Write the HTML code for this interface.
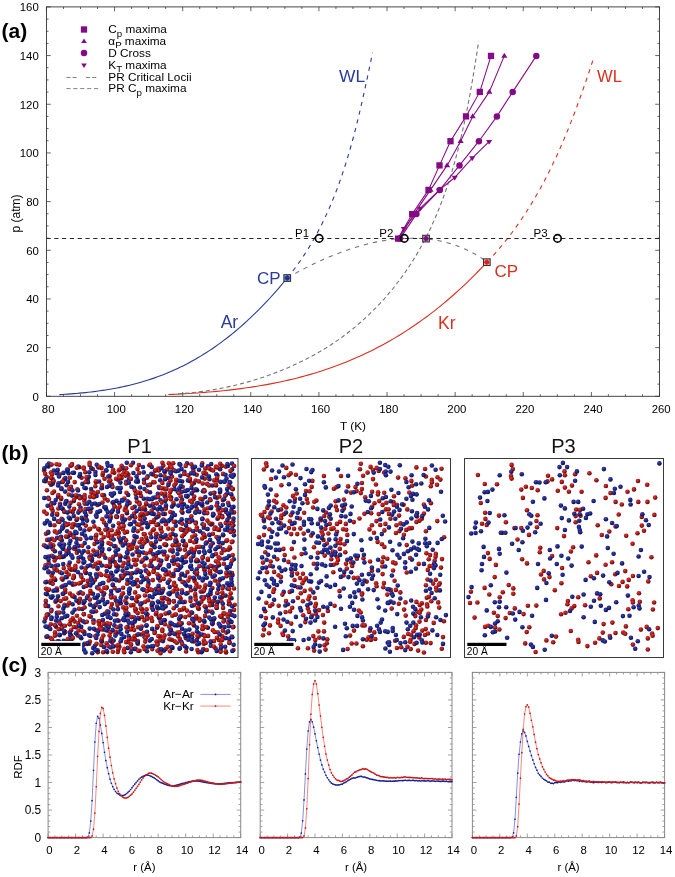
<!DOCTYPE html>
<html lang="en"><head><meta charset="utf-8"><title>Figure</title>
<style>html,body{margin:0;padding:0;background:#fff}svg{display:block}</style></head><body>
<svg width="675" height="877" viewBox="0 0 675 877">
<rect width="675" height="877" fill="#fff"/>
<defs>
<radialGradient id="gr" cx="0.4" cy="0.35" r="0.65"><stop offset="0" stop-color="#dc3832"/><stop offset="0.45" stop-color="#b81a18"/><stop offset="1" stop-color="#520808"/></radialGradient>
<radialGradient id="gb" cx="0.4" cy="0.35" r="0.65"><stop offset="0" stop-color="#3846b4"/><stop offset="0.45" stop-color="#202890"/><stop offset="1" stop-color="#0a0c40"/></radialGradient>
<circle id="r" r="2.3" fill="url(#gr)"/><circle id="b" r="2.3" fill="url(#gb)"/>
</defs>
<g id="top">
<path d="M59.39 394.65 L62.28 394.48 L65.16 394.30 L68.04 394.10 L70.93 393.89 L73.81 393.67 L76.70 393.43 L79.58 393.17 L82.47 392.90 L85.35 392.60 L88.23 392.29 L91.12 391.96 L94.00 391.61 L96.89 391.23 L99.77 390.83 L102.65 390.41 L105.54 389.97 L108.42 389.50 L111.31 389.00 L114.19 388.48 L117.08 387.93 L119.96 387.35 L122.84 386.74 L125.73 386.11 L128.61 385.44 L131.50 384.74 L134.38 384.00 L137.27 383.23 L140.15 382.43 L143.03 381.59 L145.92 380.72 L148.80 379.81 L151.69 378.86 L154.57 377.87 L157.45 376.84 L160.34 375.77 L163.22 374.66 L166.11 373.51 L168.99 372.31 L171.88 371.07 L174.76 369.79 L177.64 368.46 L180.53 367.08 L183.41 365.66 L186.30 364.19 L189.18 362.67 L192.06 361.10 L194.95 359.49 L197.83 357.82 L200.72 356.10 L203.60 354.33 L206.49 352.50 L209.37 350.63 L212.25 348.70 L215.14 346.71 L218.02 344.67 L220.91 342.58 L223.79 340.43 L226.67 338.22 L229.56 335.95 L232.44 333.63 L235.33 331.25 L238.21 328.81 L241.10 326.31 L243.98 323.76 L246.86 321.14 L249.75 318.46 L252.63 315.72 L255.52 312.92 L258.40 310.06 L261.28 307.14 L264.17 304.16 L267.05 301.11 L269.94 298.00 L272.82 294.83 L275.71 291.59 L278.59 288.30 L281.47 284.93 L284.36 281.51 L287.24 278.02" fill="none" stroke="#2a3b9b" stroke-width="1.1"/>
<path d="M168.38 394.55 L172.41 394.37 L176.44 394.18 L180.47 393.97 L184.50 393.75 L188.53 393.52 L192.56 393.27 L196.60 392.99 L200.63 392.71 L204.66 392.40 L208.69 392.07 L212.72 391.72 L216.75 391.35 L220.78 390.96 L224.81 390.54 L228.84 390.10 L232.87 389.63 L236.91 389.14 L240.94 388.62 L244.97 388.07 L249.00 387.49 L253.03 386.88 L257.06 386.24 L261.09 385.57 L265.12 384.86 L269.15 384.12 L273.18 383.35 L277.21 382.54 L281.25 381.69 L285.28 380.81 L289.31 379.88 L293.34 378.91 L297.37 377.91 L301.40 376.86 L305.43 375.76 L309.46 374.62 L313.49 373.44 L317.52 372.21 L321.56 370.93 L325.59 369.60 L329.62 368.22 L333.65 366.79 L337.68 365.31 L341.71 363.77 L345.74 362.18 L349.77 360.53 L353.80 358.82 L357.83 357.06 L361.86 355.24 L365.90 353.35 L369.93 351.41 L373.96 349.40 L377.99 347.32 L382.02 345.19 L386.05 342.98 L390.08 340.70 L394.11 338.36 L398.14 335.95 L402.17 333.46 L406.21 330.90 L410.24 328.26 L414.27 325.55 L418.30 322.77 L422.33 319.90 L426.36 316.95 L430.39 313.93 L434.42 310.82 L438.45 307.62 L442.48 304.34 L446.51 300.98 L450.55 297.52 L454.58 293.98 L458.61 290.34 L462.64 286.61 L466.67 282.79 L470.70 278.87 L474.73 274.85 L478.76 270.74 L482.79 266.52 L486.82 262.20" fill="none" stroke="#d8301f" stroke-width="1.1"/>
<path d="M287.24 278.02 L289.21 275.61 L291.14 273.18 L293.05 270.72 L294.91 268.25 L296.75 265.76 L298.55 263.26 L300.32 260.73 L302.06 258.19 L303.77 255.63 L305.45 253.05 L307.10 250.46 L308.72 247.85 L310.32 245.22 L311.88 242.58 L313.41 239.93 L314.92 237.26 L316.40 234.57 L317.85 231.87 L319.28 229.15 L320.68 226.42 L322.05 223.68 L323.40 220.93 L324.73 218.16 L326.03 215.38 L327.30 212.59 L328.56 209.78 L329.79 206.97 L330.99 204.14 L332.18 201.30 L333.34 198.45 L334.48 195.60 L335.60 192.73 L336.70 189.85 L337.78 186.96 L338.85 184.07 L339.89 181.16 L340.91 178.25 L341.91 175.33 L342.90 172.40 L343.87 169.46 L344.82 166.52 L345.76 163.57 L346.68 160.61 L347.58 157.65 L348.47 154.68 L349.34 151.71 L350.20 148.73 L351.04 145.75 L351.87 142.76 L352.69 139.77 L353.49 136.77 L354.29 133.77 L355.07 130.77 L355.84 127.77 L356.59 124.76 L357.34 121.75 L358.08 118.74 L358.80 115.73 L359.52 112.71 L360.23 109.70 L360.93 106.68 L361.62 103.66 L362.31 100.65 L362.98 97.63 L363.65 94.62 L364.32 91.60 L364.98 88.59 L365.63 85.58 L366.28 82.57 L366.92 79.56 L367.56 76.56 L368.19 73.56 L368.82 70.56 L369.45 67.56 L370.07 64.57 L370.70 61.59 L371.32 58.60 L371.94 55.63 L372.56 52.65" fill="none" stroke="#2a3b9b" stroke-width="1.1" stroke-dasharray="4.3 4.7"/>
<path d="M487.16 261.96 L489.19 259.82 L491.20 257.68 L493.18 255.51 L495.13 253.33 L497.06 251.13 L498.97 248.91 L500.86 246.68 L502.73 244.44 L504.57 242.17 L506.39 239.90 L508.19 237.61 L509.97 235.30 L511.72 232.98 L513.46 230.64 L515.17 228.29 L516.87 225.93 L518.54 223.56 L520.19 221.17 L521.83 218.76 L523.44 216.35 L525.04 213.92 L526.61 211.48 L528.17 209.03 L529.71 206.56 L531.23 204.09 L532.73 201.60 L534.22 199.10 L535.69 196.59 L537.14 194.07 L538.57 191.54 L539.99 189.00 L541.39 186.45 L542.77 183.89 L544.14 181.32 L545.49 178.74 L546.83 176.15 L548.15 173.56 L549.45 170.95 L550.74 168.34 L552.02 165.72 L553.28 163.09 L554.53 160.45 L555.76 157.81 L556.98 155.16 L558.19 152.50 L559.39 149.83 L560.57 147.16 L561.74 144.48 L562.89 141.80 L564.04 139.11 L565.17 136.42 L566.29 133.72 L567.40 131.01 L568.50 128.30 L569.59 125.59 L570.67 122.87 L571.73 120.15 L572.79 117.42 L573.84 114.69 L574.87 111.96 L575.90 109.22 L576.92 106.48 L577.93 103.74 L578.93 101.00 L579.92 98.25 L580.91 95.50 L581.89 92.75 L582.86 90.00 L583.82 87.25 L584.77 84.50 L585.72 81.74 L586.66 78.99 L587.60 76.23 L588.53 73.48 L589.45 70.72 L590.37 67.97 L591.28 65.22 L592.18 62.46 L593.09 59.71" fill="none" stroke="#d8301f" stroke-width="1.1" stroke-dasharray="4.3 4.7"/>
<path d="M287.24 278.02 L289.49 276.72 L291.75 275.42 L294.04 274.13 L296.34 272.86 L298.67 271.59 L301.00 270.34 L303.36 269.10 L305.74 267.87 L308.13 266.65 L310.53 265.45 L312.95 264.26 L315.39 263.09 L317.84 261.94 L320.31 260.81 L322.78 259.69 L325.27 258.59 L327.78 257.51 L330.29 256.46 L332.82 255.42 L335.36 254.41 L337.91 253.42 L340.47 252.45 L343.03 251.51 L345.61 250.59 L348.20 249.70 L350.79 248.84 L353.39 248.00 L356.00 247.20 L358.62 246.42 L361.24 245.67 L363.87 244.95 L366.50 244.27 L369.14 243.61 L371.78 242.99 L374.42 242.41 L377.07 241.86 L379.72 241.34 L382.38 240.86 L385.03 240.42 L387.69 240.01 L390.35 239.65 L393.00 239.32 L395.66 239.03 L398.32 238.79 L400.97 238.58 L403.63 238.42 L406.28 238.30 L408.93 238.23 L411.58 238.20 L414.22 238.21 L416.86 238.27 L419.50 238.38 L422.12 238.54 L424.75 238.74 L427.37 239.00 L429.98 239.30 L432.58 239.66 L435.18 240.07 L437.77 240.53 L440.35 241.04 L442.93 241.61 L445.49 242.23 L448.04 242.91 L450.59 243.64 L453.12 244.44 L455.64 245.29 L458.15 246.19 L460.65 247.16 L463.13 248.19 L465.60 249.28 L468.06 250.43 L470.50 251.64 L472.93 252.92 L475.34 254.26 L477.74 255.67 L480.12 257.14 L482.49 258.68 L484.84 260.28 L487.17 261.96" fill="none" stroke="#757575" stroke-width="1.1" stroke-dasharray="4.3 5"/>
<path d="M177.91 393.87 L184.29 393.40 L190.69 392.82 L197.09 392.11 L203.49 391.27 L209.90 390.30 L216.30 389.22 L222.69 388.00 L229.07 386.66 L235.43 385.20 L241.76 383.61 L248.07 381.89 L254.34 380.05 L260.58 378.09 L266.78 376.00 L272.94 373.78 L279.04 371.44 L285.09 368.98 L291.08 366.38 L297.01 363.67 L302.86 360.83 L308.65 357.86 L314.36 354.77 L319.99 351.55 L325.53 348.21 L330.98 344.74 L336.34 341.15 L341.60 337.44 L346.76 333.60 L351.81 329.64 L356.77 325.56 L361.62 321.37 L366.36 317.07 L371.00 312.65 L375.53 308.14 L379.95 303.51 L384.27 298.79 L388.47 293.96 L392.57 289.04 L396.55 284.03 L400.41 278.93 L404.17 273.74 L407.81 268.46 L411.33 263.10 L414.74 257.66 L418.02 252.14 L421.19 246.55 L424.24 240.89 L427.18 235.16 L430.01 229.36 L432.72 223.50 L435.33 217.59 L437.84 211.61 L440.26 205.59 L442.57 199.52 L444.79 193.40 L446.93 187.24 L448.98 181.04 L450.94 174.81 L452.83 168.54 L454.64 162.24 L456.37 155.92 L458.04 149.58 L459.63 143.21 L461.17 136.83 L462.64 130.44 L464.06 124.04 L465.42 117.63 L466.73 111.22 L467.99 104.81 L469.20 98.41 L470.38 92.01 L471.52 85.62 L472.62 79.24 L473.68 72.89 L474.72 66.55 L475.74 60.23 L476.73 53.94 L477.70 47.69 L478.65 41.46" fill="none" stroke="#757575" stroke-width="1.1" stroke-dasharray="4.1 2.9"/>
<path d="M46.45 238.50 H659.50" fill="none" stroke="#000" stroke-width="0.85" stroke-dasharray="4.2 3.6"/>
<path d="M398.10 238.60 L412.20 214.10 L428.50 189.90 L439.50 165.40 L450.50 141.20 L466.00 116.40 L479.80 91.90 L491.00 55.90" fill="none" stroke="#850a85" stroke-width="1.05"/>
<rect x="394.95" y="235.45" width="6.30" height="6.30" fill="#850a85"/>
<rect x="409.05" y="210.95" width="6.30" height="6.30" fill="#850a85"/>
<rect x="425.35" y="186.75" width="6.30" height="6.30" fill="#850a85"/>
<rect x="436.35" y="162.25" width="6.30" height="6.30" fill="#850a85"/>
<rect x="447.35" y="138.05" width="6.30" height="6.30" fill="#850a85"/>
<rect x="462.85" y="113.25" width="6.30" height="6.30" fill="#850a85"/>
<rect x="476.65" y="88.75" width="6.30" height="6.30" fill="#850a85"/>
<rect x="487.85" y="52.75" width="6.30" height="6.30" fill="#850a85"/>
<path d="M399.00 238.60 L414.00 214.10 L430.50 189.90 L447.10 165.40 L460.60 141.20 L472.70 116.40 L489.30 91.90 L504.30 55.90" fill="none" stroke="#850a85" stroke-width="1.05"/>
<path d="M399.00 235.46 L402.05 240.36 L395.95 240.36 Z" fill="#850a85"/>
<path d="M414.00 210.96 L417.05 215.86 L410.95 215.86 Z" fill="#850a85"/>
<path d="M430.50 186.76 L433.55 191.66 L427.45 191.66 Z" fill="#850a85"/>
<path d="M447.10 162.26 L450.15 167.16 L444.05 167.16 Z" fill="#850a85"/>
<path d="M460.60 138.06 L463.65 142.96 L457.55 142.96 Z" fill="#850a85"/>
<path d="M472.70 113.26 L475.75 118.16 L469.65 118.16 Z" fill="#850a85"/>
<path d="M489.30 88.76 L492.35 93.66 L486.25 93.66 Z" fill="#850a85"/>
<path d="M504.30 52.76 L507.35 57.66 L501.25 57.66 Z" fill="#850a85"/>
<path d="M400.00 238.60 L416.40 214.10 L439.80 189.90 L459.50 165.40 L478.90 141.20 L496.90 116.40 L512.70 91.90 L536.30 55.90" fill="none" stroke="#850a85" stroke-width="1.05"/>
<circle cx="400.00" cy="238.60" r="3.25" fill="#850a85"/>
<circle cx="416.40" cy="214.10" r="3.25" fill="#850a85"/>
<circle cx="439.80" cy="189.90" r="3.25" fill="#850a85"/>
<circle cx="459.50" cy="165.40" r="3.25" fill="#850a85"/>
<circle cx="478.90" cy="141.20" r="3.25" fill="#850a85"/>
<circle cx="496.90" cy="116.40" r="3.25" fill="#850a85"/>
<circle cx="512.70" cy="91.90" r="3.25" fill="#850a85"/>
<circle cx="536.30" cy="55.90" r="3.25" fill="#850a85"/>
<path d="M398.00 238.60 L403.80 228.70 L420.10 208.40 L439.00 190.40 L454.70 177.50 L472.20 158.10 L489.10 141.70" fill="none" stroke="#850a85" stroke-width="1.05"/>
<path d="M398.00 241.74 L401.05 236.84 L394.95 236.84 Z" fill="#850a85"/>
<path d="M403.80 231.84 L406.85 226.94 L400.75 226.94 Z" fill="#850a85"/>
<path d="M420.10 211.54 L423.15 206.64 L417.05 206.64 Z" fill="#850a85"/>
<path d="M439.00 193.54 L442.05 188.64 L435.95 188.64 Z" fill="#850a85"/>
<path d="M454.70 180.64 L457.75 175.74 L451.65 175.74 Z" fill="#850a85"/>
<path d="M472.20 161.24 L475.25 156.34 L469.15 156.34 Z" fill="#850a85"/>
<path d="M489.10 144.84 L492.15 139.94 L486.05 139.94 Z" fill="#850a85"/>
<rect x="283.89" y="274.67" width="6.7" height="6.7" fill="#8f9bd0" stroke="#2a2a30" stroke-width="1"/>
<path d="M287.24 275.12 l2.9 2.9 l-2.9 2.9 l-2.9 -2.9z" fill="#24358f"/><circle cx="287.24" cy="278.02" r="2.3" fill="#24358f"/>
<rect x="483.47" y="258.85" width="6.7" height="6.7" fill="#f4b0a8" stroke="#2a2a30" stroke-width="1"/>
<path d="M486.82 259.30 l2.9 2.9 l-2.9 2.9 l-2.9 -2.9z" fill="#e0201c"/><circle cx="486.82" cy="262.20" r="2.3" fill="#e0201c"/>
<rect x="422.68" y="235.24" width="6.7" height="6.7" fill="#c090c0" stroke="#2a2a30" stroke-width="1"/>
<path d="M426.03 235.69 l2.9 2.9 l-2.9 2.9 l-2.9 -2.9z" fill="#7a0f7a"/><circle cx="426.03" cy="238.59" r="2.3" fill="#7a0f7a"/>
<circle cx="319.12" cy="238.40" r="3.7" fill="none" stroke="#000" stroke-width="1.7"/>
<circle cx="404.26" cy="238.40" r="3.7" fill="none" stroke="#000" stroke-width="1.7"/>
<circle cx="557.53" cy="238.40" r="3.7" fill="none" stroke="#000" stroke-width="1.7"/>
<rect x="46.45" y="6.90" width="613.05" height="389.40" fill="none" stroke="#333" stroke-width="0.9"/>
<path d="M46.45 396.30 v-4.30 M46.45 6.90 v4.30 M63.48 396.30 v-2.10 M63.48 6.90 v2.10 M80.51 396.30 v-2.10 M80.51 6.90 v2.10 M97.54 396.30 v-2.10 M97.54 6.90 v2.10 M114.57 396.30 v-4.30 M114.57 6.90 v4.30 M131.60 396.30 v-2.10 M131.60 6.90 v2.10 M148.62 396.30 v-2.10 M148.62 6.90 v2.10 M165.65 396.30 v-2.10 M165.65 6.90 v2.10 M182.68 396.30 v-4.30 M182.68 6.90 v4.30 M199.71 396.30 v-2.10 M199.71 6.90 v2.10 M216.74 396.30 v-2.10 M216.74 6.90 v2.10 M233.77 396.30 v-2.10 M233.77 6.90 v2.10 M250.80 396.30 v-4.30 M250.80 6.90 v4.30 M267.83 396.30 v-2.10 M267.83 6.90 v2.10 M284.86 396.30 v-2.10 M284.86 6.90 v2.10 M301.89 396.30 v-2.10 M301.89 6.90 v2.10 M318.92 396.30 v-4.30 M318.92 6.90 v4.30 M335.95 396.30 v-2.10 M335.95 6.90 v2.10 M352.97 396.30 v-2.10 M352.97 6.90 v2.10 M370.00 396.30 v-2.10 M370.00 6.90 v2.10 M387.03 396.30 v-4.30 M387.03 6.90 v4.30 M404.06 396.30 v-2.10 M404.06 6.90 v2.10 M421.09 396.30 v-2.10 M421.09 6.90 v2.10 M438.12 396.30 v-2.10 M438.12 6.90 v2.10 M455.15 396.30 v-4.30 M455.15 6.90 v4.30 M472.18 396.30 v-2.10 M472.18 6.90 v2.10 M489.21 396.30 v-2.10 M489.21 6.90 v2.10 M506.24 396.30 v-2.10 M506.24 6.90 v2.10 M523.27 396.30 v-4.30 M523.27 6.90 v4.30 M540.30 396.30 v-2.10 M540.30 6.90 v2.10 M557.33 396.30 v-2.10 M557.33 6.90 v2.10 M574.35 396.30 v-2.10 M574.35 6.90 v2.10 M591.38 396.30 v-4.30 M591.38 6.90 v4.30 M608.41 396.30 v-2.10 M608.41 6.90 v2.10 M625.44 396.30 v-2.10 M625.44 6.90 v2.10 M642.47 396.30 v-2.10 M642.47 6.90 v2.10 M659.50 396.30 v-4.30 M659.50 6.90 v4.30 M46.45 396.30 h4.30 M659.50 396.30 h-4.30 M46.45 384.13 h2.10 M659.50 384.13 h-2.10 M46.45 371.96 h2.10 M659.50 371.96 h-2.10 M46.45 359.79 h2.10 M659.50 359.79 h-2.10 M46.45 347.62 h4.30 M659.50 347.62 h-4.30 M46.45 335.46 h2.10 M659.50 335.46 h-2.10 M46.45 323.29 h2.10 M659.50 323.29 h-2.10 M46.45 311.12 h2.10 M659.50 311.12 h-2.10 M46.45 298.95 h4.30 M659.50 298.95 h-4.30 M46.45 286.78 h2.10 M659.50 286.78 h-2.10 M46.45 274.61 h2.10 M659.50 274.61 h-2.10 M46.45 262.44 h2.10 M659.50 262.44 h-2.10 M46.45 250.27 h4.30 M659.50 250.27 h-4.30 M46.45 238.11 h2.10 M659.50 238.11 h-2.10 M46.45 225.94 h2.10 M659.50 225.94 h-2.10 M46.45 213.77 h2.10 M659.50 213.77 h-2.10 M46.45 201.60 h4.30 M659.50 201.60 h-4.30 M46.45 189.43 h2.10 M659.50 189.43 h-2.10 M46.45 177.26 h2.10 M659.50 177.26 h-2.10 M46.45 165.09 h2.10 M659.50 165.09 h-2.10 M46.45 152.93 h4.30 M659.50 152.93 h-4.30 M46.45 140.76 h2.10 M659.50 140.76 h-2.10 M46.45 128.59 h2.10 M659.50 128.59 h-2.10 M46.45 116.42 h2.10 M659.50 116.42 h-2.10 M46.45 104.25 h4.30 M659.50 104.25 h-4.30 M46.45 92.08 h2.10 M659.50 92.08 h-2.10 M46.45 79.91 h2.10 M659.50 79.91 h-2.10 M46.45 67.74 h2.10 M659.50 67.74 h-2.10 M46.45 55.57 h4.30 M659.50 55.57 h-4.30 M46.45 43.41 h2.10 M659.50 43.41 h-2.10 M46.45 31.24 h2.10 M659.50 31.24 h-2.10 M46.45 19.07 h2.10 M659.50 19.07 h-2.10 M46.45 6.90 h4.30 M659.50 6.90 h-4.30" stroke="#333" stroke-width="0.75" fill="none"/>
<g font-family='"Liberation Sans", Arial, Helvetica, sans-serif' font-size="11.4" fill="#000">
<text x="48.15" y="412.60" text-anchor="middle">80</text>
<text x="116.27" y="412.60" text-anchor="middle">100</text>
<text x="184.38" y="412.60" text-anchor="middle">120</text>
<text x="252.50" y="412.60" text-anchor="middle">140</text>
<text x="320.62" y="412.60" text-anchor="middle">160</text>
<text x="388.73" y="412.60" text-anchor="middle">180</text>
<text x="456.85" y="412.60" text-anchor="middle">200</text>
<text x="524.97" y="412.60" text-anchor="middle">220</text>
<text x="593.08" y="412.60" text-anchor="middle">240</text>
<text x="661.20" y="412.60" text-anchor="middle">260</text>
<text x="38.80" y="400.70" text-anchor="end">0</text>
<text x="38.80" y="352.02" text-anchor="end">20</text>
<text x="38.80" y="303.35" text-anchor="end">40</text>
<text x="38.80" y="254.67" text-anchor="end">60</text>
<text x="38.80" y="206.00" text-anchor="end">80</text>
<text x="38.80" y="157.33" text-anchor="end">100</text>
<text x="38.80" y="108.65" text-anchor="end">120</text>
<text x="38.80" y="59.97" text-anchor="end">140</text>
<text x="38.80" y="11.30" text-anchor="end">160</text>
<text x="353" y="430.4" text-anchor="middle" font-size="11.8">T (K)</text>
<text transform="translate(20.1,213.4) rotate(-90)" text-anchor="middle" font-size="12">p (atm)</text>
</g>
<g font-family='"Liberation Sans", Arial, Helvetica, sans-serif' font-size="11.8" fill="#000">
<rect x="80.85" y="26.35" width="6.30" height="6.30" fill="#850a85"/>
<path d="M84.00 38.41 L86.81 42.92 L81.19 42.92 Z" fill="#850a85"/>
<circle cx="84.00" cy="53.10" r="3.25" fill="#850a85"/>
<path d="M84.00 67.89 L86.81 63.38 L81.19 63.38 Z" fill="#850a85"/>
<text x="108.3" y="33.1">C<tspan dy="3.5" font-size="9.7">p</tspan><tspan dy="-3.5"> maxima</tspan></text>
<text x="108.3" y="44.9">α<tspan dy="3.5" font-size="9.7">P</tspan><tspan dy="-3.5"> maxima</tspan></text>
<text x="108.3" y="56.7">D Cross</text>
<text x="108.3" y="68.6">K<tspan dy="3.5" font-size="9.7">T</tspan><tspan dy="-3.5"> maxima</tspan></text>
<text x="108.3" y="81.1">PR Critical Locii</text>
<text x="108.3" y="92.2">PR C<tspan dy="3.5" font-size="9.7">p</tspan><tspan dy="-3.5"> maxima</tspan></text>
<path d="M66.4 77.5 H96.5" stroke="#757575" stroke-width="0.9" stroke-dasharray="4.1 2.1 4.1 9.3" fill="none"/>
<path d="M66.4 88.6 H99.8" stroke="#757575" stroke-width="0.9" stroke-dasharray="4.1 2.8" fill="none"/>
</g>
<g font-family='"Liberation Sans", Arial, Helvetica, sans-serif'>
<text x="1.6" y="38.2" font-size="21" font-weight="bold" fill="#000">(a)</text>
<text x="339" y="82" font-size="17.4" fill="#2a3b9b">WL</text>
<text x="597" y="82.4" font-size="16.6" fill="#d8301f">WL</text>
<text x="256.9" y="284" font-size="17" fill="#2a3b9b">CP</text>
<text x="494.5" y="277.4" font-size="17" fill="#d8301f">CP</text>
<text x="220.7" y="328" font-size="17.5" fill="#2a3b9b">Ar</text>
<text x="438" y="329" font-size="17.5" fill="#d8301f">Kr</text>
<text x="295" y="236.5" font-size="11.5" fill="#000">P1</text>
<text x="379.3" y="236.5" font-size="11.5" fill="#000">P2</text>
<text x="533.5" y="236.5" font-size="11.5" fill="#000">P3</text>
</g>
</g>
<text x="1.6" y="459.5" font-family='"Liberation Sans", Arial, Helvetica, sans-serif' font-size="21" font-weight="bold" fill="#000">(b)</text>
<text x="1.6" y="672.3" font-family='"Liberation Sans", Arial, Helvetica, sans-serif' font-size="21" font-weight="bold" fill="#000">(c)</text>
<g>
<use href="#r" x="198.5" y="608.4"/>
<use href="#r" x="172.0" y="476.6"/>
<use href="#b" x="60.5" y="545.6"/>
<use href="#r" x="85.5" y="509.1"/>
<use href="#r" x="226.2" y="541.0"/>
<use href="#b" x="230.9" y="487.4"/>
<use href="#r" x="216.0" y="466.5"/>
<use href="#b" x="58.5" y="483.3"/>
<use href="#b" x="220.5" y="650.0"/>
<use href="#r" x="209.5" y="534.9"/>
<use href="#b" x="230.7" y="475.6"/>
<use href="#r" x="131.2" y="544.7"/>
<use href="#b" x="117.4" y="488.1"/>
<use href="#r" x="124.5" y="471.3"/>
<use href="#b" x="56.9" y="514.0"/>
<use href="#b" x="180.3" y="475.7"/>
<use href="#b" x="187.2" y="521.5"/>
<use href="#b" x="212.7" y="543.2"/>
<use href="#b" x="213.1" y="620.2"/>
<use href="#b" x="50.3" y="525.0"/>
<use href="#b" x="135.6" y="609.2"/>
<use href="#r" x="216.0" y="561.2"/>
<use href="#r" x="52.1" y="640.7"/>
<use href="#b" x="120.5" y="625.7"/>
<use href="#b" x="93.1" y="582.2"/>
<use href="#r" x="97.9" y="492.1"/>
<use href="#r" x="97.7" y="652.3"/>
<use href="#b" x="44.2" y="498.0"/>
<use href="#r" x="163.7" y="578.9"/>
<use href="#r" x="199.5" y="618.8"/>
<use href="#r" x="119.4" y="646.8"/>
<use href="#r" x="211.2" y="469.7"/>
<use href="#r" x="182.7" y="486.7"/>
<use href="#r" x="115.5" y="579.3"/>
<use href="#b" x="147.5" y="498.7"/>
<use href="#b" x="164.8" y="496.4"/>
<use href="#r" x="203.8" y="643.8"/>
<use href="#r" x="193.9" y="605.1"/>
<use href="#r" x="111.6" y="484.2"/>
<use href="#r" x="159.7" y="640.4"/>
<use href="#r" x="52.0" y="538.8"/>
<use href="#r" x="87.9" y="596.1"/>
<use href="#b" x="141.4" y="546.6"/>
<use href="#b" x="218.2" y="589.0"/>
<use href="#b" x="63.7" y="640.7"/>
<use href="#b" x="215.4" y="527.8"/>
<use href="#r" x="226.1" y="512.0"/>
<use href="#b" x="163.3" y="537.3"/>
<use href="#b" x="64.9" y="523.2"/>
<use href="#r" x="125.4" y="610.7"/>
<use href="#r" x="152.0" y="602.7"/>
<use href="#r" x="170.2" y="550.5"/>
<use href="#r" x="218.9" y="640.0"/>
<use href="#b" x="184.4" y="545.2"/>
<use href="#b" x="52.9" y="483.6"/>
<use href="#b" x="233.3" y="525.3"/>
<use href="#b" x="115.9" y="600.5"/>
<use href="#b" x="83.5" y="602.9"/>
<use href="#r" x="196.9" y="527.5"/>
<use href="#b" x="155.9" y="537.6"/>
<use href="#r" x="144.0" y="521.9"/>
<use href="#r" x="210.5" y="594.2"/>
<use href="#b" x="231.5" y="598.2"/>
<use href="#b" x="217.4" y="475.4"/>
<use href="#b" x="216.7" y="608.0"/>
<use href="#r" x="176.7" y="480.2"/>
<use href="#b" x="195.3" y="512.3"/>
<use href="#b" x="183.5" y="530.1"/>
<use href="#b" x="161.9" y="592.6"/>
<use href="#b" x="127.8" y="647.9"/>
<use href="#r" x="110.8" y="595.0"/>
<use href="#r" x="152.2" y="649.1"/>
<use href="#r" x="107.4" y="611.3"/>
<use href="#b" x="178.3" y="505.6"/>
<use href="#r" x="106.6" y="643.2"/>
<use href="#b" x="157.7" y="509.4"/>
<use href="#b" x="159.6" y="618.5"/>
<use href="#b" x="58.1" y="521.4"/>
<use href="#b" x="179.5" y="648.7"/>
<use href="#r" x="57.5" y="600.0"/>
<use href="#r" x="191.0" y="590.3"/>
<use href="#r" x="95.7" y="630.0"/>
<use href="#b" x="125.0" y="519.6"/>
<use href="#r" x="79.1" y="511.0"/>
<use href="#r" x="112.8" y="646.0"/>
<use href="#b" x="93.0" y="593.8"/>
<use href="#r" x="65.3" y="592.1"/>
<use href="#b" x="219.0" y="537.6"/>
<use href="#b" x="149.8" y="640.6"/>
<use href="#r" x="89.8" y="641.5"/>
<use href="#r" x="225.8" y="466.6"/>
<use href="#r" x="51.8" y="555.8"/>
<use href="#b" x="47.1" y="594.2"/>
<use href="#r" x="131.7" y="598.0"/>
<use href="#b" x="83.1" y="621.3"/>
<use href="#r" x="111.0" y="638.8"/>
<use href="#b" x="232.1" y="585.0"/>
<use href="#b" x="110.7" y="517.5"/>
<use href="#r" x="190.0" y="480.9"/>
<use href="#r" x="205.0" y="473.3"/>
<use href="#r" x="46.8" y="477.0"/>
<use href="#r" x="178.8" y="623.6"/>
<use href="#b" x="106.7" y="571.1"/>
<use href="#b" x="95.4" y="472.1"/>
<use href="#r" x="168.0" y="574.2"/>
<use href="#b" x="184.0" y="582.2"/>
<use href="#r" x="173.6" y="575.9"/>
<use href="#r" x="124.7" y="510.0"/>
<use href="#r" x="45.8" y="649.9"/>
<use href="#r" x="219.5" y="580.4"/>
<use href="#b" x="191.6" y="649.0"/>
<use href="#r" x="137.3" y="596.9"/>
<use href="#b" x="181.5" y="468.9"/>
<use href="#b" x="123.1" y="619.5"/>
<use href="#b" x="175.6" y="535.2"/>
<use href="#b" x="110.8" y="493.9"/>
<use href="#b" x="56.8" y="612.9"/>
<use href="#b" x="64.4" y="511.8"/>
<use href="#r" x="46.0" y="533.8"/>
<use href="#b" x="196.9" y="639.9"/>
<use href="#r" x="114.6" y="588.1"/>
<use href="#r" x="123.7" y="563.1"/>
<use href="#r" x="186.9" y="610.6"/>
<use href="#b" x="147.9" y="485.3"/>
<use href="#b" x="217.3" y="502.9"/>
<use href="#r" x="111.1" y="607.4"/>
<use href="#r" x="104.5" y="478.7"/>
<use href="#r" x="59.5" y="648.2"/>
<use href="#r" x="204.3" y="512.5"/>
<use href="#r" x="149.0" y="574.1"/>
<use href="#b" x="77.4" y="650.5"/>
<use href="#b" x="79.1" y="525.0"/>
<use href="#r" x="160.5" y="528.9"/>
<use href="#r" x="179.8" y="639.1"/>
<use href="#b" x="202.9" y="491.2"/>
<use href="#b" x="55.5" y="565.7"/>
<use href="#r" x="112.0" y="535.7"/>
<use href="#r" x="103.4" y="635.5"/>
<use href="#b" x="67.7" y="651.5"/>
<use href="#r" x="140.6" y="516.6"/>
<use href="#r" x="136.5" y="551.7"/>
<use href="#b" x="106.4" y="625.8"/>
<use href="#r" x="189.6" y="529.5"/>
<use href="#r" x="95.3" y="636.1"/>
<use href="#b" x="127.0" y="552.4"/>
<use href="#b" x="60.6" y="628.8"/>
<use href="#b" x="228.9" y="604.2"/>
<use href="#b" x="83.2" y="558.7"/>
<use href="#r" x="51.5" y="508.3"/>
<use href="#b" x="75.2" y="531.8"/>
<use href="#b" x="188.1" y="553.6"/>
<use href="#r" x="221.6" y="616.9"/>
<use href="#r" x="177.3" y="632.5"/>
<use href="#b" x="66.6" y="485.2"/>
<use href="#r" x="83.7" y="467.5"/>
<use href="#r" x="163.3" y="519.5"/>
<use href="#b" x="121.9" y="578.2"/>
<use href="#r" x="228.2" y="622.7"/>
<use href="#r" x="45.4" y="618.2"/>
<use href="#r" x="102.3" y="519.3"/>
<use href="#b" x="129.7" y="638.0"/>
<use href="#r" x="98.5" y="621.4"/>
<use href="#r" x="104.3" y="587.8"/>
<use href="#b" x="71.2" y="635.5"/>
<use href="#r" x="108.4" y="543.0"/>
<use href="#r" x="234.0" y="609.9"/>
<use href="#r" x="70.7" y="534.9"/>
<use href="#r" x="202.2" y="463.4"/>
<use href="#r" x="147.4" y="614.2"/>
<use href="#b" x="207.9" y="627.7"/>
<use href="#b" x="64.2" y="633.3"/>
<use href="#b" x="188.0" y="511.2"/>
<use href="#r" x="174.1" y="582.9"/>
<use href="#r" x="96.0" y="611.2"/>
<use href="#r" x="148.3" y="590.0"/>
<use href="#b" x="222.1" y="516.1"/>
<use href="#r" x="122.8" y="529.3"/>
<use href="#r" x="164.6" y="476.3"/>
<use href="#b" x="198.8" y="633.4"/>
<use href="#b" x="84.5" y="643.8"/>
<use href="#b" x="208.3" y="567.2"/>
<use href="#b" x="102.0" y="553.4"/>
<use href="#b" x="212.4" y="604.9"/>
<use href="#r" x="100.0" y="562.9"/>
<use href="#r" x="193.5" y="499.3"/>
<use href="#r" x="228.4" y="549.7"/>
<use href="#r" x="198.0" y="503.0"/>
<use href="#r" x="143.7" y="534.0"/>
<use href="#r" x="134.3" y="540.6"/>
<use href="#b" x="51.7" y="597.6"/>
<use href="#r" x="99.9" y="573.9"/>
<use href="#r" x="164.3" y="544.5"/>
<use href="#r" x="70.5" y="502.9"/>
<use href="#r" x="114.2" y="506.0"/>
<use href="#b" x="202.4" y="562.3"/>
<use href="#b" x="106.1" y="525.1"/>
<use href="#r" x="189.5" y="635.8"/>
<use href="#r" x="51.6" y="575.6"/>
<use href="#b" x="72.4" y="645.8"/>
<use href="#b" x="135.2" y="583.8"/>
<use href="#r" x="219.9" y="546.6"/>
<use href="#r" x="95.3" y="486.2"/>
<use href="#b" x="129.1" y="478.5"/>
<use href="#b" x="164.4" y="597.7"/>
<use href="#r" x="196.9" y="547.0"/>
<use href="#b" x="81.9" y="497.2"/>
<use href="#b" x="177.2" y="593.9"/>
<use href="#r" x="81.6" y="477.7"/>
<use href="#b" x="193.9" y="552.7"/>
<use href="#r" x="68.6" y="565.3"/>
<use href="#b" x="179.8" y="568.1"/>
<use href="#b" x="169.6" y="519.8"/>
<use href="#r" x="213.1" y="513.9"/>
<use href="#r" x="64.1" y="479.4"/>
<use href="#b" x="232.0" y="463.5"/>
<use href="#r" x="204.8" y="537.0"/>
<use href="#b" x="210.8" y="645.8"/>
<use href="#r" x="93.2" y="566.4"/>
<use href="#r" x="69.0" y="641.3"/>
<use href="#r" x="200.7" y="591.6"/>
<use href="#r" x="174.0" y="470.4"/>
<use href="#b" x="203.8" y="527.8"/>
<use href="#r" x="153.6" y="571.0"/>
<use href="#b" x="118.1" y="549.5"/>
<use href="#r" x="180.9" y="616.2"/>
<use href="#b" x="204.1" y="551.2"/>
<use href="#b" x="74.8" y="569.9"/>
<use href="#r" x="67.5" y="605.4"/>
<use href="#r" x="194.6" y="581.1"/>
<use href="#r" x="193.3" y="470.5"/>
<use href="#b" x="118.7" y="632.2"/>
<use href="#b" x="171.2" y="497.6"/>
<use href="#b" x="133.8" y="487.8"/>
<use href="#b" x="153.2" y="497.7"/>
<use href="#r" x="46.8" y="644.1"/>
<use href="#r" x="75.8" y="627.2"/>
<use href="#r" x="102.8" y="598.7"/>
<use href="#b" x="97.8" y="512.2"/>
<use href="#r" x="222.0" y="597.2"/>
<use href="#r" x="60.1" y="572.3"/>
<use href="#r" x="137.9" y="641.0"/>
<use href="#r" x="169.1" y="626.6"/>
<use href="#r" x="48.7" y="562.7"/>
<use href="#r" x="79.0" y="504.2"/>
<use href="#r" x="186.1" y="651.4"/>
<use href="#r" x="112.8" y="651.8"/>
<use href="#b" x="143.7" y="472.4"/>
<use href="#b" x="158.9" y="602.3"/>
<use href="#r" x="137.5" y="569.7"/>
<use href="#b" x="107.5" y="602.1"/>
<use href="#r" x="168.3" y="613.1"/>
<use href="#r" x="100.9" y="627.0"/>
<use href="#r" x="151.9" y="607.7"/>
<use href="#b" x="68.7" y="552.7"/>
<use href="#r" x="216.0" y="554.1"/>
<use href="#r" x="59.6" y="474.3"/>
<use href="#r" x="154.2" y="544.9"/>
<use href="#r" x="139.4" y="502.9"/>
<use href="#b" x="170.3" y="592.7"/>
<use href="#r" x="114.7" y="562.0"/>
<use href="#b" x="68.5" y="473.3"/>
<use href="#r" x="77.7" y="635.4"/>
<use href="#b" x="154.7" y="631.7"/>
<use href="#b" x="120.7" y="603.2"/>
<use href="#r" x="174.7" y="641.3"/>
<use href="#r" x="195.2" y="535.2"/>
<use href="#b" x="58.1" y="496.7"/>
<use href="#r" x="44.2" y="511.6"/>
<use href="#r" x="184.8" y="601.9"/>
<use href="#r" x="154.9" y="470.7"/>
<use href="#r" x="208.0" y="611.3"/>
<use href="#b" x="162.5" y="551.7"/>
<use href="#b" x="90.1" y="604.6"/>
<use href="#r" x="155.9" y="556.1"/>
<use href="#r" x="94.3" y="526.4"/>
<use href="#r" x="170.3" y="538.3"/>
<use href="#b" x="48.4" y="466.5"/>
<use href="#b" x="106.1" y="509.2"/>
<use href="#r" x="168.8" y="463.2"/>
<use href="#r" x="120.8" y="542.4"/>
<use href="#b" x="148.1" y="513.3"/>
<use href="#b" x="127.1" y="631.8"/>
<use href="#b" x="84.9" y="535.5"/>
<use href="#b" x="117.1" y="516.8"/>
<use href="#r" x="108.7" y="580.5"/>
<use href="#r" x="124.3" y="498.5"/>
<use href="#b" x="107.3" y="463.1"/>
<use href="#r" x="202.2" y="629.0"/>
<use href="#b" x="120.5" y="556.5"/>
<use href="#r" x="226.3" y="632.6"/>
<use href="#b" x="176.5" y="499.3"/>
<use href="#r" x="54.8" y="531.4"/>
<use href="#r" x="44.1" y="470.6"/>
<use href="#b" x="210.5" y="493.6"/>
<use href="#b" x="130.1" y="582.5"/>
<use href="#b" x="194.9" y="572.4"/>
<use href="#b" x="159.7" y="565.3"/>
<use href="#b" x="223.3" y="586.3"/>
<use href="#b" x="51.4" y="609.7"/>
<use href="#r" x="152.8" y="530.2"/>
<use href="#b" x="70.1" y="518.7"/>
<use href="#b" x="52.2" y="514.8"/>
<use href="#r" x="93.1" y="492.4"/>
<use href="#b" x="126.8" y="462.8"/>
<use href="#r" x="173.7" y="608.2"/>
<use href="#r" x="181.9" y="590.4"/>
<use href="#r" x="103.1" y="652.2"/>
<use href="#b" x="233.4" y="626.7"/>
<use href="#r" x="233.4" y="650.0"/>
<use href="#b" x="150.6" y="565.0"/>
<use href="#b" x="80.8" y="574.8"/>
<use href="#r" x="68.8" y="574.5"/>
<use href="#b" x="153.7" y="513.9"/>
<use href="#b" x="63.9" y="556.5"/>
<use href="#b" x="152.5" y="597.2"/>
<use href="#r" x="134.0" y="617.3"/>
<use href="#r" x="204.7" y="588.2"/>
<use href="#r" x="212.4" y="588.1"/>
<use href="#r" x="63.4" y="585.7"/>
<use href="#r" x="136.9" y="559.7"/>
<use href="#r" x="222.3" y="636.3"/>
<use href="#r" x="170.1" y="651.2"/>
<use href="#r" x="212.9" y="630.2"/>
<use href="#b" x="120.0" y="492.0"/>
<use href="#b" x="87.6" y="479.9"/>
<use href="#b" x="232.5" y="575.1"/>
<use href="#b" x="212.6" y="576.7"/>
<use href="#b" x="192.1" y="506.6"/>
<use href="#r" x="216.2" y="570.6"/>
<use href="#r" x="144.4" y="620.4"/>
<use href="#b" x="85.9" y="572.9"/>
<use href="#b" x="51.7" y="503.1"/>
<use href="#b" x="177.7" y="491.5"/>
<use href="#b" x="220.6" y="626.6"/>
<use href="#b" x="50.5" y="582.8"/>
<use href="#r" x="206.7" y="650.0"/>
<use href="#r" x="212.3" y="523.8"/>
<use href="#r" x="97.5" y="505.0"/>
<use href="#r" x="50.8" y="624.2"/>
<use href="#b" x="185.6" y="630.5"/>
<use href="#b" x="63.3" y="608.5"/>
<use href="#b" x="113.1" y="525.7"/>
<use href="#r" x="119.2" y="475.6"/>
<use href="#b" x="157.8" y="493.8"/>
<use href="#b" x="144.5" y="489.0"/>
<use href="#b" x="47.2" y="520.9"/>
<use href="#r" x="206.8" y="542.3"/>
<use href="#r" x="231.4" y="510.2"/>
<use href="#b" x="102.5" y="583.0"/>
<use href="#b" x="114.9" y="620.8"/>
<use href="#b" x="106.1" y="470.3"/>
<use href="#b" x="107.0" y="487.0"/>
<use href="#b" x="147.2" y="540.8"/>
<use href="#r" x="217.9" y="509.8"/>
<use href="#b" x="175.8" y="525.7"/>
<use href="#r" x="52.6" y="649.0"/>
<use href="#r" x="167.1" y="469.5"/>
<use href="#b" x="212.4" y="485.5"/>
<use href="#r" x="132.8" y="625.9"/>
<use href="#b" x="145.7" y="570.4"/>
<use href="#r" x="214.2" y="480.4"/>
<use href="#r" x="149.4" y="465.3"/>
<use href="#b" x="54.9" y="551.3"/>
<use href="#b" x="183.9" y="504.2"/>
<use href="#b" x="93.2" y="648.1"/>
<use href="#r" x="97.1" y="541.9"/>
<use href="#b" x="127.8" y="615.5"/>
<use href="#r" x="46.0" y="588.7"/>
<use href="#b" x="83.8" y="614.1"/>
<use href="#b" x="145.7" y="578.8"/>
<use href="#r" x="97.3" y="551.8"/>
<use href="#r" x="164.0" y="488.6"/>
<use href="#b" x="63.2" y="564.0"/>
<use href="#b" x="199.9" y="531.3"/>
<use href="#r" x="63.1" y="527.6"/>
<use href="#r" x="108.1" y="630.8"/>
<use href="#r" x="190.9" y="558.6"/>
<use href="#b" x="156.2" y="588.9"/>
<use href="#b" x="204.5" y="621.7"/>
<use href="#r" x="80.0" y="598.9"/>
<use href="#b" x="61.8" y="540.4"/>
<use href="#b" x="108.5" y="616.2"/>
<use href="#b" x="203.5" y="578.5"/>
<use href="#r" x="138.1" y="627.2"/>
<use href="#b" x="224.2" y="481.5"/>
<use href="#r" x="90.5" y="511.7"/>
<use href="#b" x="190.1" y="566.7"/>
<use href="#b" x="144.7" y="637.2"/>
<use href="#r" x="163.3" y="465.6"/>
<use href="#b" x="109.6" y="566.9"/>
<use href="#r" x="155.9" y="476.3"/>
<use href="#r" x="179.1" y="544.7"/>
<use href="#r" x="134.1" y="513.5"/>
<use href="#r" x="109.7" y="475.9"/>
<use href="#b" x="53.8" y="470.5"/>
<use href="#b" x="161.6" y="608.0"/>
<use href="#r" x="72.0" y="464.1"/>
<use href="#r" x="57.0" y="590.4"/>
<use href="#r" x="54.4" y="525.3"/>
<use href="#b" x="58.8" y="641.3"/>
<use href="#b" x="45.8" y="604.6"/>
<use href="#r" x="220.7" y="644.4"/>
<use href="#r" x="169.5" y="580.3"/>
<use href="#b" x="104.0" y="647.0"/>
<use href="#r" x="102.5" y="502.6"/>
<use href="#b" x="183.5" y="562.8"/>
<use href="#b" x="201.5" y="652.2"/>
<use href="#r" x="107.7" y="500.4"/>
<use href="#b" x="82.4" y="483.9"/>
<use href="#r" x="217.8" y="632.2"/>
<use href="#r" x="139.7" y="542.3"/>
<use href="#b" x="230.9" y="564.1"/>
<use href="#b" x="90.9" y="578.1"/>
<use href="#b" x="47.6" y="547.2"/>
<use href="#b" x="202.9" y="557.0"/>
<use href="#b" x="141.6" y="603.2"/>
<use href="#r" x="168.3" y="528.6"/>
<use href="#r" x="151.4" y="617.9"/>
<use href="#b" x="124.0" y="538.0"/>
<use href="#b" x="78.6" y="545.7"/>
<use href="#b" x="157.5" y="644.0"/>
<use href="#r" x="172.4" y="632.7"/>
<use href="#r" x="215.5" y="648.2"/>
<use href="#r" x="77.4" y="489.3"/>
<use href="#r" x="53.3" y="545.4"/>
<use href="#r" x="123.1" y="587.7"/>
<use href="#b" x="196.1" y="541.7"/>
<use href="#r" x="233.9" y="531.0"/>
<use href="#r" x="139.1" y="618.8"/>
<use href="#r" x="142.3" y="609.3"/>
<use href="#b" x="96.7" y="597.8"/>
<use href="#b" x="92.2" y="653.3"/>
<use href="#r" x="74.6" y="621.4"/>
<use href="#r" x="150.1" y="552.3"/>
<use href="#r" x="233.2" y="521.2"/>
<use href="#r" x="133.5" y="605.0"/>
<use href="#b" x="82.8" y="519.5"/>
<use href="#r" x="66.7" y="616.0"/>
<use href="#b" x="89.3" y="501.8"/>
<use href="#b" x="207.9" y="466.2"/>
<use href="#r" x="202.6" y="499.1"/>
<use href="#b" x="219.1" y="565.3"/>
<use href="#r" x="204.0" y="635.0"/>
<use href="#b" x="172.8" y="512.7"/>
<use href="#r" x="121.6" y="465.7"/>
<use href="#b" x="121.6" y="638.7"/>
<use href="#b" x="137.9" y="481.7"/>
<use href="#r" x="158.9" y="486.8"/>
<use href="#b" x="69.3" y="543.7"/>
<use href="#b" x="88.4" y="584.8"/>
<use href="#r" x="76.3" y="497.0"/>
<use href="#r" x="219.1" y="529.9"/>
<use href="#b" x="187.0" y="463.4"/>
<use href="#r" x="226.6" y="576.2"/>
<use href="#b" x="190.5" y="597.9"/>
<use href="#b" x="122.6" y="570.6"/>
<use href="#r" x="76.9" y="552.7"/>
<use href="#r" x="150.8" y="522.1"/>
<use href="#r" x="113.2" y="556.7"/>
<use href="#r" x="48.4" y="571.3"/>
<use href="#b" x="101.9" y="641.6"/>
<use href="#r" x="230.7" y="593.2"/>
<use href="#b" x="220.1" y="469.2"/>
<use href="#b" x="76.8" y="538.7"/>
<use href="#b" x="146.4" y="625.8"/>
<use href="#r" x="137.1" y="634.8"/>
<use href="#b" x="82.3" y="609.0"/>
<use href="#b" x="161.9" y="509.4"/>
<use href="#b" x="57.1" y="537.7"/>
<use href="#b" x="187.1" y="496.6"/>
<use href="#r" x="172.6" y="545.2"/>
<use href="#r" x="129.6" y="502.9"/>
<use href="#b" x="210.0" y="499.4"/>
<use href="#b" x="232.1" y="469.4"/>
<use href="#r" x="208.0" y="508.3"/>
<use href="#b" x="226.0" y="494.8"/>
<use href="#r" x="109.0" y="481.3"/>
<use href="#b" x="165.2" y="501.0"/>
<use href="#r" x="91.1" y="555.4"/>
<use href="#r" x="210.0" y="571.4"/>
<use href="#r" x="56.3" y="557.7"/>
<use href="#r" x="191.1" y="612.2"/>
<use href="#b" x="215.4" y="549.2"/>
<use href="#r" x="164.6" y="635.4"/>
<use href="#b" x="83.4" y="562.8"/>
<use href="#b" x="120.7" y="597.6"/>
<use href="#r" x="129.6" y="589.9"/>
<use href="#r" x="229.7" y="642.4"/>
<use href="#b" x="45.6" y="626.5"/>
<use href="#b" x="59.9" y="635.1"/>
<use href="#b" x="182.5" y="512.7"/>
<use href="#b" x="118.5" y="566.6"/>
<use href="#b" x="172.0" y="506.6"/>
<use href="#b" x="132.3" y="573.3"/>
<use href="#r" x="185.7" y="638.1"/>
<use href="#b" x="148.5" y="583.9"/>
<use href="#r" x="162.3" y="629.5"/>
<use href="#b" x="88.9" y="635.1"/>
<use href="#r" x="113.1" y="469.7"/>
<use href="#r" x="74.7" y="524.6"/>
<use href="#b" x="158.1" y="524.4"/>
<use href="#b" x="78.5" y="557.7"/>
<use href="#b" x="52.8" y="479.4"/>
<use href="#r" x="228.9" y="517.5"/>
<use href="#r" x="141.0" y="496.0"/>
<use href="#r" x="104.2" y="593.3"/>
<use href="#r" x="71.1" y="630.3"/>
<use href="#b" x="134.3" y="648.9"/>
<use href="#b" x="168.9" y="600.2"/>
<use href="#r" x="112.8" y="584.6"/>
<use href="#r" x="189.8" y="577.5"/>
<use href="#r" x="223.2" y="535.3"/>
<use href="#r" x="127.1" y="531.9"/>
<use href="#b" x="210.4" y="582.7"/>
<use href="#r" x="163.3" y="589.0"/>
<use href="#b" x="99.1" y="481.5"/>
<use href="#r" x="116.4" y="614.6"/>
<use href="#r" x="212.7" y="623.0"/>
<use href="#b" x="199.0" y="469.7"/>
<use href="#b" x="73.9" y="577.1"/>
<use href="#r" x="60.0" y="503.8"/>
<use href="#b" x="220.0" y="489.5"/>
<use href="#r" x="128.2" y="563.0"/>
<use href="#b" x="196.2" y="561.2"/>
<use href="#b" x="159.4" y="649.2"/>
<use href="#b" x="116.1" y="571.5"/>
<use href="#r" x="139.6" y="650.7"/>
<use href="#r" x="60.6" y="601.0"/>
<use href="#b" x="118.0" y="609.1"/>
<use href="#r" x="143.5" y="646.2"/>
<use href="#b" x="209.2" y="617.6"/>
<use href="#b" x="160.2" y="480.2"/>
<use href="#b" x="217.4" y="593.0"/>
<use href="#b" x="182.2" y="481.5"/>
<use href="#r" x="189.0" y="623.3"/>
<use href="#r" x="118.1" y="508.9"/>
<use href="#b" x="193.8" y="483.2"/>
<use href="#r" x="80.8" y="582.7"/>
<use href="#r" x="204.6" y="570.6"/>
<use href="#r" x="137.1" y="524.2"/>
<use href="#b" x="164.8" y="620.3"/>
<use href="#r" x="211.0" y="545.1"/>
<use href="#b" x="56.1" y="620.5"/>
<use href="#r" x="127.5" y="557.2"/>
<use href="#b" x="48.3" y="614.5"/>
<use href="#r" x="85.3" y="472.2"/>
<use href="#b" x="227.0" y="568.6"/>
<use href="#r" x="135.7" y="494.0"/>
<use href="#r" x="207.9" y="559.9"/>
<use href="#b" x="142.4" y="589.3"/>
<use href="#r" x="61.4" y="488.4"/>
<use href="#r" x="62.7" y="593.8"/>
<use href="#b" x="145.1" y="509.7"/>
<use href="#r" x="103.7" y="537.1"/>
<use href="#r" x="84.2" y="631.8"/>
<use href="#b" x="80.2" y="528.8"/>
<use href="#b" x="113.6" y="640.6"/>
<use href="#b" x="201.5" y="597.4"/>
<use href="#r" x="90.8" y="616.8"/>
<use href="#r" x="196.7" y="474.7"/>
<use href="#b" x="61.9" y="625.5"/>
<use href="#r" x="146.3" y="504.2"/>
<use href="#r" x="193.8" y="490.8"/>
<use href="#b" x="147.4" y="527.2"/>
<use href="#r" x="98.9" y="529.3"/>
<use href="#b" x="62.8" y="509.1"/>
<use href="#r" x="160.1" y="539.2"/>
<use href="#b" x="229.0" y="585.0"/>
<use href="#r" x="101.6" y="468.1"/>
<use href="#b" x="233.6" y="474.9"/>
<use href="#b" x="174.8" y="560.6"/>
<use href="#r" x="228.1" y="502.7"/>
<use href="#b" x="168.7" y="565.0"/>
<use href="#b" x="72.5" y="612.6"/>
<use href="#r" x="102.2" y="542.6"/>
<use href="#r" x="72.7" y="511.9"/>
<use href="#b" x="179.8" y="522.1"/>
<use href="#r" x="72.5" y="596.2"/>
<use href="#b" x="96.1" y="574.4"/>
<use href="#r" x="61.6" y="518.7"/>
<use href="#b" x="84.7" y="543.1"/>
<use href="#b" x="147.0" y="631.8"/>
<use href="#b" x="217.5" y="518.7"/>
<use href="#r" x="117.2" y="645.8"/>
<use href="#r" x="196.1" y="618.4"/>
<use href="#r" x="214.1" y="600.7"/>
<use href="#b" x="98.2" y="631.1"/>
<use href="#b" x="55.3" y="580.0"/>
<use href="#b" x="205.8" y="607.4"/>
<use href="#r" x="119.5" y="527.2"/>
<use href="#r" x="231.7" y="636.6"/>
<use href="#b" x="199.5" y="511.9"/>
<use href="#r" x="191.5" y="548.8"/>
<use href="#b" x="130.9" y="524.1"/>
<use href="#r" x="188.2" y="475.2"/>
<use href="#b" x="210.0" y="551.1"/>
<use href="#b" x="66.5" y="501.1"/>
<use href="#r" x="45.7" y="481.3"/>
<use href="#r" x="90.5" y="593.1"/>
<use href="#r" x="72.8" y="584.7"/>
<use href="#b" x="91.5" y="611.5"/>
<use href="#r" x="55.0" y="632.4"/>
<use href="#r" x="220.2" y="524.1"/>
<use href="#r" x="175.7" y="570.0"/>
<use href="#b" x="189.4" y="519.8"/>
<use href="#b" x="114.0" y="493.4"/>
<use href="#r" x="139.2" y="473.0"/>
<use href="#r" x="161.1" y="615.2"/>
<use href="#r" x="181.0" y="575.1"/>
<use href="#b" x="62.3" y="547.7"/>
<use href="#r" x="135.1" y="564.5"/>
<use href="#r" x="104.1" y="522.5"/>
<use href="#r" x="232.5" y="541.5"/>
<use href="#b" x="212.8" y="566.6"/>
<use href="#r" x="102.6" y="474.9"/>
<use href="#r" x="128.3" y="474.6"/>
<use href="#r" x="164.9" y="513.9"/>
<use href="#r" x="90.1" y="496.8"/>
<use href="#r" x="217.0" y="637.7"/>
<use href="#b" x="126.2" y="481.7"/>
<use href="#b" x="127.7" y="626.9"/>
<use href="#r" x="165.7" y="649.1"/>
<use href="#b" x="139.9" y="508.9"/>
<use href="#b" x="134.8" y="621.6"/>
<use href="#b" x="60.1" y="552.8"/>
<use href="#r" x="207.1" y="529.0"/>
<use href="#b" x="159.8" y="592.9"/>
<use href="#b" x="55.7" y="500.1"/>
<use href="#b" x="112.5" y="575.5"/>
<use href="#b" x="72.6" y="604.2"/>
<use href="#b" x="220.3" y="579.1"/>
<use href="#b" x="48.6" y="556.5"/>
<use href="#r" x="125.8" y="507.2"/>
<use href="#r" x="143.6" y="514.9"/>
<use href="#b" x="112.8" y="510.2"/>
<use href="#r" x="222.9" y="630.6"/>
<use href="#r" x="69.7" y="624.2"/>
<use href="#b" x="183.5" y="541.1"/>
<use href="#b" x="210.4" y="592.3"/>
<use href="#b" x="181.7" y="623.4"/>
<use href="#b" x="223.2" y="549.2"/>
<use href="#b" x="141.5" y="561.8"/>
<use href="#r" x="165.2" y="493.6"/>
<use href="#b" x="194.1" y="625.5"/>
<use href="#r" x="79.2" y="467.2"/>
<use href="#r" x="223.5" y="613.2"/>
<use href="#b" x="83.8" y="551.0"/>
<use href="#b" x="78.3" y="652.7"/>
<use href="#b" x="110.4" y="562.3"/>
<use href="#r" x="50.6" y="638.1"/>
<use href="#r" x="138.9" y="596.2"/>
<use href="#r" x="165.9" y="524.2"/>
<use href="#r" x="71.0" y="486.9"/>
<use href="#b" x="51.5" y="653.2"/>
<use href="#b" x="62.1" y="482.0"/>
<use href="#r" x="84.3" y="500.8"/>
<use href="#b" x="146.5" y="558.3"/>
<use href="#r" x="175.1" y="614.6"/>
<use href="#r" x="78.6" y="593.2"/>
<use href="#r" x="202.4" y="518.5"/>
<use href="#b" x="199.1" y="604.3"/>
<use href="#r" x="74.0" y="548.6"/>
<use href="#r" x="179.7" y="610.1"/>
<use href="#b" x="127.8" y="620.6"/>
<use href="#r" x="208.9" y="598.5"/>
<use href="#r" x="87.0" y="643.9"/>
<use href="#r" x="218.7" y="557.2"/>
<use href="#b" x="168.4" y="478.0"/>
<use href="#b" x="202.3" y="505.6"/>
<use href="#b" x="181.3" y="641.8"/>
<use href="#b" x="202.6" y="524.2"/>
<use href="#r" x="106.7" y="587.3"/>
<use href="#b" x="92.0" y="560.7"/>
<use href="#r" x="175.2" y="589.0"/>
<use href="#r" x="233.4" y="499.2"/>
<use href="#b" x="128.4" y="548.4"/>
<use href="#b" x="162.9" y="569.5"/>
<use href="#r" x="123.8" y="651.0"/>
<use href="#r" x="204.8" y="478.6"/>
<use href="#r" x="180.7" y="598.8"/>
<use href="#b" x="171.2" y="518.2"/>
<use href="#r" x="232.4" y="525.8"/>
<use href="#b" x="96.7" y="464.8"/>
<use href="#b" x="82.0" y="533.7"/>
<use href="#b" x="80.5" y="507.6"/>
<use href="#b" x="117.3" y="602.4"/>
<use href="#b" x="172.6" y="534.0"/>
<use href="#r" x="199.5" y="586.8"/>
<use href="#b" x="192.2" y="637.4"/>
<use href="#b" x="73.7" y="534.5"/>
<use href="#b" x="136.7" y="537.1"/>
<use href="#b" x="147.0" y="651.3"/>
<use href="#b" x="224.2" y="558.8"/>
<use href="#r" x="107.2" y="623.3"/>
<use href="#b" x="229.5" y="482.1"/>
<use href="#b" x="78.3" y="512.6"/>
<use href="#r" x="195.4" y="596.6"/>
<use href="#r" x="135.0" y="639.6"/>
<use href="#r" x="99.0" y="624.1"/>
<use href="#r" x="153.0" y="504.0"/>
<use href="#b" x="52.8" y="572.8"/>
<use href="#b" x="151.7" y="604.9"/>
<use href="#b" x="229.0" y="556.0"/>
<use href="#r" x="158.3" y="468.5"/>
<use href="#r" x="190.1" y="540.9"/>
<use href="#b" x="122.3" y="519.0"/>
<use href="#b" x="147.6" y="476.4"/>
<use href="#r" x="65.2" y="631.8"/>
<use href="#r" x="179.8" y="549.4"/>
<use href="#r" x="207.1" y="483.9"/>
<use href="#b" x="225.6" y="595.6"/>
<use href="#r" x="65.5" y="647.8"/>
<use href="#b" x="182.1" y="628.8"/>
<use href="#r" x="118.8" y="532.9"/>
<use href="#b" x="79.4" y="476.2"/>
<use href="#b" x="104.7" y="613.8"/>
<use href="#r" x="176.7" y="541.5"/>
<use href="#r" x="176.1" y="479.8"/>
<use href="#b" x="143.3" y="552.6"/>
<use href="#r" x="108.5" y="646.3"/>
<use href="#b" x="94.1" y="607.1"/>
<use href="#b" x="142.9" y="467.0"/>
<use href="#b" x="181.8" y="491.8"/>
<use href="#b" x="154.6" y="547.2"/>
<use href="#r" x="85.8" y="525.6"/>
<use href="#r" x="102.0" y="488.0"/>
<use href="#b" x="119.3" y="503.1"/>
<use href="#b" x="170.5" y="622.9"/>
<use href="#b" x="124.7" y="574.5"/>
<use href="#r" x="162.7" y="602.1"/>
<use href="#b" x="69.3" y="506.6"/>
<use href="#r" x="187.0" y="554.5"/>
<use href="#r" x="225.7" y="522.9"/>
<use href="#r" x="220.6" y="651.7"/>
<use href="#b" x="96.1" y="515.2"/>
<use href="#b" x="112.6" y="502.6"/>
<use href="#r" x="137.2" y="601.5"/>
<use href="#r" x="78.9" y="602.8"/>
<use href="#r" x="153.2" y="482.1"/>
<use href="#b" x="126.9" y="513.2"/>
<use href="#b" x="71.1" y="569.7"/>
<use href="#b" x="203.1" y="547.1"/>
<use href="#r" x="217.9" y="583.9"/>
<use href="#b" x="126.5" y="597.6"/>
<use href="#r" x="203.8" y="640.5"/>
<use href="#b" x="102.4" y="548.7"/>
<use href="#b" x="61.7" y="618.3"/>
<use href="#b" x="86.9" y="597.9"/>
<use href="#b" x="157.6" y="608.0"/>
<use href="#b" x="86.6" y="538.5"/>
<use href="#b" x="53.4" y="590.7"/>
<use href="#r" x="94.5" y="543.9"/>
<use href="#b" x="71.2" y="640.0"/>
<use href="#b" x="214.4" y="492.8"/>
<use href="#r" x="151.0" y="560.9"/>
<use href="#r" x="47.1" y="539.9"/>
<use href="#b" x="163.0" y="641.1"/>
<use href="#b" x="228.0" y="530.1"/>
<use href="#r" x="152.9" y="474.5"/>
<use href="#r" x="118.2" y="479.8"/>
<use href="#r" x="128.5" y="642.3"/>
<use href="#b" x="48.9" y="463.5"/>
<use href="#b" x="116.3" y="516.4"/>
<use href="#r" x="57.1" y="514.8"/>
<use href="#b" x="151.8" y="646.3"/>
<use href="#r" x="194.2" y="496.5"/>
<use href="#r" x="158.4" y="516.5"/>
<use href="#r" x="80.1" y="646.4"/>
<use href="#b" x="165.6" y="507.7"/>
<use href="#b" x="128.2" y="494.9"/>
<use href="#b" x="195.8" y="522.6"/>
<use href="#r" x="212.9" y="533.7"/>
<use href="#b" x="127.4" y="580.1"/>
<use href="#r" x="222.8" y="499.9"/>
<use href="#b" x="140.2" y="572.1"/>
<use href="#b" x="67.8" y="536.8"/>
<use href="#b" x="102.9" y="620.0"/>
<use href="#r" x="198.7" y="636.6"/>
<use href="#r" x="119.1" y="580.6"/>
<use href="#b" x="227.8" y="465.9"/>
<use href="#r" x="50.9" y="472.6"/>
<use href="#b" x="160.6" y="500.3"/>
<use href="#b" x="58.0" y="596.2"/>
<use href="#b" x="107.5" y="528.8"/>
<use href="#b" x="71.4" y="555.2"/>
<use href="#b" x="117.4" y="590.8"/>
<use href="#b" x="95.0" y="503.5"/>
<use href="#r" x="67.1" y="469.5"/>
<use href="#b" x="97.1" y="587.4"/>
<use href="#b" x="104.0" y="495.4"/>
<use href="#r" x="155.9" y="614.3"/>
<use href="#b" x="156.9" y="627.8"/>
<use href="#b" x="192.7" y="467.4"/>
<use href="#b" x="199.1" y="552.1"/>
<use href="#b" x="199.2" y="643.4"/>
<use href="#r" x="99.1" y="556.2"/>
<use href="#r" x="171.3" y="489.8"/>
<use href="#r" x="187.4" y="572.1"/>
<use href="#r" x="141.6" y="528.7"/>
<use href="#r" x="152.8" y="580.1"/>
<use href="#b" x="111.4" y="594.5"/>
<use href="#r" x="216.8" y="604.8"/>
<use href="#r" x="232.0" y="573.0"/>
<use href="#b" x="65.6" y="641.6"/>
<use href="#r" x="54.0" y="491.5"/>
<use href="#r" x="134.1" y="630.0"/>
<use href="#b" x="81.3" y="638.2"/>
<use href="#r" x="204.2" y="491.2"/>
<use href="#r" x="137.9" y="586.2"/>
<use href="#b" x="120.3" y="557.1"/>
<use href="#r" x="160.5" y="621.6"/>
<use href="#b" x="155.9" y="541.8"/>
<use href="#b" x="166.2" y="545.1"/>
<use href="#r" x="213.8" y="618.8"/>
<use href="#b" x="151.8" y="513.6"/>
<use href="#b" x="48.2" y="606.1"/>
<use href="#b" x="72.0" y="495.6"/>
<use href="#r" x="50.8" y="647.8"/>
<use href="#b" x="128.6" y="636.0"/>
<use href="#b" x="179.1" y="618.9"/>
<use href="#b" x="182.0" y="560.3"/>
<use href="#b" x="232.0" y="615.0"/>
<use href="#r" x="219.6" y="513.0"/>
<use href="#b" x="65.1" y="491.6"/>
<use href="#r" x="144.6" y="565.7"/>
<use href="#b" x="233.6" y="644.8"/>
<use href="#b" x="218.9" y="542.2"/>
<use href="#b" x="61.0" y="536.7"/>
<use href="#r" x="68.5" y="524.1"/>
<use href="#r" x="169.1" y="572.6"/>
<use href="#b" x="179.4" y="464.1"/>
<use href="#r" x="159.6" y="576.3"/>
<use href="#r" x="107.2" y="652.1"/>
<use href="#b" x="51.1" y="484.8"/>
<use href="#r" x="54.3" y="540.3"/>
<use href="#r" x="122.9" y="474.3"/>
<use href="#r" x="101.3" y="575.0"/>
<use href="#r" x="210.7" y="641.3"/>
<use href="#r" x="230.1" y="548.5"/>
<use href="#b" x="56.8" y="473.2"/>
<use href="#b" x="196.9" y="631.5"/>
<use href="#r" x="126.1" y="540.3"/>
<use href="#r" x="154.2" y="568.3"/>
<use href="#b" x="233.8" y="559.2"/>
<use href="#r" x="232.9" y="489.1"/>
<use href="#r" x="229.9" y="603.9"/>
<use href="#r" x="226.1" y="652.4"/>
<use href="#r" x="92.8" y="469.0"/>
<use href="#b" x="137.9" y="551.4"/>
<use href="#b" x="233.5" y="506.9"/>
<use href="#b" x="120.7" y="629.1"/>
<use href="#b" x="123.3" y="468.1"/>
<use href="#r" x="169.5" y="496.0"/>
<use href="#b" x="165.7" y="606.4"/>
<use href="#b" x="231.3" y="578.6"/>
<use href="#r" x="58.3" y="508.5"/>
<use href="#r" x="168.7" y="483.4"/>
<use href="#r" x="202.2" y="538.5"/>
<use href="#r" x="187.6" y="593.0"/>
<use href="#b" x="98.0" y="595.4"/>
<use href="#b" x="177.2" y="625.5"/>
<use href="#r" x="126.7" y="612.2"/>
<use href="#b" x="225.1" y="646.7"/>
<use href="#r" x="169.9" y="467.0"/>
<use href="#r" x="85.9" y="518.3"/>
<use href="#b" x="101.9" y="565.5"/>
<use href="#b" x="224.3" y="620.0"/>
<use href="#r" x="142.1" y="617.0"/>
<use href="#r" x="206.1" y="473.7"/>
<use href="#b" x="95.8" y="536.2"/>
<use href="#r" x="133.1" y="544.5"/>
<use href="#b" x="51.3" y="565.9"/>
<use href="#b" x="167.8" y="582.7"/>
<use href="#r" x="66.7" y="577.2"/>
<use href="#b" x="134.1" y="528.3"/>
<use href="#b" x="52.5" y="596.2"/>
<use href="#r" x="202.6" y="625.8"/>
<use href="#r" x="222.6" y="588.1"/>
<use href="#b" x="76.4" y="542.7"/>
<use href="#b" x="193.4" y="556.1"/>
<use href="#r" x="217.0" y="497.8"/>
<use href="#r" x="83.7" y="468.5"/>
<use href="#r" x="178.1" y="636.2"/>
<use href="#r" x="50.7" y="504.9"/>
<use href="#b" x="182.0" y="592.7"/>
<use href="#b" x="153.3" y="554.4"/>
<use href="#r" x="137.1" y="580.1"/>
<use href="#b" x="207.2" y="502.5"/>
<use href="#r" x="211.7" y="611.5"/>
<use href="#r" x="63.7" y="568.1"/>
<use href="#b" x="103.2" y="629.4"/>
<use href="#b" x="126.7" y="568.2"/>
<use href="#b" x="159.8" y="547.3"/>
<use href="#b" x="106.4" y="470.5"/>
<use href="#r" x="167.0" y="538.8"/>
<use href="#b" x="112.0" y="485.6"/>
<use href="#r" x="187.0" y="528.6"/>
<use href="#b" x="132.6" y="554.5"/>
<use href="#r" x="170.6" y="629.2"/>
<use href="#r" x="207.3" y="520.6"/>
<use href="#r" x="134.9" y="490.4"/>
<use href="#r" x="137.8" y="643.8"/>
<use href="#r" x="54.0" y="642.3"/>
<use href="#r" x="49.2" y="628.1"/>
<use href="#b" x="212.9" y="515.6"/>
<use href="#r" x="75.3" y="565.8"/>
<use href="#r" x="123.2" y="607.4"/>
<use href="#b" x="192.2" y="618.9"/>
<use href="#b" x="90.3" y="565.3"/>
<use href="#b" x="191.4" y="507.6"/>
<use href="#r" x="45.5" y="565.4"/>
<use href="#r" x="221.3" y="601.2"/>
<use href="#r" x="158.6" y="559.9"/>
<use href="#b" x="127.7" y="501.3"/>
<use href="#b" x="105.3" y="557.7"/>
<use href="#r" x="160.5" y="653.3"/>
<use href="#b" x="195.2" y="589.5"/>
<use href="#r" x="164.9" y="471.9"/>
<use href="#r" x="135.6" y="611.3"/>
<use href="#r" x="191.3" y="516.2"/>
<use href="#b" x="225.9" y="509.6"/>
<use href="#r" x="84.6" y="495.1"/>
<use href="#b" x="91.1" y="489.0"/>
<use href="#b" x="144.0" y="479.8"/>
<use href="#r" x="73.7" y="627.0"/>
<use href="#b" x="62.4" y="556.9"/>
<use href="#r" x="226.3" y="572.9"/>
<use href="#b" x="68.0" y="481.9"/>
<use href="#b" x="187.8" y="490.1"/>
<use href="#b" x="58.1" y="485.5"/>
<use href="#r" x="141.7" y="539.1"/>
<use href="#b" x="172.5" y="647.9"/>
<use href="#b" x="204.4" y="513.3"/>
<use href="#r" x="96.0" y="482.3"/>
<use href="#r" x="182.5" y="581.9"/>
<use href="#b" x="182.0" y="499.6"/>
<use href="#r" x="186.0" y="545.8"/>
<use href="#b" x="101.3" y="640.8"/>
<use href="#r" x="46.4" y="636.7"/>
<use href="#b" x="44.3" y="468.4"/>
<use href="#r" x="173.4" y="556.7"/>
<use href="#r" x="171.7" y="639.7"/>
<use href="#r" x="196.5" y="529.6"/>
<use href="#r" x="172.3" y="549.5"/>
<use href="#r" x="213.1" y="470.5"/>
<use href="#r" x="190.1" y="500.9"/>
<use href="#r" x="165.0" y="624.2"/>
<use href="#r" x="144.9" y="595.5"/>
<use href="#b" x="109.2" y="549.2"/>
<use href="#b" x="137.5" y="480.0"/>
<use href="#b" x="97.6" y="650.2"/>
<use href="#b" x="81.2" y="626.9"/>
<use href="#r" x="61.1" y="499.0"/>
<use href="#b" x="126.4" y="603.2"/>
<use href="#b" x="154.5" y="593.9"/>
<use href="#r" x="150.3" y="589.4"/>
<use href="#r" x="59.2" y="612.6"/>
<use href="#b" x="182.3" y="505.0"/>
<use href="#b" x="99.3" y="601.8"/>
<use href="#b" x="146.5" y="571.3"/>
<use href="#b" x="176.0" y="471.2"/>
<use href="#b" x="204.6" y="563.7"/>
<use href="#b" x="185.4" y="635.9"/>
<use href="#b" x="229.2" y="638.9"/>
<use href="#b" x="76.0" y="633.2"/>
<use href="#r" x="199.3" y="566.1"/>
<use href="#r" x="54.6" y="560.4"/>
<use href="#b" x="206.0" y="611.6"/>
<use href="#b" x="122.8" y="545.5"/>
<use href="#r" x="48.0" y="590.3"/>
<use href="#b" x="90.0" y="574.1"/>
<use href="#b" x="151.7" y="639.1"/>
<use href="#b" x="90.4" y="585.4"/>
<use href="#r" x="184.2" y="534.2"/>
<use href="#b" x="150.0" y="492.2"/>
<use href="#r" x="74.7" y="647.4"/>
<use href="#b" x="134.7" y="506.7"/>
<use href="#b" x="202.6" y="580.4"/>
<use href="#r" x="156.3" y="534.3"/>
<use href="#b" x="196.9" y="503.2"/>
<use href="#b" x="85.8" y="488.2"/>
<use href="#r" x="223.8" y="563.7"/>
<use href="#b" x="169.3" y="612.3"/>
<use href="#r" x="202.4" y="557.9"/>
<use href="#r" x="70.4" y="465.7"/>
<use href="#r" x="232.9" y="627.3"/>
<use href="#r" x="160.2" y="636.2"/>
<use href="#r" x="89.1" y="529.6"/>
<use href="#b" x="227.5" y="493.0"/>
<use href="#r" x="145.2" y="641.6"/>
<use href="#r" x="116.3" y="565.9"/>
<use href="#r" x="85.6" y="568.3"/>
<use href="#r" x="223.1" y="607.9"/>
<use href="#b" x="63.4" y="472.9"/>
<use href="#r" x="78.4" y="561.4"/>
<use href="#r" x="65.2" y="589.5"/>
<use href="#b" x="158.8" y="552.4"/>
<use href="#r" x="95.0" y="579.7"/>
<use href="#b" x="210.9" y="508.1"/>
<use href="#r" x="111.1" y="538.2"/>
<use href="#b" x="68.8" y="517.6"/>
<use href="#b" x="74.0" y="472.7"/>
<use href="#r" x="95.7" y="563.8"/>
<use href="#r" x="210.3" y="573.4"/>
<use href="#r" x="129.5" y="518.4"/>
<use href="#r" x="220.2" y="616.2"/>
<use href="#b" x="73.8" y="500.9"/>
<use href="#b" x="183.0" y="602.3"/>
<use href="#r" x="146.8" y="578.2"/>
<use href="#r" x="218.0" y="562.5"/>
<use href="#r" x="64.1" y="598.7"/>
<use href="#b" x="84.3" y="561.7"/>
<use href="#b" x="89.5" y="557.1"/>
<use href="#b" x="95.4" y="474.9"/>
<use href="#r" x="140.2" y="492.7"/>
<use href="#b" x="107.8" y="616.9"/>
<use href="#r" x="131.5" y="648.6"/>
<use href="#r" x="110.5" y="515.9"/>
<use href="#b" x="192.1" y="612.7"/>
<use href="#b" x="197.1" y="490.2"/>
<use href="#r" x="216.1" y="485.4"/>
<use href="#b" x="76.5" y="519.9"/>
<use href="#b" x="120.3" y="540.4"/>
<use href="#b" x="191.0" y="560.7"/>
<use href="#r" x="215.3" y="527.5"/>
<use href="#r" x="101.4" y="540.0"/>
<use href="#b" x="187.7" y="495.8"/>
<use href="#b" x="229.8" y="566.7"/>
<use href="#b" x="84.9" y="622.3"/>
<use href="#r" x="204.1" y="597.0"/>
<use href="#b" x="108.8" y="627.0"/>
<use href="#b" x="133.4" y="473.0"/>
<use href="#r" x="76.9" y="615.8"/>
<use href="#r" x="46.7" y="513.8"/>
<use href="#b" x="219.9" y="492.1"/>
<use href="#r" x="48.2" y="531.9"/>
<use href="#r" x="221.9" y="465.9"/>
<use href="#b" x="153.8" y="507.9"/>
<use href="#b" x="219.3" y="572.3"/>
<use href="#b" x="79.1" y="496.0"/>
<use href="#b" x="191.0" y="473.2"/>
<use href="#b" x="179.3" y="488.2"/>
<use href="#b" x="233.9" y="535.2"/>
<use href="#r" x="128.4" y="559.9"/>
<use href="#b" x="184.4" y="471.9"/>
<use href="#b" x="210.3" y="583.6"/>
<use href="#r" x="161.8" y="597.9"/>
<use href="#b" x="219.5" y="507.9"/>
<use href="#r" x="61.7" y="628.0"/>
<use href="#r" x="153.2" y="522.0"/>
<use href="#b" x="175.6" y="521.7"/>
<use href="#r" x="234.7" y="604.7"/>
<use href="#r" x="74.7" y="482.1"/>
<use href="#r" x="212.4" y="624.1"/>
<use href="#b" x="186.7" y="520.1"/>
<use href="#b" x="70.3" y="635.4"/>
<use href="#r" x="221.6" y="552.9"/>
<use href="#b" x="59.5" y="544.3"/>
<use href="#r" x="115.5" y="546.4"/>
<use href="#b" x="196.4" y="539.3"/>
<use href="#r" x="229.8" y="596.9"/>
<use href="#r" x="142.4" y="612.0"/>
<use href="#b" x="159.3" y="488.0"/>
<use href="#b" x="227.5" y="588.6"/>
<use href="#b" x="155.7" y="497.4"/>
<use href="#b" x="77.6" y="525.4"/>
<use href="#b" x="231.5" y="621.9"/>
<use href="#r" x="141.7" y="626.5"/>
<use href="#r" x="136.9" y="501.4"/>
<use href="#r" x="114.6" y="506.6"/>
<use href="#r" x="201.4" y="601.7"/>
<use href="#r" x="180.8" y="529.0"/>
<use href="#b" x="54.1" y="518.9"/>
<use href="#b" x="88.0" y="482.2"/>
<use href="#b" x="63.2" y="548.9"/>
<use href="#b" x="88.8" y="476.7"/>
<use href="#b" x="141.8" y="576.3"/>
<use href="#r" x="202.7" y="483.5"/>
<use href="#b" x="168.3" y="521.3"/>
<use href="#b" x="93.5" y="620.3"/>
<use href="#r" x="185.3" y="617.0"/>
<use href="#r" x="89.6" y="462.8"/>
<use href="#r" x="198.7" y="608.7"/>
<use href="#b" x="95.1" y="554.7"/>
<use href="#r" x="229.4" y="523.1"/>
<use href="#r" x="128.3" y="544.7"/>
<use href="#r" x="126.1" y="483.4"/>
<use href="#b" x="202.8" y="591.5"/>
<use href="#r" x="115.7" y="634.0"/>
<use href="#b" x="187.9" y="480.4"/>
<use href="#b" x="113.5" y="609.5"/>
<use href="#r" x="154.5" y="632.9"/>
<use href="#b" x="55.9" y="626.6"/>
<use href="#r" x="55.5" y="601.8"/>
<use href="#b" x="96.6" y="496.0"/>
<use href="#b" x="233.5" y="475.3"/>
<use href="#r" x="52.7" y="510.9"/>
<use href="#b" x="173.7" y="601.1"/>
<use href="#r" x="173.8" y="584.9"/>
<use href="#b" x="131.4" y="486.8"/>
<use href="#r" x="234.1" y="512.4"/>
<use href="#r" x="130.7" y="573.7"/>
<use href="#r" x="199.7" y="620.7"/>
<use href="#r" x="191.3" y="551.9"/>
<use href="#b" x="135.4" y="619.0"/>
<use href="#b" x="44.2" y="480.9"/>
<use href="#r" x="54.4" y="578.5"/>
<use href="#r" x="146.2" y="513.7"/>
<use href="#b" x="221.3" y="526.0"/>
<use href="#r" x="134.5" y="636.2"/>
<use href="#r" x="56.6" y="464.3"/>
<use href="#b" x="224.7" y="481.8"/>
<use href="#r" x="112.0" y="642.0"/>
<use href="#r" x="204.7" y="606.3"/>
<use href="#r" x="141.4" y="634.5"/>
<use href="#b" x="104.2" y="507.0"/>
<use href="#r" x="52.7" y="583.7"/>
<use href="#b" x="212.8" y="555.0"/>
<use href="#r" x="170.3" y="512.0"/>
<use href="#b" x="100.0" y="584.3"/>
<use href="#r" x="99.0" y="529.8"/>
<use href="#r" x="79.0" y="583.5"/>
<use href="#b" x="97.4" y="512.0"/>
<use href="#b" x="186.5" y="647.8"/>
<use href="#r" x="196.8" y="574.4"/>
<use href="#b" x="134.4" y="536.1"/>
<use href="#r" x="101.6" y="591.2"/>
<use href="#b" x="168.9" y="566.4"/>
<use href="#r" x="89.2" y="643.8"/>
<use href="#b" x="88.5" y="508.9"/>
<use href="#b" x="129.8" y="524.2"/>
<use href="#b" x="83.9" y="649.6"/>
<use href="#b" x="120.7" y="487.9"/>
<use href="#r" x="110.5" y="632.2"/>
<use href="#r" x="227.8" y="616.8"/>
<use href="#b" x="216.3" y="474.3"/>
<use href="#r" x="135.2" y="517.2"/>
<use href="#r" x="108.2" y="532.9"/>
<use href="#b" x="91.0" y="537.9"/>
<use href="#b" x="129.6" y="588.6"/>
<use href="#r" x="138.9" y="465.1"/>
<use href="#b" x="80.9" y="556.7"/>
<use href="#b" x="62.7" y="579.6"/>
<use href="#b" x="161.8" y="521.4"/>
<use href="#r" x="126.9" y="473.0"/>
<use href="#r" x="149.5" y="565.7"/>
<use href="#b" x="67.3" y="615.8"/>
<use href="#b" x="148.1" y="525.5"/>
<use href="#b" x="152.2" y="545.3"/>
<use href="#b" x="81.7" y="517.9"/>
<use href="#r" x="173.8" y="563.7"/>
<use href="#r" x="203.3" y="649.1"/>
<use href="#b" x="150.2" y="484.6"/>
<use href="#r" x="222.3" y="517.3"/>
<use href="#r" x="110.7" y="578.1"/>
<use href="#b" x="114.4" y="625.4"/>
<use href="#r" x="54.9" y="635.7"/>
<use href="#r" x="124.5" y="648.8"/>
<use href="#r" x="196.8" y="508.9"/>
<use href="#b" x="129.0" y="622.8"/>
<use href="#b" x="185.1" y="575.7"/>
<use href="#r" x="159.1" y="589.1"/>
<use href="#b" x="83.7" y="587.0"/>
<use href="#b" x="124.2" y="617.9"/>
<use href="#r" x="161.7" y="531.7"/>
<use href="#b" x="180.0" y="648.1"/>
<use href="#b" x="72.7" y="642.7"/>
<use href="#r" x="205.4" y="585.4"/>
<use href="#r" x="140.4" y="514.9"/>
<use href="#b" x="48.2" y="497.9"/>
<use href="#b" x="104.8" y="604.1"/>
<use href="#b" x="172.3" y="624.0"/>
<use href="#b" x="181.2" y="566.5"/>
<use href="#r" x="166.6" y="559.0"/>
<use href="#b" x="121.0" y="575.7"/>
<use href="#b" x="91.8" y="504.1"/>
<use href="#r" x="182.4" y="609.5"/>
<use href="#r" x="216.5" y="537.1"/>
<use href="#b" x="169.5" y="594.3"/>
<use href="#b" x="109.5" y="521.5"/>
<use href="#b" x="207.6" y="529.0"/>
<use href="#b" x="98.4" y="467.5"/>
<use href="#r" x="158.8" y="470.5"/>
<use href="#b" x="205.3" y="497.0"/>
<use href="#r" x="198.3" y="652.2"/>
<use href="#b" x="80.5" y="592.3"/>
<use href="#b" x="84.0" y="601.6"/>
<use href="#r" x="56.8" y="588.5"/>
<use href="#b" x="47.0" y="614.5"/>
<use href="#b" x="48.5" y="559.6"/>
<use href="#b" x="69.7" y="562.5"/>
<use href="#r" x="135.1" y="592.4"/>
<use href="#b" x="77.8" y="572.0"/>
<use href="#b" x="72.3" y="583.6"/>
<use href="#r" x="50.5" y="543.9"/>
<use href="#b" x="108.3" y="476.5"/>
<use href="#r" x="66.4" y="572.0"/>
<use href="#b" x="214.8" y="575.6"/>
<use href="#r" x="145.0" y="542.0"/>
<use href="#r" x="105.7" y="575.3"/>
<use href="#r" x="161.5" y="493.6"/>
<use href="#r" x="144.4" y="649.1"/>
<use href="#r" x="142.5" y="508.6"/>
<use href="#r" x="75.4" y="549.1"/>
<use href="#r" x="121.6" y="478.1"/>
<use href="#b" x="80.1" y="474.1"/>
<use href="#r" x="222.9" y="595.5"/>
<use href="#b" x="205.3" y="573.9"/>
<use href="#r" x="228.7" y="485.5"/>
<use href="#r" x="148.0" y="600.3"/>
<use href="#r" x="205.2" y="468.6"/>
<use href="#r" x="175.7" y="483.4"/>
<use href="#r" x="45.8" y="600.9"/>
<use href="#b" x="90.4" y="635.9"/>
<use href="#r" x="171.2" y="575.6"/>
<use href="#r" x="116.1" y="478.7"/>
<use href="#r" x="160.6" y="563.7"/>
<use href="#r" x="46.7" y="581.9"/>
<use href="#b" x="217.6" y="547.3"/>
<use href="#b" x="146.9" y="617.5"/>
<use href="#r" x="182.1" y="523.6"/>
<use href="#r" x="177.3" y="589.5"/>
<use href="#b" x="59.8" y="531.6"/>
<use href="#r" x="53.7" y="481.1"/>
<use href="#r" x="167.8" y="646.7"/>
<use href="#b" x="69.1" y="548.1"/>
<use href="#r" x="212.0" y="601.5"/>
<use href="#r" x="193.8" y="641.4"/>
<use href="#b" x="151.7" y="467.0"/>
<use href="#r" x="118.8" y="470.4"/>
<use href="#r" x="147.8" y="635.4"/>
<use href="#r" x="170.8" y="499.2"/>
<use href="#b" x="201.9" y="634.5"/>
<use href="#r" x="133.8" y="559.9"/>
<use href="#r" x="123.0" y="593.3"/>
<use href="#b" x="101.9" y="544.8"/>
<use href="#b" x="195.0" y="466.7"/>
<use href="#r" x="122.6" y="566.1"/>
<use href="#r" x="44.0" y="545.3"/>
<use href="#b" x="177.4" y="554.0"/>
<use href="#r" x="84.6" y="607.4"/>
<use href="#b" x="152.9" y="603.4"/>
<use href="#r" x="181.6" y="511.2"/>
<use href="#b" x="232.2" y="529.0"/>
<use href="#b" x="84.6" y="634.0"/>
<use href="#b" x="133.0" y="462.8"/>
<use href="#b" x="141.9" y="523.2"/>
<use href="#r" x="99.6" y="628.1"/>
<use href="#r" x="195.7" y="599.4"/>
<use href="#r" x="118.7" y="620.8"/>
<use href="#b" x="93.4" y="521.8"/>
<use href="#r" x="125.5" y="572.8"/>
<use href="#r" x="194.4" y="579.3"/>
<use href="#b" x="65.7" y="585.1"/>
<use href="#r" x="117.8" y="651.9"/>
<use href="#r" x="124.8" y="532.6"/>
<use href="#r" x="63.0" y="481.6"/>
<use href="#r" x="69.8" y="477.8"/>
<use href="#b" x="198.0" y="561.1"/>
<use href="#b" x="54.2" y="503.2"/>
<use href="#b" x="177.5" y="596.0"/>
<use href="#b" x="191.6" y="569.0"/>
<use href="#b" x="116.1" y="554.6"/>
<use href="#b" x="44.8" y="523.4"/>
<use href="#r" x="132.1" y="548.1"/>
<use href="#b" x="110.6" y="647.5"/>
<use href="#r" x="127.1" y="583.8"/>
<use href="#r" x="139.0" y="555.5"/>
<use href="#b" x="152.9" y="609.7"/>
<use href="#b" x="163.7" y="569.3"/>
<use href="#b" x="210.9" y="589.8"/>
<use href="#b" x="44.5" y="621.5"/>
<use href="#b" x="89.7" y="628.6"/>
<use href="#b" x="65.2" y="503.7"/>
<use href="#r" x="168.9" y="602.8"/>
<use href="#b" x="202.9" y="533.5"/>
<use href="#b" x="222.8" y="578.3"/>
<use href="#r" x="102.3" y="495.1"/>
<use href="#b" x="116.5" y="500.9"/>
<use href="#b" x="142.1" y="546.9"/>
<use href="#b" x="216.7" y="566.7"/>
<use href="#r" x="115.7" y="533.8"/>
<use href="#r" x="69.3" y="602.8"/>
<use href="#b" x="205.8" y="543.4"/>
<use href="#b" x="188.2" y="639.8"/>
<use href="#r" x="146.6" y="609.4"/>
<use href="#r" x="110.0" y="565.3"/>
<use href="#r" x="156.7" y="503.4"/>
<use href="#r" x="227.1" y="540.3"/>
<use href="#b" x="191.9" y="605.7"/>
<use href="#r" x="84.7" y="503.6"/>
<use href="#b" x="149.6" y="499.3"/>
<use href="#r" x="95.6" y="604.9"/>
<use href="#b" x="122.0" y="500.0"/>
<use href="#b" x="62.6" y="526.3"/>
<use href="#r" x="195.6" y="480.5"/>
<use href="#b" x="140.1" y="487.5"/>
<use href="#b" x="174.9" y="515.0"/>
<use href="#b" x="230.2" y="611.1"/>
<use href="#r" x="73.6" y="537.1"/>
<use href="#r" x="157.4" y="626.8"/>
<use href="#b" x="229.0" y="515.4"/>
<use href="#r" x="152.1" y="621.0"/>
<use href="#b" x="209.3" y="551.0"/>
<use href="#r" x="160.0" y="580.4"/>
<use href="#r" x="78.2" y="623.0"/>
<use href="#b" x="121.4" y="633.9"/>
<use href="#b" x="187.0" y="506.7"/>
<use href="#b" x="123.0" y="522.6"/>
<use href="#b" x="93.2" y="611.7"/>
<use href="#b" x="227.4" y="464.0"/>
<use href="#b" x="107.8" y="465.7"/>
<use href="#b" x="223.0" y="534.5"/>
<use href="#b" x="118.0" y="511.7"/>
<use href="#r" x="70.1" y="511.2"/>
<use href="#b" x="224.6" y="627.1"/>
<use href="#b" x="136.6" y="476.4"/>
<use href="#r" x="204.5" y="509.4"/>
<use href="#r" x="179.0" y="493.3"/>
<use href="#b" x="78.2" y="466.5"/>
<use href="#b" x="186.4" y="585.6"/>
<use href="#b" x="107.8" y="512.1"/>
<use href="#b" x="73.7" y="515.9"/>
<use href="#r" x="234.1" y="466.0"/>
<use href="#b" x="225.7" y="638.1"/>
<use href="#b" x="177.6" y="559.3"/>
<use href="#b" x="209.5" y="479.2"/>
<use href="#b" x="182.7" y="557.4"/>
<use href="#b" x="227.0" y="558.0"/>
<use href="#r" x="192.3" y="536.8"/>
<use href="#b" x="144.9" y="558.2"/>
<use href="#b" x="179.9" y="625.1"/>
<use href="#b" x="129.2" y="593.6"/>
<use href="#r" x="170.3" y="465.9"/>
<use href="#r" x="72.1" y="569.3"/>
<use href="#r" x="131.1" y="644.4"/>
<use href="#b" x="51.6" y="617.6"/>
<use href="#r" x="64.4" y="511.5"/>
<use href="#r" x="153.8" y="529.2"/>
<use href="#b" x="144.7" y="518.5"/>
<use href="#b" x="211.0" y="619.4"/>
<use href="#b" x="149.9" y="505.7"/>
<use href="#b" x="112.8" y="560.3"/>
<use href="#r" x="59.4" y="521.9"/>
<use href="#r" x="97.5" y="569.1"/>
<use href="#b" x="197.0" y="627.6"/>
<use href="#b" x="211.1" y="524.5"/>
<use href="#b" x="201.1" y="504.3"/>
<use href="#r" x="165.4" y="478.0"/>
<use href="#b" x="219.7" y="634.5"/>
<use href="#r" x="130.7" y="629.4"/>
<use href="#b" x="91.5" y="580.3"/>
<use href="#b" x="208.0" y="595.2"/>
<use href="#r" x="216.1" y="467.3"/>
<use href="#r" x="163.6" y="638.6"/>
<use href="#b" x="67.1" y="531.2"/>
<use href="#r" x="232.4" y="488.9"/>
<use href="#r" x="206.4" y="627.1"/>
<use href="#b" x="64.1" y="544.5"/>
<use href="#b" x="128.4" y="614.0"/>
<use href="#r" x="46.9" y="490.3"/>
<use href="#b" x="163.9" y="650.6"/>
<use href="#b" x="47.6" y="505.8"/>
<use href="#r" x="80.8" y="510.3"/>
<use href="#r" x="158.7" y="514.1"/>
<use href="#r" x="78.9" y="608.8"/>
<use href="#b" x="87.0" y="520.6"/>
<use href="#b" x="173.7" y="504.7"/>
<use href="#r" x="204.3" y="568.9"/>
<use href="#b" x="60.6" y="537.0"/>
<use href="#r" x="112.5" y="486.9"/>
<use href="#b" x="151.3" y="537.3"/>
<use href="#r" x="72.7" y="618.4"/>
<use href="#b" x="116.3" y="580.3"/>
<use href="#r" x="83.2" y="580.0"/>
<use href="#b" x="169.5" y="634.3"/>
<use href="#r" x="165.5" y="613.6"/>
<use href="#r" x="144.7" y="534.4"/>
<use href="#r" x="103.7" y="554.8"/>
<use href="#b" x="204.0" y="490.1"/>
<use href="#r" x="154.5" y="482.3"/>
<use href="#b" x="158.8" y="617.3"/>
<use href="#r" x="52.1" y="474.5"/>
<use href="#b" x="91.1" y="468.0"/>
<use href="#r" x="210.5" y="565.7"/>
<use href="#b" x="61.4" y="488.9"/>
<use href="#b" x="157.9" y="608.5"/>
<use href="#r" x="217.2" y="480.5"/>
<use href="#b" x="74.6" y="597.0"/>
<use href="#b" x="130.8" y="652.2"/>
<use href="#b" x="210.1" y="539.9"/>
<use href="#r" x="165.8" y="508.8"/>
<use href="#r" x="73.8" y="575.7"/>
<use href="#r" x="137.7" y="613.1"/>
<use href="#r" x="214.1" y="641.1"/>
<use href="#b" x="97.2" y="542.2"/>
<use href="#r" x="208.1" y="635.9"/>
<use href="#b" x="60.1" y="505.4"/>
<use href="#b" x="106.2" y="630.2"/>
<use href="#r" x="147.8" y="585.9"/>
<use href="#b" x="143.8" y="498.8"/>
<use href="#b" x="59.9" y="556.5"/>
<use href="#b" x="133.7" y="582.1"/>
<use href="#r" x="118.5" y="644.8"/>
<use href="#b" x="218.8" y="623.8"/>
<use href="#b" x="178.1" y="570.0"/>
<use href="#b" x="55.8" y="650.7"/>
<use href="#b" x="160.5" y="475.3"/>
<use href="#r" x="162.4" y="482.9"/>
<use href="#b" x="67.1" y="471.0"/>
<use href="#r" x="68.8" y="494.5"/>
<use href="#r" x="229.6" y="575.1"/>
<use href="#r" x="70.0" y="593.6"/>
<use href="#r" x="53.0" y="549.3"/>
<use href="#r" x="72.9" y="524.2"/>
<use href="#r" x="175.7" y="539.3"/>
<use href="#b" x="114.0" y="614.3"/>
<use href="#b" x="53.5" y="556.9"/>
<use href="#r" x="182.2" y="643.9"/>
<use href="#r" x="224.7" y="613.6"/>
<use href="#b" x="94.7" y="646.1"/>
<use href="#b" x="92.0" y="558.8"/>
<use href="#b" x="179.4" y="602.3"/>
<use href="#b" x="214.9" y="497.1"/>
<use href="#r" x="130.9" y="478.9"/>
<use href="#b" x="179.7" y="579.1"/>
<use href="#r" x="78.6" y="630.5"/>
<use href="#b" x="212.5" y="612.7"/>
<use href="#b" x="217.8" y="601.7"/>
<use href="#r" x="69.3" y="489.1"/>
<use href="#b" x="191.5" y="487.9"/>
<use href="#b" x="63.9" y="630.7"/>
<use href="#r" x="231.8" y="560.7"/>
<use href="#r" x="172.3" y="615.8"/>
<use href="#r" x="166.5" y="488.9"/>
<use href="#b" x="76.4" y="646.0"/>
<use href="#r" x="199.7" y="546.7"/>
<use href="#b" x="88.3" y="547.3"/>
<use href="#b" x="140.8" y="571.4"/>
<use href="#b" x="102.2" y="615.0"/>
<use href="#b" x="170.5" y="472.1"/>
<use href="#r" x="96.3" y="534.9"/>
<use href="#r" x="195.7" y="523.5"/>
<use href="#b" x="232.3" y="651.0"/>
<use href="#b" x="135.5" y="648.9"/>
<use href="#r" x="157.5" y="574.4"/>
<use href="#r" x="103.6" y="623.7"/>
<use href="#r" x="114.3" y="472.8"/>
<use href="#r" x="232.7" y="555.1"/>
<use href="#r" x="106.9" y="612.0"/>
<use href="#b" x="136.6" y="511.1"/>
<use href="#b" x="178.6" y="470.6"/>
<use href="#r" x="156.5" y="641.5"/>
<use href="#b" x="96.7" y="576.7"/>
<use href="#b" x="101.4" y="488.3"/>
<use href="#r" x="157.5" y="650.8"/>
<use href="#r" x="91.4" y="492.6"/>
<use href="#b" x="161.1" y="623.0"/>
<use href="#r" x="137.6" y="531.3"/>
<use href="#b" x="47.4" y="636.4"/>
<use href="#r" x="110.7" y="544.1"/>
<use href="#b" x="227.2" y="583.4"/>
<use href="#r" x="165.6" y="574.5"/>
<use href="#b" x="143.9" y="589.9"/>
<use href="#b" x="160.6" y="536.0"/>
<use href="#r" x="189.8" y="522.0"/>
<use href="#b" x="152.1" y="628.9"/>
<use href="#r" x="216.5" y="607.7"/>
<use href="#b" x="196.7" y="569.2"/>
<use href="#r" x="110.0" y="623.8"/>
<use href="#r" x="147.1" y="491.3"/>
<use href="#r" x="126.5" y="492.7"/>
<use href="#r" x="234.0" y="588.5"/>
<use href="#b" x="78.0" y="490.5"/>
<use href="#r" x="67.8" y="639.1"/>
<use href="#r" x="213.9" y="646.5"/>
<use href="#b" x="86.1" y="515.2"/>
<use href="#r" x="89.9" y="599.6"/>
<use href="#b" x="120.4" y="482.6"/>
<use href="#r" x="64.5" y="604.9"/>
<use href="#b" x="225.9" y="509.7"/>
<use href="#r" x="188.3" y="580.6"/>
<use href="#b" x="82.7" y="645.4"/>
<use href="#b" x="69.8" y="632.5"/>
<use href="#r" x="203.4" y="472.9"/>
<use href="#r" x="49.9" y="647.4"/>
<use href="#r" x="61.2" y="497.9"/>
<use href="#b" x="143.5" y="579.6"/>
<use href="#r" x="78.7" y="601.2"/>
<use href="#b" x="127.5" y="552.9"/>
<use href="#r" x="209.1" y="485.4"/>
<use href="#r" x="196.4" y="583.8"/>
<use href="#b" x="232.0" y="507.4"/>
<use href="#b" x="111.1" y="572.9"/>
<use href="#r" x="119.0" y="537.4"/>
<use href="#r" x="117.4" y="604.9"/>
<use href="#r" x="106.3" y="588.2"/>
<use href="#b" x="185.3" y="490.9"/>
<use href="#r" x="84.8" y="498.1"/>
<use href="#r" x="126.2" y="468.3"/>
<use href="#r" x="194.1" y="542.3"/>
<use href="#b" x="63.3" y="612.4"/>
<use href="#b" x="164.3" y="471.2"/>
<use href="#r" x="126.1" y="642.1"/>
<use href="#r" x="214.4" y="528.9"/>
<use href="#r" x="56.9" y="570.4"/>
<use href="#b" x="47.0" y="626.7"/>
<use href="#r" x="136.9" y="547.6"/>
<use href="#r" x="232.4" y="497.2"/>
<use href="#r" x="45.6" y="606.0"/>
<use href="#b" x="162.2" y="604.4"/>
<use href="#r" x="150.9" y="550.1"/>
<use href="#b" x="140.4" y="604.5"/>
<use href="#r" x="207.8" y="558.7"/>
<use href="#b" x="194.0" y="473.6"/>
<use href="#r" x="85.1" y="571.4"/>
<use href="#r" x="162.4" y="462.8"/>
<use href="#b" x="184.0" y="633.9"/>
<use href="#r" x="147.9" y="572.5"/>
<use href="#r" x="205.7" y="642.9"/>
<use href="#b" x="112.1" y="495.6"/>
<use href="#r" x="210.0" y="605.3"/>
<use href="#r" x="223.0" y="473.9"/>
<use href="#b" x="49.5" y="522.8"/>
<use href="#b" x="58.9" y="621.4"/>
<use href="#b" x="131.1" y="566.8"/>
<use href="#r" x="125.2" y="600.8"/>
<use href="#b" x="102.7" y="600.3"/>
<use href="#b" x="206.8" y="577.7"/>
<use href="#b" x="46.8" y="566.9"/>
<use href="#r" x="132.3" y="639.4"/>
<use href="#r" x="203.5" y="598.6"/>
<use href="#r" x="163.9" y="554.5"/>
<use href="#r" x="224.8" y="550.3"/>
<use href="#b" x="47.2" y="465.4"/>
<use href="#r" x="71.7" y="465.2"/>
<use href="#r" x="111.2" y="597.4"/>
<use href="#b" x="199.2" y="577.6"/>
<use href="#r" x="205.0" y="615.9"/>
<use href="#b" x="202.3" y="519.3"/>
<use href="#r" x="217.4" y="593.0"/>
<use href="#r" x="154.1" y="520.1"/>
<use href="#b" x="148.0" y="646.7"/>
<use href="#r" x="115.4" y="632.0"/>
<use href="#r" x="69.6" y="624.3"/>
<use href="#b" x="174.6" y="489.1"/>
<use href="#b" x="228.1" y="631.4"/>
<use href="#r" x="83.8" y="614.3"/>
<use href="#r" x="93.8" y="497.2"/>
<use href="#r" x="193.3" y="624.1"/>
<use href="#r" x="220.2" y="463.7"/>
<use href="#b" x="213.5" y="514.4"/>
<use href="#b" x="97.5" y="634.6"/>
<use href="#r" x="86.4" y="477.4"/>
<use href="#b" x="82.1" y="552.8"/>
<use href="#b" x="48.4" y="572.3"/>
<use href="#r" x="214.5" y="632.0"/>
<use href="#b" x="169.7" y="587.1"/>
<use href="#r" x="58.4" y="606.3"/>
<use href="#b" x="216.7" y="650.9"/>
<use href="#r" x="158.1" y="497.0"/>
<use href="#b" x="227.1" y="489.1"/>
<use href="#r" x="225.1" y="495.7"/>
<use href="#r" x="175.9" y="545.3"/>
<use href="#r" x="158.3" y="636.1"/>
<use href="#r" x="66.4" y="550.8"/>
<use href="#b" x="132.1" y="598.3"/>
<use href="#b" x="220.7" y="571.9"/>
<use href="#b" x="222.8" y="603.8"/>
<use href="#b" x="57.5" y="641.2"/>
<use href="#b" x="211.3" y="507.0"/>
<use href="#b" x="179.7" y="480.9"/>
<use href="#r" x="230.5" y="470.9"/>
<use href="#b" x="174.6" y="634.0"/>
<use href="#b" x="131.2" y="577.7"/>
<use href="#b" x="138.1" y="618.0"/>
<use href="#b" x="106.5" y="650.9"/>
<use href="#b" x="182.8" y="540.7"/>
<use href="#r" x="146.3" y="553.5"/>
<use href="#r" x="165.3" y="544.4"/>
<use href="#r" x="126.4" y="607.9"/>
<use href="#r" x="66.5" y="525.0"/>
<use href="#b" x="110.3" y="640.7"/>
<use href="#b" x="100.1" y="511.0"/>
<use href="#r" x="197.9" y="607.4"/>
<use href="#r" x="192.6" y="633.7"/>
<use href="#b" x="99.7" y="607.1"/>
<use href="#r" x="93.5" y="622.7"/>
<use href="#b" x="133.6" y="542.5"/>
<use href="#b" x="65.6" y="577.0"/>
<use href="#b" x="157.3" y="553.1"/>
<use href="#r" x="161.7" y="502.6"/>
<use href="#r" x="82.9" y="593.6"/>
<use href="#b" x="97.2" y="554.1"/>
<use href="#r" x="162.3" y="630.9"/>
<use href="#r" x="151.7" y="510.5"/>
<use href="#b" x="50.7" y="597.1"/>
<use href="#b" x="119.9" y="560.4"/>
<use href="#r" x="200.4" y="498.7"/>
<use href="#b" x="111.1" y="591.0"/>
<use href="#r" x="135.2" y="608.8"/>
<use href="#b" x="45.4" y="557.1"/>
<use href="#r" x="146.9" y="477.7"/>
<use href="#r" x="51.3" y="611.1"/>
<use href="#r" x="111.9" y="604.0"/>
<use href="#b" x="99.7" y="547.6"/>
<use href="#r" x="228.8" y="601.1"/>
<use href="#b" x="74.6" y="652.7"/>
<use href="#r" x="101.9" y="638.6"/>
<use href="#b" x="226.6" y="567.0"/>
<use href="#b" x="119.1" y="590.1"/>
<use href="#b" x="84.4" y="487.7"/>
<use href="#b" x="146.1" y="613.5"/>
<use href="#b" x="225.0" y="529.8"/>
<use href="#r" x="173.2" y="591.4"/>
<use href="#b" x="226.5" y="478.6"/>
<use href="#b" x="85.5" y="652.4"/>
<use href="#r" x="104.8" y="498.5"/>
<use href="#r" x="146.2" y="503.4"/>
<use href="#b" x="105.7" y="507.2"/>
<use href="#b" x="158.6" y="585.8"/>
<use href="#b" x="180.4" y="616.9"/>
<use href="#b" x="233.5" y="518.6"/>
<use href="#b" x="113.6" y="539.5"/>
<use href="#r" x="82.1" y="545.8"/>
<use href="#r" x="184.2" y="474.0"/>
<use href="#r" x="74.1" y="499.7"/>
<use href="#b" x="232.2" y="606.3"/>
<use href="#b" x="153.3" y="646.0"/>
<use href="#r" x="66.1" y="644.4"/>
<use href="#r" x="140.2" y="519.2"/>
<use href="#r" x="175.7" y="585.7"/>
<use href="#b" x="68.1" y="649.5"/>
<use href="#b" x="211.2" y="464.0"/>
<use href="#r" x="86.8" y="621.8"/>
<use href="#b" x="231.8" y="512.4"/>
<use href="#b" x="57.9" y="565.3"/>
<use href="#b" x="221.0" y="647.6"/>
<use href="#r" x="105.3" y="529.7"/>
<use href="#b" x="195.5" y="512.8"/>
<use href="#b" x="124.2" y="620.2"/>
<use href="#b" x="125.1" y="543.5"/>
<use href="#r" x="110.3" y="480.2"/>
<use href="#r" x="189.9" y="478.8"/>
<use href="#b" x="72.5" y="557.7"/>
<use href="#r" x="124.3" y="652.2"/>
<use href="#b" x="149.4" y="596.1"/>
<use href="#b" x="151.3" y="473.8"/>
<use href="#b" x="57.7" y="469.9"/>
<use href="#r" x="45.2" y="473.8"/>
<use href="#b" x="137.4" y="642.6"/>
<use href="#r" x="195.2" y="594.0"/>
<use href="#r" x="145.2" y="601.7"/>
<use href="#r" x="214.6" y="569.2"/>
<use href="#r" x="49.8" y="483.1"/>
<use href="#b" x="191.7" y="493.4"/>
<use href="#b" x="165.6" y="535.4"/>
<use href="#r" x="59.3" y="464.7"/>
<use href="#b" x="146.3" y="523.0"/>
<use href="#b" x="124.1" y="636.9"/>
<use href="#b" x="180.8" y="486.1"/>
<use href="#b" x="218.9" y="585.3"/>
<use href="#b" x="136.1" y="481.5"/>
<use href="#r" x="210.4" y="500.2"/>
<use href="#r" x="55.0" y="625.1"/>
<use href="#b" x="136.3" y="497.7"/>
<use href="#r" x="196.1" y="616.2"/>
<use href="#b" x="134.4" y="521.6"/>
<use href="#r" x="118.8" y="523.2"/>
<use href="#r" x="131.0" y="465.3"/>
<use href="#b" x="222.7" y="543.1"/>
<use href="#b" x="173.4" y="573.8"/>
<use href="#b" x="202.6" y="650.6"/>
<use href="#r" x="95.9" y="481.2"/>
<use href="#b" x="172.7" y="551.6"/>
<use href="#r" x="194.7" y="550.0"/>
<use href="#r" x="189.3" y="615.2"/>
<use href="#b" x="45.9" y="546.4"/>
<use href="#b" x="197.4" y="644.2"/>
<use href="#b" x="74.8" y="547.0"/>
<use href="#r" x="170.5" y="480.5"/>
<use href="#b" x="84.4" y="530.5"/>
<use href="#r" x="173.2" y="463.3"/>
<use href="#r" x="204.0" y="525.1"/>
<use href="#b" x="120.2" y="600.6"/>
<use href="#r" x="87.7" y="580.9"/>
<use href="#b" x="96.5" y="516.7"/>
<use href="#b" x="139.8" y="552.3"/>
<use href="#r" x="98.5" y="588.5"/>
<use href="#r" x="170.2" y="492.0"/>
<use href="#r" x="99.3" y="466.7"/>
<use href="#r" x="161.0" y="527.9"/>
<use href="#b" x="61.9" y="573.2"/>
<use href="#b" x="172.1" y="516.0"/>
<use href="#b" x="157.9" y="601.5"/>
<use href="#b" x="161.4" y="560.8"/>
<use href="#r" x="46.8" y="615.4"/>
<use href="#b" x="110.1" y="519.2"/>
<use href="#r" x="74.1" y="508.7"/>
<use href="#r" x="197.4" y="635.7"/>
<use href="#r" x="185.7" y="465.9"/>
<use href="#r" x="80.3" y="539.0"/>
<use href="#r" x="176.8" y="642.7"/>
<use href="#b" x="232.3" y="637.2"/>
<use href="#b" x="176.6" y="605.8"/>
<use href="#b" x="186.0" y="496.0"/>
<use href="#r" x="215.0" y="580.5"/>
<use href="#b" x="186.1" y="593.6"/>
<use href="#r" x="116.1" y="564.8"/>
<use href="#b" x="172.1" y="560.9"/>
<use href="#b" x="56.0" y="600.6"/>
<use href="#b" x="48.2" y="532.8"/>
<use href="#r" x="57.0" y="532.8"/>
<use href="#b" x="97.9" y="602.2"/>
<use href="#b" x="103.5" y="594.7"/>
<use href="#r" x="213.5" y="493.1"/>
<use href="#b" x="180.9" y="559.9"/>
<use href="#r" x="77.2" y="518.7"/>
<use href="#b" x="59.0" y="476.5"/>
<use href="#r" x="155.5" y="470.3"/>
<use href="#r" x="215.7" y="484.8"/>
<use href="#r" x="216.6" y="505.5"/>
<use href="#b" x="103.3" y="583.0"/>
<use href="#b" x="193.1" y="531.2"/>
<use href="#r" x="49.0" y="499.0"/>
<use href="#r" x="72.8" y="637.9"/>
<use href="#r" x="119.8" y="506.6"/>
<use href="#r" x="219.8" y="558.5"/>
<use href="#r" x="218.3" y="517.4"/>
<use href="#r" x="66.2" y="598.4"/>
<use href="#r" x="172.7" y="529.4"/>
<use href="#b" x="76.5" y="532.9"/>
<use href="#b" x="112.8" y="585.0"/>
<use href="#b" x="140.9" y="628.7"/>
<use href="#r" x="222.3" y="639.9"/>
<use href="#b" x="91.4" y="508.3"/>
<use href="#r" x="191.3" y="464.3"/>
<use href="#r" x="139.5" y="504.4"/>
<use href="#b" x="65.4" y="478.1"/>
<use href="#b" x="191.0" y="565.6"/>
<use href="#r" x="225.7" y="651.3"/>
<use href="#r" x="154.1" y="558.8"/>
<use href="#r" x="138.0" y="492.6"/>
<use href="#b" x="214.8" y="597.6"/>
<use href="#r" x="82.7" y="631.2"/>
<use href="#b" x="93.5" y="606.4"/>
<use href="#b" x="234.4" y="616.1"/>
<use href="#r" x="204.2" y="534.8"/>
<use href="#r" x="101.3" y="644.9"/>
<use href="#r" x="191.9" y="502.3"/>
<use href="#r" x="109.5" y="635.6"/>
<use href="#r" x="231.7" y="542.1"/>
<use href="#b" x="220.2" y="597.4"/>
<use href="#r" x="107.8" y="576.1"/>
<use href="#b" x="74.6" y="609.8"/>
<use href="#r" x="135.9" y="564.5"/>
<use href="#r" x="156.4" y="612.7"/>
<use href="#b" x="82.8" y="523.2"/>
<use href="#r" x="90.2" y="528.8"/>
<use href="#b" x="168.0" y="582.5"/>
<use href="#r" x="139.4" y="524.7"/>
<use href="#r" x="185.6" y="556.6"/>
<use href="#r" x="229.1" y="589.0"/>
<use href="#b" x="156.3" y="593.1"/>
<use href="#r" x="221.1" y="616.4"/>
<use href="#b" x="94.5" y="597.7"/>
<use href="#b" x="189.2" y="511.1"/>
<use href="#b" x="212.1" y="556.3"/>
<use href="#b" x="158.0" y="567.7"/>
<use href="#r" x="184.0" y="608.1"/>
<use href="#b" x="202.1" y="477.4"/>
<use href="#b" x="49.4" y="539.6"/>
<use href="#b" x="128.9" y="482.7"/>
<use href="#b" x="122.7" y="500.6"/>
<use href="#r" x="109.8" y="559.3"/>
<use href="#b" x="131.9" y="516.3"/>
<use href="#r" x="93.4" y="550.6"/>
<use href="#r" x="126.8" y="511.4"/>
<use href="#b" x="201.8" y="465.4"/>
<use href="#b" x="189.4" y="629.6"/>
<use href="#b" x="62.0" y="528.7"/>
<use href="#b" x="93.9" y="628.8"/>
<use href="#r" x="166.1" y="499.3"/>
<use href="#r" x="57.1" y="513.8"/>
<use href="#r" x="122.9" y="576.4"/>
<use href="#r" x="149.7" y="485.0"/>
<use href="#r" x="101.2" y="533.2"/>
<use href="#b" x="232.5" y="476.8"/>
<use href="#b" x="61.6" y="586.7"/>
<use href="#r" x="142.7" y="560.2"/>
<use href="#b" x="161.5" y="649.3"/>
<use href="#r" x="72.5" y="645.3"/>
<use href="#b" x="212.1" y="623.3"/>
<use href="#r" x="80.1" y="619.6"/>
<use href="#r" x="219.4" y="496.5"/>
<use href="#r" x="179.6" y="632.4"/>
<use href="#r" x="69.8" y="533.0"/>
<use href="#r" x="79.9" y="498.2"/>
<use href="#r" x="120.2" y="469.2"/>
<use href="#r" x="126.4" y="627.6"/>
<use href="#b" x="218.3" y="539.2"/>
<use href="#b" x="161.3" y="468.3"/>
<use href="#r" x="117.7" y="530.8"/>
<use href="#b" x="112.4" y="579.3"/>
<use href="#b" x="136.0" y="572.4"/>
<use href="#b" x="120.7" y="641.3"/>
<use href="#b" x="181.7" y="519.4"/>
<use href="#b" x="81.6" y="567.5"/>
<use href="#r" x="157.4" y="626.0"/>
<use href="#b" x="210.5" y="546.7"/>
<use href="#r" x="177.8" y="564.8"/>
<use href="#r" x="222.3" y="592.5"/>
<use href="#r" x="185.8" y="544.4"/>
<use href="#r" x="146.2" y="537.7"/>
<use href="#r" x="218.6" y="563.9"/>
<use href="#r" x="102.9" y="473.1"/>
<use href="#r" x="229.2" y="642.9"/>
<use href="#r" x="117.0" y="627.3"/>
<use href="#r" x="79.8" y="649.7"/>
<use href="#b" x="111.4" y="466.0"/>
<use href="#r" x="173.8" y="601.4"/>
<use href="#b" x="152.0" y="499.1"/>
<use href="#b" x="62.6" y="519.8"/>
<use href="#b" x="87.6" y="643.0"/>
<use href="#b" x="227.3" y="520.0"/>
<use href="#r" x="180.7" y="496.3"/>
<use href="#r" x="89.4" y="616.1"/>
<use href="#b" x="193.6" y="577.8"/>
<use href="#r" x="99.5" y="621.2"/>
<use href="#b" x="113.7" y="502.0"/>
<use href="#b" x="101.7" y="543.1"/>
<use href="#b" x="132.3" y="622.9"/>
<use href="#r" x="76.7" y="467.8"/>
<use href="#r" x="197.4" y="650.0"/>
<use href="#b" x="111.8" y="511.9"/>
<use href="#r" x="229.1" y="613.8"/>
<use href="#r" x="181.2" y="501.9"/>
<use href="#r" x="156.5" y="533.9"/>
<use href="#b" x="117.4" y="620.3"/>
<use href="#b" x="127.2" y="504.4"/>
<use href="#b" x="95.7" y="650.3"/>
<use href="#r" x="181.3" y="529.8"/>
<use href="#r" x="153.5" y="572.0"/>
<use href="#r" x="90.4" y="590.7"/>
<use href="#r" x="209.4" y="601.2"/>
<use href="#r" x="111.7" y="530.3"/>
<use href="#r" x="101.9" y="485.1"/>
<use href="#b" x="171.7" y="647.1"/>
<use href="#b" x="190.2" y="586.8"/>
<use href="#r" x="179.7" y="597.0"/>
<use href="#r" x="229.7" y="547.2"/>
<use href="#b" x="59.2" y="634.9"/>
<use href="#r" x="98.3" y="562.5"/>
<use href="#r" x="75.5" y="568.1"/>
<use href="#b" x="63.2" y="546.9"/>
<use href="#b" x="50.3" y="629.0"/>
<use href="#r" x="52.0" y="639.6"/>
<use href="#r" x="136.0" y="600.4"/>
<use href="#b" x="162.3" y="591.2"/>
<use href="#b" x="222.9" y="504.7"/>
<use href="#r" x="180.4" y="623.5"/>
<use href="#b" x="163.2" y="513.9"/>
<use href="#b" x="128.0" y="573.2"/>
<use href="#b" x="133.1" y="584.5"/>
<use href="#b" x="110.6" y="618.0"/>
<use href="#r" x="122.2" y="516.0"/>
<use href="#r" x="132.4" y="508.0"/>
<use href="#r" x="156.5" y="524.9"/>
<use href="#b" x="180.3" y="464.8"/>
<use href="#r" x="143.4" y="543.8"/>
<use href="#b" x="186.0" y="525.4"/>
<use href="#r" x="81.4" y="576.7"/>
<use href="#r" x="89.9" y="558.7"/>
<use href="#b" x="65.2" y="616.6"/>
<use href="#r" x="196.0" y="587.3"/>
<use href="#b" x="220.2" y="491.1"/>
<use href="#r" x="140.9" y="608.4"/>
<use href="#r" x="209.5" y="523.2"/>
<use href="#r" x="49.0" y="589.6"/>
<use href="#b" x="209.6" y="584.9"/>
<use href="#r" x="72.9" y="595.5"/>
<use href="#r" x="145.6" y="638.3"/>
<use href="#r" x="167.1" y="599.1"/>
<use href="#b" x="84.9" y="512.3"/>
<use href="#r" x="119.6" y="555.5"/>
<use href="#b" x="202.1" y="503.2"/>
<use href="#r" x="73.2" y="578.2"/>
<use href="#r" x="207.3" y="513.1"/>
<use href="#b" x="189.3" y="552.4"/>
<use href="#b" x="204.7" y="553.1"/>
<use href="#b" x="50.9" y="546.8"/>
<use href="#b" x="185.2" y="584.2"/>
<use href="#b" x="125.6" y="614.2"/>
<use href="#r" x="167.4" y="556.6"/>
<use href="#r" x="58.3" y="495.1"/>
<use href="#r" x="131.0" y="605.4"/>
<use href="#r" x="230.6" y="531.9"/>
<use href="#r" x="198.9" y="481.4"/>
<use href="#b" x="56.8" y="616.7"/>
<use href="#r" x="72.2" y="527.3"/>
<use href="#r" x="121.8" y="594.7"/>
<use href="#r" x="118.3" y="649.3"/>
<use href="#r" x="60.2" y="539.1"/>
<use href="#b" x="54.1" y="649.4"/>
<use href="#r" x="112.6" y="472.0"/>
<use href="#r" x="125.5" y="475.6"/>
<use href="#r" x="186.5" y="531.6"/>
<use href="#b" x="209.3" y="534.8"/>
<use href="#b" x="87.7" y="566.1"/>
<use href="#b" x="195.9" y="489.3"/>
<use href="#r" x="146.8" y="591.2"/>
<use href="#b" x="69.2" y="582.6"/>
<use href="#b" x="163.4" y="608.4"/>
<use href="#b" x="228.9" y="626.2"/>
<use href="#r" x="59.9" y="557.2"/>
<use href="#r" x="85.6" y="482.0"/>
<use href="#b" x="65.9" y="501.6"/>
<use href="#b" x="168.3" y="485.0"/>
<use href="#b" x="229.5" y="620.2"/>
<use href="#b" x="210.7" y="642.0"/>
<use href="#r" x="98.1" y="528.7"/>
<use href="#b" x="109.3" y="485.6"/>
<use href="#b" x="166.0" y="505.4"/>
<use href="#b" x="113.9" y="546.1"/>
<use href="#b" x="78.9" y="625.8"/>
<use href="#b" x="174.7" y="625.3"/>
<use href="#r" x="222.6" y="510.1"/>
<use href="#b" x="97.5" y="567.8"/>
<use href="#b" x="182.3" y="508.0"/>
<use href="#b" x="55.7" y="590.1"/>
<use href="#r" x="182.2" y="536.2"/>
<use href="#r" x="116.5" y="517.0"/>
<use href="#r" x="150.3" y="533.5"/>
<use href="#r" x="196.9" y="559.7"/>
<use href="#r" x="150.1" y="464.5"/>
<use href="#b" x="228.7" y="505.1"/>
<use href="#r" x="147.4" y="618.8"/>
<use href="#r" x="170.4" y="534.7"/>
<use href="#r" x="61.7" y="578.6"/>
<use href="#r" x="64.9" y="625.8"/>
<use href="#r" x="141.7" y="513.6"/>
<use href="#r" x="129.9" y="549.1"/>
<use href="#b" x="197.5" y="602.7"/>
<use href="#r" x="89.6" y="464.9"/>
<use href="#r" x="197.1" y="572.6"/>
<use href="#r" x="51.1" y="477.9"/>
<use href="#r" x="54.4" y="568.6"/>
<use href="#b" x="108.6" y="612.1"/>
<use href="#b" x="146.5" y="625.2"/>
<use href="#b" x="128.9" y="590.7"/>
<use href="#b" x="70.4" y="540.8"/>
<use href="#b" x="140.9" y="582.3"/>
<use href="#b" x="138.6" y="634.2"/>
<use href="#b" x="133.3" y="530.7"/>
<use href="#r" x="190.5" y="601.1"/>
<use href="#b" x="191.9" y="641.1"/>
<use href="#r" x="94.9" y="493.5"/>
<use href="#r" x="144.1" y="482.8"/>
<use href="#b" x="117.6" y="569.9"/>
<use href="#b" x="61.7" y="508.3"/>
<use href="#b" x="51.2" y="618.9"/>
<use href="#b" x="72.8" y="472.7"/>
<use href="#r" x="217.1" y="477.7"/>
<use href="#b" x="159.9" y="507.0"/>
<use href="#b" x="185.9" y="561.7"/>
<use href="#r" x="95.6" y="539.1"/>
<use href="#r" x="119.7" y="478.0"/>
<use href="#b" x="227.6" y="526.5"/>
<use href="#b" x="148.4" y="580.8"/>
<use href="#b" x="76.4" y="600.6"/>
<use href="#r" x="151.0" y="543.4"/>
<use href="#b" x="45.5" y="582.2"/>
<use href="#r" x="217.8" y="529.5"/>
<use href="#b" x="164.1" y="620.1"/>
<use href="#b" x="78.7" y="550.8"/>
<use href="#b" x="115.6" y="551.2"/>
<use href="#b" x="193.4" y="620.8"/>
<use href="#r" x="96.5" y="643.7"/>
<use href="#b" x="195.6" y="505.7"/>
<use href="#b" x="170.7" y="630.2"/>
<use href="#r" x="106.1" y="566.0"/>
<use href="#r" x="46.9" y="644.9"/>
<use href="#b" x="231.2" y="494.2"/>
<use href="#r" x="169.4" y="639.2"/>
<use href="#b" x="164.5" y="520.6"/>
<use href="#b" x="224.1" y="499.2"/>
<use href="#b" x="120.7" y="539.3"/>
<use href="#r" x="152.1" y="590.1"/>
<use href="#b" x="229.7" y="572.5"/>
<use href="#r" x="137.5" y="469.1"/>
<use href="#r" x="128.9" y="639.0"/>
<use href="#b" x="72.4" y="490.4"/>
<use href="#b" x="80.3" y="636.8"/>
<use href="#r" x="204.6" y="491.1"/>
<use href="#b" x="125.5" y="557.3"/>
<use href="#b" x="128.2" y="564.3"/>
<use href="#b" x="99.2" y="504.0"/>
<use href="#b" x="231.5" y="581.5"/>
<use href="#b" x="106.5" y="516.4"/>
<use href="#b" x="165.6" y="570.4"/>
<use href="#r" x="51.0" y="580.5"/>
<use href="#r" x="209.8" y="571.1"/>
<use href="#r" x="173.4" y="502.7"/>
<use href="#b" x="45.6" y="652.7"/>
<use href="#r" x="204.8" y="636.3"/>
<use href="#b" x="69.4" y="548.5"/>
<use href="#b" x="64.4" y="606.1"/>
<use href="#b" x="165.2" y="479.2"/>
<use href="#r" x="184.9" y="549.7"/>
<use href="#r" x="101.5" y="629.3"/>
<use href="#r" x="174.3" y="485.2"/>
<use href="#b" x="156.9" y="606.5"/>
<use href="#b" x="92.7" y="582.8"/>
<use href="#r" x="69.6" y="568.4"/>
<use href="#b" x="208.8" y="476.2"/>
<use href="#b" x="182.0" y="573.8"/>
<use href="#r" x="223.5" y="621.4"/>
<use href="#r" x="159.9" y="616.5"/>
<use href="#r" x="171.5" y="467.5"/>
<use href="#r" x="202.8" y="629.0"/>
<use href="#r" x="209.2" y="468.4"/>
<use href="#b" x="102.1" y="550.4"/>
<use href="#r" x="173.8" y="521.7"/>
<use href="#b" x="44.6" y="568.3"/>
<use href="#b" x="112.6" y="630.0"/>
<use href="#b" x="63.1" y="593.8"/>
<use href="#b" x="151.7" y="566.0"/>
<use href="#r" x="51.6" y="464.6"/>
<use href="#b" x="214.3" y="618.3"/>
<use href="#r" x="58.8" y="629.2"/>
<use href="#b" x="220.5" y="481.9"/>
<use href="#r" x="108.1" y="535.7"/>
<use href="#b" x="45.9" y="478.7"/>
<use href="#r" x="65.9" y="536.6"/>
<use href="#b" x="96.2" y="638.0"/>
<use href="#r" x="203.9" y="590.6"/>
<use href="#r" x="70.6" y="620.4"/>
<use href="#r" x="131.3" y="617.1"/>
<use href="#r" x="176.0" y="614.5"/>
<use href="#r" x="123.7" y="525.9"/>
<use href="#b" x="203.9" y="620.5"/>
<use href="#r" x="51.6" y="508.3"/>
<use href="#b" x="178.0" y="549.4"/>
<use href="#b" x="87.2" y="503.8"/>
<use href="#b" x="220.1" y="625.6"/>
<use href="#r" x="76.0" y="495.3"/>
<use href="#b" x="113.5" y="646.5"/>
<use href="#r" x="161.5" y="488.3"/>
<use href="#b" x="115.4" y="635.6"/>
<use href="#r" x="143.7" y="632.9"/>
<use href="#r" x="138.2" y="650.7"/>
<use href="#r" x="52.4" y="493.0"/>
<use href="#b" x="67.5" y="512.6"/>
<use href="#b" x="225.5" y="474.8"/>
<use href="#b" x="170.7" y="473.6"/>
<use href="#b" x="175.4" y="541.6"/>
<use href="#b" x="168.5" y="593.5"/>
<use href="#b" x="203.3" y="566.4"/>
<use href="#r" x="144.2" y="507.4"/>
<use href="#r" x="157.4" y="644.8"/>
<use href="#b" x="192.2" y="520.4"/>
<use href="#b" x="188.4" y="635.2"/>
<use href="#r" x="114.7" y="597.5"/>
<use href="#b" x="67.8" y="469.5"/>
<use href="#r" x="75.1" y="584.1"/>
<use href="#b" x="45.8" y="593.7"/>
<use href="#b" x="164.6" y="551.8"/>
<use href="#b" x="227.8" y="513.4"/>
<use href="#r" x="191.9" y="484.1"/>
<use href="#b" x="230.2" y="482.6"/>
<use href="#b" x="89.3" y="472.3"/>
<use href="#b" x="156.5" y="517.4"/>
<use href="#b" x="84.5" y="601.2"/>
<use href="#r" x="86.4" y="585.9"/>
<use href="#b" x="184.9" y="646.3"/>
<use href="#b" x="158.1" y="578.1"/>
<use href="#b" x="66.1" y="554.5"/>
<use href="#r" x="59.9" y="623.6"/>
<use href="#r" x="88.1" y="552.1"/>
<use href="#r" x="217.5" y="467.5"/>
<rect x="38.5" y="641" width="43.5" height="16" fill="#fff"/>
<rect x="41.3" y="642.8" width="39.2" height="3.2" fill="#000"/>
<text x="40.8" y="654.9" font-family='"Liberation Sans", Arial, Helvetica, sans-serif' font-size="10.2" fill="#000">20 Å</text>
<rect x="38.5" y="458.5" width="199.5" height="199.0" fill="none" stroke="#3a3a3a" stroke-width="1"/>
<text x="139.6" y="452.8" text-anchor="middle" font-family='"Liberation Sans", Arial, Helvetica, sans-serif' font-size="20" fill="#111">P1</text>
</g>
<g>
<use href="#r" x="266.1" y="463.3"/>
<use href="#r" x="266.6" y="466.1"/>
<use href="#r" x="263.8" y="469.5"/>
<use href="#r" x="286.3" y="467.9"/>
<use href="#r" x="290.7" y="473.4"/>
<use href="#r" x="288.6" y="475.2"/>
<use href="#r" x="295.9" y="474.7"/>
<use href="#r" x="271.1" y="479.0"/>
<use href="#r" x="312.4" y="480.9"/>
<use href="#r" x="281.4" y="485.3"/>
<use href="#r" x="311.7" y="486.9"/>
<use href="#r" x="306.0" y="491.1"/>
<use href="#r" x="309.6" y="491.3"/>
<use href="#r" x="296.7" y="493.5"/>
<use href="#r" x="276.4" y="495.2"/>
<use href="#r" x="293.0" y="495.9"/>
<use href="#r" x="294.9" y="498.7"/>
<use href="#r" x="306.8" y="499.0"/>
<use href="#r" x="316.4" y="500.6"/>
<use href="#r" x="314.3" y="501.8"/>
<use href="#r" x="307.6" y="502.7"/>
<use href="#r" x="274.1" y="500.8"/>
<use href="#r" x="276.4" y="502.4"/>
<use href="#r" x="283.4" y="505.3"/>
<use href="#r" x="286.3" y="507.5"/>
<use href="#r" x="313.1" y="507.5"/>
<use href="#r" x="267.3" y="507.9"/>
<use href="#r" x="281.1" y="509.4"/>
<use href="#r" x="264.5" y="512.0"/>
<use href="#r" x="271.6" y="511.5"/>
<use href="#r" x="304.1" y="512.8"/>
<use href="#r" x="284.2" y="514.1"/>
<use href="#r" x="281.4" y="515.6"/>
<use href="#r" x="290.8" y="515.3"/>
<use href="#r" x="260.9" y="514.8"/>
<use href="#r" x="262.2" y="516.1"/>
<use href="#r" x="268.1" y="517.2"/>
<use href="#r" x="269.7" y="518.2"/>
<use href="#r" x="281.1" y="518.2"/>
<use href="#r" x="299.8" y="518.5"/>
<use href="#r" x="264.0" y="521.1"/>
<use href="#r" x="289.9" y="521.3"/>
<use href="#r" x="280.6" y="523.4"/>
<use href="#b" x="292.5" y="464.5"/>
<use href="#b" x="282.5" y="465.5"/>
<use href="#b" x="306.5" y="469.0"/>
<use href="#b" x="272.1" y="470.5"/>
<use href="#b" x="279.0" y="471.6"/>
<use href="#b" x="312.5" y="470.0"/>
<use href="#b" x="311.2" y="472.1"/>
<use href="#b" x="275.9" y="477.6"/>
<use href="#b" x="284.0" y="477.3"/>
<use href="#b" x="300.5" y="478.1"/>
<use href="#b" x="309.1" y="480.7"/>
<use href="#b" x="288.9" y="484.2"/>
<use href="#b" x="305.0" y="484.2"/>
<use href="#b" x="264.5" y="486.1"/>
<use href="#b" x="265.0" y="487.6"/>
<use href="#b" x="270.7" y="489.5"/>
<use href="#b" x="295.9" y="489.2"/>
<use href="#b" x="267.9" y="494.6"/>
<use href="#b" x="305.0" y="494.9"/>
<use href="#b" x="300.1" y="498.8"/>
<use href="#b" x="269.0" y="501.3"/>
<use href="#b" x="289.7" y="501.3"/>
<use href="#b" x="294.6" y="501.8"/>
<use href="#b" x="302.4" y="503.2"/>
<use href="#b" x="268.7" y="505.3"/>
<use href="#b" x="293.6" y="506.8"/>
<use href="#b" x="274.2" y="507.3"/>
<use href="#b" x="317.4" y="508.9"/>
<use href="#b" x="299.6" y="509.1"/>
<use href="#b" x="278.2" y="510.1"/>
<use href="#b" x="286.0" y="512.5"/>
<use href="#b" x="292.5" y="512.5"/>
<use href="#b" x="297.7" y="512.8"/>
<use href="#b" x="270.4" y="513.6"/>
<use href="#b" x="297.0" y="517.7"/>
<use href="#b" x="275.9" y="518.7"/>
<use href="#b" x="309.1" y="519.1"/>
<use href="#b" x="311.2" y="519.3"/>
<use href="#b" x="263.8" y="519.5"/>
<use href="#b" x="303.9" y="521.9"/>
<use href="#b" x="278.5" y="522.4"/>
<use href="#b" x="294.6" y="522.9"/>
<use href="#b" x="272.3" y="523.2"/>
<use href="#b" x="292.0" y="523.9"/>
<use href="#b" x="311.7" y="523.2"/>
<use href="#b" x="317.9" y="523.9"/>
<use href="#b" x="303.9" y="524.7"/>
<use href="#r" x="360.8" y="463.8"/>
<use href="#r" x="370.6" y="466.9"/>
<use href="#r" x="376.6" y="467.9"/>
<use href="#r" x="360.0" y="469.3"/>
<use href="#r" x="373.0" y="470.0"/>
<use href="#r" x="378.7" y="471.0"/>
<use href="#r" x="367.6" y="472.6"/>
<use href="#r" x="384.2" y="472.6"/>
<use href="#r" x="323.9" y="476.0"/>
<use href="#r" x="341.0" y="476.0"/>
<use href="#r" x="363.1" y="475.7"/>
<use href="#r" x="373.0" y="479.1"/>
<use href="#r" x="361.9" y="483.0"/>
<use href="#r" x="375.9" y="484.5"/>
<use href="#r" x="348.1" y="486.4"/>
<use href="#r" x="355.5" y="487.1"/>
<use href="#r" x="333.9" y="488.7"/>
<use href="#r" x="336.5" y="487.1"/>
<use href="#r" x="361.9" y="489.0"/>
<use href="#r" x="356.6" y="491.1"/>
<use href="#r" x="351.0" y="492.6"/>
<use href="#r" x="360.8" y="493.1"/>
<use href="#r" x="372.1" y="491.8"/>
<use href="#r" x="378.1" y="492.3"/>
<use href="#r" x="384.2" y="492.8"/>
<use href="#r" x="377.9" y="494.4"/>
<use href="#r" x="365.2" y="497.3"/>
<use href="#r" x="343.9" y="499.6"/>
<use href="#r" x="335.6" y="501.3"/>
<use href="#r" x="379.2" y="501.1"/>
<use href="#r" x="374.5" y="503.2"/>
<use href="#r" x="386.4" y="502.7"/>
<use href="#r" x="382.6" y="504.9"/>
<use href="#r" x="335.8" y="506.5"/>
<use href="#r" x="372.1" y="506.8"/>
<use href="#r" x="343.9" y="508.4"/>
<use href="#r" x="385.9" y="509.4"/>
<use href="#r" x="337.0" y="510.1"/>
<use href="#r" x="326.0" y="512.5"/>
<use href="#r" x="364.4" y="513.8"/>
<use href="#r" x="371.2" y="513.3"/>
<use href="#r" x="378.7" y="514.1"/>
<use href="#r" x="324.2" y="516.1"/>
<use href="#r" x="329.2" y="516.7"/>
<use href="#r" x="359.5" y="518.5"/>
<use href="#r" x="320.8" y="520.3"/>
<use href="#r" x="376.4" y="521.1"/>
<use href="#r" x="340.1" y="521.9"/>
<use href="#r" x="353.8" y="522.1"/>
<use href="#r" x="337.0" y="523.9"/>
<use href="#r" x="329.7" y="523.9"/>
<use href="#r" x="345.8" y="523.9"/>
<use href="#r" x="385.4" y="523.9"/>
<use href="#r" x="380.2" y="525.0"/>
<use href="#r" x="371.9" y="525.3"/>
<use href="#b" x="379.9" y="462.7"/>
<use href="#b" x="385.2" y="465.1"/>
<use href="#b" x="338.0" y="469.5"/>
<use href="#b" x="379.9" y="469.0"/>
<use href="#b" x="373.7" y="472.6"/>
<use href="#b" x="385.7" y="471.6"/>
<use href="#b" x="385.9" y="475.2"/>
<use href="#b" x="348.1" y="475.7"/>
<use href="#b" x="323.9" y="482.2"/>
<use href="#b" x="357.4" y="483.8"/>
<use href="#b" x="338.5" y="486.1"/>
<use href="#b" x="325.8" y="487.4"/>
<use href="#b" x="346.5" y="491.6"/>
<use href="#b" x="353.8" y="492.3"/>
<use href="#b" x="370.9" y="495.9"/>
<use href="#b" x="385.9" y="497.0"/>
<use href="#b" x="382.8" y="498.3"/>
<use href="#b" x="338.5" y="500.4"/>
<use href="#b" x="365.7" y="500.6"/>
<use href="#b" x="368.8" y="501.3"/>
<use href="#b" x="345.0" y="504.5"/>
<use href="#b" x="342.1" y="505.6"/>
<use href="#b" x="330.7" y="505.6"/>
<use href="#b" x="351.7" y="506.5"/>
<use href="#b" x="328.9" y="507.9"/>
<use href="#b" x="323.2" y="510.4"/>
<use href="#b" x="342.4" y="510.7"/>
<use href="#b" x="371.2" y="508.2"/>
<use href="#b" x="367.8" y="512.0"/>
<use href="#b" x="382.3" y="512.0"/>
<use href="#b" x="329.9" y="514.3"/>
<use href="#b" x="350.5" y="513.9"/>
<use href="#b" x="341.3" y="516.1"/>
<use href="#b" x="345.5" y="516.5"/>
<use href="#b" x="320.6" y="518.5"/>
<use href="#b" x="330.7" y="518.7"/>
<use href="#b" x="380.2" y="519.5"/>
<use href="#b" x="325.1" y="521.1"/>
<use href="#b" x="349.9" y="520.8"/>
<use href="#b" x="326.3" y="525.0"/>
<use href="#r" x="416.4" y="467.4"/>
<use href="#r" x="425.1" y="469.0"/>
<use href="#r" x="441.5" y="468.7"/>
<use href="#r" x="425.9" y="476.5"/>
<use href="#r" x="398.1" y="477.6"/>
<use href="#r" x="405.4" y="478.3"/>
<use href="#r" x="437.5" y="477.3"/>
<use href="#r" x="440.4" y="479.6"/>
<use href="#r" x="431.8" y="479.9"/>
<use href="#r" x="411.4" y="480.9"/>
<use href="#r" x="431.9" y="482.4"/>
<use href="#r" x="412.2" y="485.6"/>
<use href="#r" x="437.0" y="484.8"/>
<use href="#r" x="430.8" y="486.3"/>
<use href="#r" x="409.3" y="492.5"/>
<use href="#r" x="394.0" y="496.2"/>
<use href="#r" x="393.5" y="502.1"/>
<use href="#r" x="430.9" y="503.2"/>
<use href="#r" x="396.9" y="504.7"/>
<use href="#r" x="423.9" y="504.5"/>
<use href="#r" x="393.8" y="504.9"/>
<use href="#r" x="403.6" y="504.7"/>
<use href="#r" x="388.6" y="509.2"/>
<use href="#r" x="407.3" y="509.4"/>
<use href="#r" x="423.9" y="513.6"/>
<use href="#r" x="388.9" y="513.9"/>
<use href="#r" x="399.0" y="515.6"/>
<use href="#r" x="417.1" y="516.5"/>
<use href="#r" x="421.8" y="518.7"/>
<use href="#r" x="390.4" y="518.7"/>
<use href="#r" x="419.5" y="520.8"/>
<use href="#r" x="416.4" y="521.9"/>
<use href="#r" x="437.3" y="521.1"/>
<use href="#r" x="400.5" y="523.4"/>
<use href="#r" x="396.4" y="525.3"/>
<use href="#b" x="399.8" y="465.3"/>
<use href="#b" x="431.9" y="465.5"/>
<use href="#b" x="388.3" y="466.7"/>
<use href="#b" x="435.6" y="469.8"/>
<use href="#b" x="390.5" y="471.6"/>
<use href="#b" x="411.6" y="475.2"/>
<use href="#b" x="423.6" y="475.0"/>
<use href="#b" x="406.4" y="481.9"/>
<use href="#b" x="421.3" y="483.5"/>
<use href="#b" x="416.1" y="484.2"/>
<use href="#b" x="408.6" y="487.3"/>
<use href="#b" x="391.4" y="489.7"/>
<use href="#b" x="441.0" y="491.8"/>
<use href="#b" x="398.4" y="493.0"/>
<use href="#b" x="416.6" y="494.4"/>
<use href="#b" x="413.0" y="493.9"/>
<use href="#b" x="410.9" y="495.9"/>
<use href="#b" x="406.4" y="498.7"/>
<use href="#b" x="412.4" y="499.8"/>
<use href="#b" x="429.0" y="500.3"/>
<use href="#b" x="390.7" y="501.3"/>
<use href="#b" x="402.1" y="504.2"/>
<use href="#b" x="424.9" y="506.8"/>
<use href="#b" x="396.9" y="506.8"/>
<use href="#b" x="428.0" y="509.4"/>
<use href="#b" x="399.5" y="509.9"/>
<use href="#b" x="411.9" y="511.3"/>
<use href="#b" x="394.1" y="511.5"/>
<use href="#b" x="417.1" y="513.0"/>
<use href="#b" x="392.2" y="514.6"/>
<use href="#b" x="442.8" y="515.8"/>
<use href="#b" x="422.3" y="516.1"/>
<use href="#b" x="416.1" y="515.6"/>
<use href="#b" x="411.4" y="518.5"/>
<use href="#b" x="395.3" y="518.7"/>
<use href="#b" x="445.1" y="521.5"/>
<use href="#b" x="406.7" y="522.4"/>
<use href="#b" x="403.6" y="524.4"/>
<use href="#r" x="288.9" y="528.1"/>
<use href="#r" x="294.1" y="528.7"/>
<use href="#r" x="300.3" y="528.4"/>
<use href="#r" x="269.4" y="529.2"/>
<use href="#r" x="291.2" y="534.1"/>
<use href="#r" x="297.2" y="534.1"/>
<use href="#r" x="303.7" y="533.6"/>
<use href="#r" x="264.0" y="535.1"/>
<use href="#r" x="311.2" y="535.6"/>
<use href="#r" x="259.1" y="537.3"/>
<use href="#r" x="314.0" y="547.3"/>
<use href="#r" x="283.4" y="548.9"/>
<use href="#r" x="291.8" y="548.9"/>
<use href="#r" x="265.3" y="552.2"/>
<use href="#r" x="317.9" y="552.8"/>
<use href="#r" x="301.6" y="554.1"/>
<use href="#r" x="284.7" y="555.1"/>
<use href="#r" x="294.4" y="557.5"/>
<use href="#r" x="277.3" y="559.3"/>
<use href="#r" x="270.7" y="561.5"/>
<use href="#r" x="288.4" y="561.9"/>
<use href="#r" x="263.0" y="562.6"/>
<use href="#r" x="313.8" y="563.7"/>
<use href="#r" x="270.2" y="565.8"/>
<use href="#r" x="266.9" y="572.2"/>
<use href="#r" x="274.1" y="571.9"/>
<use href="#r" x="292.0" y="572.2"/>
<use href="#r" x="297.2" y="573.6"/>
<use href="#r" x="302.9" y="573.8"/>
<use href="#r" x="278.5" y="575.3"/>
<use href="#r" x="280.9" y="576.9"/>
<use href="#r" x="300.1" y="578.1"/>
<use href="#r" x="306.0" y="578.4"/>
<use href="#r" x="294.6" y="580.0"/>
<use href="#r" x="303.9" y="580.5"/>
<use href="#r" x="302.4" y="583.3"/>
<use href="#r" x="297.9" y="587.3"/>
<use href="#r" x="274.1" y="589.3"/>
<use href="#r" x="310.5" y="589.5"/>
<use href="#r" x="304.7" y="590.9"/>
<use href="#r" x="273.3" y="591.9"/>
<use href="#r" x="289.7" y="591.9"/>
<use href="#r" x="300.8" y="593.3"/>
<use href="#b" x="284.2" y="525.6"/>
<use href="#b" x="264.5" y="527.3"/>
<use href="#b" x="279.0" y="528.7"/>
<use href="#b" x="281.1" y="528.4"/>
<use href="#b" x="272.3" y="531.8"/>
<use href="#b" x="286.3" y="532.3"/>
<use href="#b" x="308.1" y="530.7"/>
<use href="#b" x="277.3" y="534.4"/>
<use href="#b" x="312.7" y="533.3"/>
<use href="#b" x="271.1" y="537.0"/>
<use href="#b" x="317.9" y="536.4"/>
<use href="#b" x="304.4" y="539.6"/>
<use href="#b" x="261.9" y="541.6"/>
<use href="#b" x="268.1" y="541.6"/>
<use href="#b" x="293.9" y="542.1"/>
<use href="#b" x="316.4" y="542.5"/>
<use href="#b" x="275.2" y="543.5"/>
<use href="#b" x="277.8" y="543.5"/>
<use href="#b" x="258.1" y="544.0"/>
<use href="#b" x="261.9" y="544.7"/>
<use href="#b" x="267.6" y="547.3"/>
<use href="#b" x="270.7" y="547.6"/>
<use href="#b" x="304.4" y="548.7"/>
<use href="#b" x="275.9" y="549.9"/>
<use href="#b" x="279.6" y="549.9"/>
<use href="#b" x="305.5" y="553.3"/>
<use href="#b" x="268.1" y="554.8"/>
<use href="#b" x="262.1" y="557.4"/>
<use href="#b" x="274.1" y="556.7"/>
<use href="#b" x="310.9" y="557.2"/>
<use href="#b" x="317.4" y="557.7"/>
<use href="#b" x="284.0" y="560.1"/>
<use href="#b" x="266.6" y="559.8"/>
<use href="#b" x="317.4" y="563.9"/>
<use href="#b" x="292.0" y="564.8"/>
<use href="#b" x="295.6" y="565.0"/>
<use href="#b" x="301.5" y="566.0"/>
<use href="#b" x="272.8" y="566.5"/>
<use href="#b" x="279.3" y="567.6"/>
<use href="#b" x="262.4" y="568.1"/>
<use href="#b" x="266.1" y="567.6"/>
<use href="#b" x="316.7" y="568.4"/>
<use href="#b" x="291.0" y="569.1"/>
<use href="#b" x="295.3" y="568.9"/>
<use href="#b" x="285.3" y="569.6"/>
<use href="#b" x="281.6" y="570.9"/>
<use href="#b" x="259.9" y="572.2"/>
<use href="#b" x="310.7" y="574.3"/>
<use href="#b" x="291.8" y="575.5"/>
<use href="#b" x="258.1" y="578.2"/>
<use href="#b" x="271.8" y="578.7"/>
<use href="#b" x="264.8" y="580.3"/>
<use href="#b" x="273.9" y="580.8"/>
<use href="#b" x="280.8" y="581.6"/>
<use href="#b" x="311.2" y="581.6"/>
<use href="#b" x="309.1" y="581.3"/>
<use href="#b" x="319.0" y="582.6"/>
<use href="#b" x="273.9" y="583.6"/>
<use href="#b" x="266.6" y="584.7"/>
<use href="#b" x="277.0" y="585.0"/>
<use href="#b" x="291.8" y="585.2"/>
<use href="#b" x="294.6" y="586.0"/>
<use href="#b" x="269.2" y="586.7"/>
<use href="#b" x="300.5" y="587.5"/>
<use href="#b" x="317.4" y="587.8"/>
<use href="#b" x="261.4" y="591.9"/>
<use href="#b" x="283.7" y="591.9"/>
<use href="#b" x="292.0" y="590.9"/>
<use href="#b" x="313.3" y="592.4"/>
<use href="#r" x="325.3" y="528.7"/>
<use href="#r" x="331.3" y="528.9"/>
<use href="#r" x="333.6" y="528.4"/>
<use href="#r" x="343.2" y="529.2"/>
<use href="#r" x="346.2" y="529.7"/>
<use href="#r" x="369.5" y="529.4"/>
<use href="#r" x="384.4" y="530.4"/>
<use href="#r" x="321.6" y="531.5"/>
<use href="#r" x="337.0" y="531.8"/>
<use href="#r" x="374.0" y="532.8"/>
<use href="#r" x="328.4" y="533.5"/>
<use href="#r" x="347.3" y="534.9"/>
<use href="#r" x="322.7" y="534.4"/>
<use href="#r" x="340.6" y="539.0"/>
<use href="#r" x="323.4" y="539.9"/>
<use href="#r" x="377.6" y="541.9"/>
<use href="#r" x="337.7" y="542.7"/>
<use href="#r" x="326.8" y="543.5"/>
<use href="#r" x="340.3" y="543.2"/>
<use href="#r" x="382.0" y="544.2"/>
<use href="#r" x="344.4" y="544.2"/>
<use href="#r" x="384.4" y="547.0"/>
<use href="#r" x="339.8" y="548.9"/>
<use href="#r" x="332.8" y="551.5"/>
<use href="#r" x="345.3" y="552.2"/>
<use href="#r" x="324.7" y="555.6"/>
<use href="#r" x="337.2" y="557.2"/>
<use href="#r" x="383.3" y="557.2"/>
<use href="#r" x="363.4" y="558.2"/>
<use href="#r" x="356.9" y="558.7"/>
<use href="#r" x="331.3" y="559.3"/>
<use href="#r" x="338.0" y="560.0"/>
<use href="#r" x="387.3" y="558.7"/>
<use href="#r" x="370.1" y="561.5"/>
<use href="#r" x="382.3" y="561.9"/>
<use href="#r" x="351.2" y="562.4"/>
<use href="#r" x="336.7" y="563.2"/>
<use href="#r" x="346.0" y="563.7"/>
<use href="#r" x="333.6" y="564.8"/>
<use href="#r" x="352.2" y="566.0"/>
<use href="#r" x="382.3" y="566.5"/>
<use href="#r" x="346.8" y="568.6"/>
<use href="#r" x="371.9" y="570.7"/>
<use href="#r" x="333.3" y="572.2"/>
<use href="#r" x="382.6" y="574.1"/>
<use href="#r" x="343.6" y="575.5"/>
<use href="#r" x="353.8" y="577.9"/>
<use href="#r" x="357.9" y="577.9"/>
<use href="#r" x="366.7" y="581.6"/>
<use href="#r" x="376.1" y="583.3"/>
<use href="#r" x="383.9" y="583.1"/>
<use href="#r" x="376.6" y="586.2"/>
<use href="#r" x="383.3" y="587.3"/>
<use href="#r" x="339.5" y="591.1"/>
<use href="#r" x="362.1" y="593.3"/>
<use href="#b" x="321.1" y="527.6"/>
<use href="#b" x="353.8" y="534.1"/>
<use href="#b" x="336.1" y="534.4"/>
<use href="#b" x="381.8" y="534.1"/>
<use href="#b" x="376.9" y="538.0"/>
<use href="#b" x="321.9" y="538.0"/>
<use href="#b" x="370.6" y="538.7"/>
<use href="#b" x="329.2" y="539.6"/>
<use href="#b" x="335.6" y="539.3"/>
<use href="#b" x="361.3" y="540.3"/>
<use href="#b" x="347.0" y="541.1"/>
<use href="#b" x="319.0" y="542.7"/>
<use href="#b" x="324.4" y="545.3"/>
<use href="#b" x="335.4" y="545.8"/>
<use href="#b" x="330.4" y="547.6"/>
<use href="#b" x="361.9" y="549.9"/>
<use href="#b" x="324.2" y="549.7"/>
<use href="#b" x="326.8" y="549.9"/>
<use href="#b" x="322.1" y="552.2"/>
<use href="#b" x="328.2" y="552.5"/>
<use href="#b" x="335.4" y="552.2"/>
<use href="#b" x="331.5" y="555.1"/>
<use href="#b" x="335.1" y="554.8"/>
<use href="#b" x="340.1" y="554.9"/>
<use href="#b" x="363.9" y="554.8"/>
<use href="#b" x="355.3" y="555.6"/>
<use href="#b" x="357.9" y="555.9"/>
<use href="#b" x="350.7" y="558.2"/>
<use href="#b" x="347.3" y="559.8"/>
<use href="#b" x="378.1" y="559.8"/>
<use href="#b" x="353.3" y="562.6"/>
<use href="#b" x="364.4" y="562.4"/>
<use href="#b" x="322.1" y="564.4"/>
<use href="#b" x="325.3" y="565.8"/>
<use href="#b" x="330.7" y="565.0"/>
<use href="#b" x="385.2" y="566.5"/>
<use href="#b" x="371.9" y="567.6"/>
<use href="#b" x="340.1" y="569.8"/>
<use href="#b" x="378.1" y="570.4"/>
<use href="#b" x="344.2" y="571.9"/>
<use href="#b" x="351.2" y="572.2"/>
<use href="#b" x="368.8" y="574.1"/>
<use href="#b" x="361.9" y="574.8"/>
<use href="#b" x="373.0" y="575.5"/>
<use href="#b" x="326.6" y="576.4"/>
<use href="#b" x="340.8" y="576.9"/>
<use href="#b" x="348.4" y="577.1"/>
<use href="#b" x="371.9" y="578.7"/>
<use href="#b" x="359.5" y="580.3"/>
<use href="#b" x="364.4" y="580.5"/>
<use href="#b" x="321.1" y="581.0"/>
<use href="#b" x="356.9" y="583.6"/>
<use href="#b" x="362.6" y="584.1"/>
<use href="#b" x="335.1" y="584.9"/>
<use href="#b" x="326.6" y="585.2"/>
<use href="#b" x="330.2" y="586.7"/>
<use href="#b" x="343.7" y="588.5"/>
<use href="#b" x="368.1" y="589.3"/>
<use href="#b" x="373.7" y="590.1"/>
<use href="#b" x="358.8" y="590.4"/>
<use href="#b" x="354.3" y="592.4"/>
<use href="#b" x="387.5" y="589.3"/>
<use href="#r" x="411.9" y="528.1"/>
<use href="#r" x="409.3" y="528.4"/>
<use href="#r" x="406.2" y="529.9"/>
<use href="#r" x="425.9" y="531.3"/>
<use href="#r" x="399.5" y="531.1"/>
<use href="#r" x="395.9" y="533.0"/>
<use href="#r" x="403.9" y="534.7"/>
<use href="#r" x="444.1" y="537.3"/>
<use href="#r" x="406.7" y="545.1"/>
<use href="#r" x="426.4" y="553.3"/>
<use href="#r" x="435.8" y="553.9"/>
<use href="#r" x="430.1" y="555.1"/>
<use href="#r" x="435.6" y="556.7"/>
<use href="#r" x="410.1" y="558.0"/>
<use href="#r" x="428.7" y="559.3"/>
<use href="#r" x="442.0" y="559.1"/>
<use href="#r" x="434.7" y="560.5"/>
<use href="#r" x="393.1" y="562.4"/>
<use href="#r" x="395.5" y="563.4"/>
<use href="#r" x="418.7" y="563.9"/>
<use href="#r" x="429.6" y="566.0"/>
<use href="#r" x="432.1" y="566.3"/>
<use href="#r" x="441.0" y="567.6"/>
<use href="#r" x="427.8" y="569.9"/>
<use href="#r" x="393.1" y="570.5"/>
<use href="#r" x="406.7" y="572.5"/>
<use href="#r" x="435.8" y="579.7"/>
<use href="#r" x="427.5" y="579.5"/>
<use href="#r" x="394.6" y="580.8"/>
<use href="#r" x="433.2" y="583.6"/>
<use href="#r" x="439.7" y="583.4"/>
<use href="#r" x="425.9" y="585.2"/>
<use href="#r" x="436.1" y="587.8"/>
<use href="#r" x="395.9" y="589.9"/>
<use href="#r" x="390.7" y="589.9"/>
<use href="#r" x="436.5" y="590.4"/>
<use href="#r" x="400.3" y="592.4"/>
<use href="#r" x="438.9" y="584.7"/>
<use href="#b" x="388.9" y="527.4"/>
<use href="#b" x="429.3" y="527.9"/>
<use href="#b" x="401.0" y="528.7"/>
<use href="#b" x="403.1" y="538.3"/>
<use href="#b" x="425.4" y="538.7"/>
<use href="#b" x="441.7" y="539.0"/>
<use href="#b" x="390.1" y="541.8"/>
<use href="#b" x="412.4" y="541.6"/>
<use href="#b" x="418.7" y="543.4"/>
<use href="#b" x="437.6" y="542.9"/>
<use href="#b" x="425.2" y="543.2"/>
<use href="#b" x="429.3" y="543.0"/>
<use href="#b" x="399.5" y="544.4"/>
<use href="#b" x="426.8" y="546.3"/>
<use href="#b" x="414.0" y="547.6"/>
<use href="#b" x="417.1" y="548.7"/>
<use href="#b" x="410.9" y="549.4"/>
<use href="#b" x="419.0" y="549.9"/>
<use href="#b" x="432.7" y="549.7"/>
<use href="#b" x="392.5" y="550.2"/>
<use href="#b" x="407.8" y="551.2"/>
<use href="#b" x="403.9" y="553.9"/>
<use href="#b" x="416.1" y="554.8"/>
<use href="#b" x="397.4" y="554.8"/>
<use href="#b" x="399.5" y="557.7"/>
<use href="#b" x="411.9" y="559.6"/>
<use href="#b" x="405.2" y="562.4"/>
<use href="#b" x="423.9" y="563.9"/>
<use href="#b" x="434.2" y="563.2"/>
<use href="#b" x="435.6" y="565.5"/>
<use href="#b" x="405.2" y="567.8"/>
<use href="#b" x="434.0" y="568.1"/>
<use href="#b" x="415.9" y="568.6"/>
<use href="#b" x="410.9" y="571.7"/>
<use href="#b" x="430.1" y="573.8"/>
<use href="#b" x="440.2" y="574.8"/>
<use href="#b" x="391.9" y="575.5"/>
<use href="#b" x="430.6" y="580.5"/>
<use href="#b" x="397.7" y="585.5"/>
<use href="#b" x="429.9" y="588.8"/>
<use href="#b" x="388.6" y="589.3"/>
<use href="#b" x="425.9" y="590.7"/>
<use href="#b" x="439.9" y="590.4"/>
<use href="#b" x="431.6" y="593.0"/>
<use href="#b" x="391.7" y="593.3"/>
<use href="#r" x="282.4" y="594.6"/>
<use href="#r" x="309.4" y="596.4"/>
<use href="#r" x="314.8" y="598.0"/>
<use href="#r" x="297.9" y="597.7"/>
<use href="#r" x="308.4" y="599.3"/>
<use href="#r" x="302.9" y="601.3"/>
<use href="#r" x="286.0" y="601.1"/>
<use href="#r" x="266.3" y="602.7"/>
<use href="#r" x="272.3" y="604.4"/>
<use href="#r" x="270.0" y="606.0"/>
<use href="#r" x="278.7" y="605.8"/>
<use href="#r" x="315.9" y="603.9"/>
<use href="#r" x="315.1" y="606.5"/>
<use href="#r" x="292.2" y="607.8"/>
<use href="#r" x="307.9" y="608.6"/>
<use href="#r" x="319.0" y="610.1"/>
<use href="#r" x="290.1" y="611.4"/>
<use href="#r" x="285.6" y="612.0"/>
<use href="#r" x="265.2" y="611.2"/>
<use href="#r" x="309.1" y="612.0"/>
<use href="#r" x="315.9" y="613.8"/>
<use href="#r" x="303.2" y="615.3"/>
<use href="#r" x="311.9" y="615.6"/>
<use href="#r" x="265.9" y="618.1"/>
<use href="#r" x="278.2" y="619.5"/>
<use href="#r" x="278.0" y="622.6"/>
<use href="#r" x="305.3" y="622.1"/>
<use href="#r" x="291.2" y="623.6"/>
<use href="#r" x="270.0" y="625.4"/>
<use href="#r" x="280.6" y="625.9"/>
<use href="#r" x="264.0" y="629.5"/>
<use href="#r" x="318.4" y="631.4"/>
<use href="#r" x="269.0" y="633.2"/>
<use href="#r" x="282.5" y="633.5"/>
<use href="#r" x="263.0" y="635.3"/>
<use href="#r" x="283.2" y="635.0"/>
<use href="#r" x="288.2" y="636.4"/>
<use href="#r" x="313.3" y="636.1"/>
<use href="#r" x="319.3" y="637.6"/>
<use href="#r" x="315.3" y="639.9"/>
<use href="#r" x="297.9" y="648.3"/>
<use href="#r" x="307.9" y="648.3"/>
<use href="#r" x="314.1" y="650.6"/>
<use href="#b" x="269.2" y="596.1"/>
<use href="#b" x="258.6" y="598.5"/>
<use href="#b" x="274.1" y="599.8"/>
<use href="#b" x="293.0" y="601.3"/>
<use href="#b" x="287.9" y="604.2"/>
<use href="#b" x="285.3" y="605.5"/>
<use href="#b" x="310.5" y="603.2"/>
<use href="#b" x="307.3" y="605.3"/>
<use href="#b" x="300.1" y="608.1"/>
<use href="#b" x="264.0" y="608.9"/>
<use href="#b" x="301.1" y="610.5"/>
<use href="#b" x="315.1" y="610.5"/>
<use href="#b" x="280.1" y="613.5"/>
<use href="#b" x="261.1" y="616.2"/>
<use href="#b" x="295.9" y="616.9"/>
<use href="#b" x="272.8" y="617.4"/>
<use href="#b" x="311.2" y="617.2"/>
<use href="#b" x="317.4" y="616.9"/>
<use href="#b" x="306.0" y="618.7"/>
<use href="#b" x="283.5" y="619.5"/>
<use href="#b" x="315.1" y="620.5"/>
<use href="#b" x="287.3" y="621.8"/>
<use href="#b" x="310.5" y="622.6"/>
<use href="#b" x="265.0" y="623.6"/>
<use href="#b" x="263.5" y="625.2"/>
<use href="#b" x="300.5" y="625.7"/>
<use href="#b" x="284.9" y="630.6"/>
<use href="#b" x="292.7" y="631.1"/>
<use href="#b" x="308.8" y="638.7"/>
<use href="#b" x="303.6" y="640.0"/>
<use href="#b" x="315.1" y="644.2"/>
<use href="#b" x="313.6" y="647.0"/>
<use href="#b" x="319.7" y="645.7"/>
<use href="#b" x="319.7" y="651.6"/>
<use href="#b" x="288.9" y="640.3"/>
<use href="#b" x="291.5" y="640.1"/>
<use href="#b" x="294.1" y="640.3"/>
<use href="#r" x="361.9" y="594.6"/>
<use href="#r" x="387.3" y="594.6"/>
<use href="#r" x="334.6" y="605.8"/>
<use href="#r" x="327.9" y="611.0"/>
<use href="#r" x="358.8" y="610.5"/>
<use href="#r" x="360.7" y="612.5"/>
<use href="#r" x="322.9" y="615.0"/>
<use href="#r" x="324.2" y="622.6"/>
<use href="#r" x="362.4" y="625.4"/>
<use href="#r" x="364.7" y="625.4"/>
<use href="#r" x="354.0" y="630.6"/>
<use href="#r" x="324.0" y="631.4"/>
<use href="#r" x="369.9" y="630.7"/>
<use href="#r" x="374.3" y="632.4"/>
<use href="#r" x="350.1" y="635.6"/>
<use href="#r" x="327.3" y="639.2"/>
<use href="#r" x="368.6" y="637.3"/>
<use href="#r" x="375.3" y="639.0"/>
<use href="#r" x="366.7" y="639.7"/>
<use href="#r" x="370.9" y="639.9"/>
<use href="#r" x="326.8" y="643.3"/>
<use href="#r" x="351.7" y="643.5"/>
<use href="#r" x="356.4" y="643.5"/>
<use href="#r" x="324.5" y="645.2"/>
<use href="#r" x="362.9" y="646.2"/>
<use href="#r" x="325.5" y="649.6"/>
<use href="#r" x="347.6" y="649.0"/>
<use href="#b" x="339.8" y="596.4"/>
<use href="#b" x="350.1" y="596.4"/>
<use href="#b" x="355.3" y="597.0"/>
<use href="#b" x="362.4" y="599.5"/>
<use href="#b" x="377.4" y="599.3"/>
<use href="#b" x="352.2" y="602.9"/>
<use href="#b" x="330.4" y="603.9"/>
<use href="#b" x="387.7" y="602.9"/>
<use href="#b" x="323.2" y="606.8"/>
<use href="#b" x="327.3" y="607.6"/>
<use href="#b" x="349.9" y="606.8"/>
<use href="#b" x="378.7" y="607.6"/>
<use href="#b" x="341.0" y="608.8"/>
<use href="#b" x="354.0" y="609.8"/>
<use href="#b" x="385.2" y="610.5"/>
<use href="#b" x="357.4" y="615.9"/>
<use href="#b" x="362.1" y="617.4"/>
<use href="#b" x="362.9" y="620.5"/>
<use href="#b" x="382.0" y="619.5"/>
<use href="#b" x="380.7" y="622.6"/>
<use href="#b" x="345.0" y="623.8"/>
<use href="#b" x="335.1" y="626.7"/>
<use href="#b" x="352.7" y="625.9"/>
<use href="#b" x="357.1" y="625.9"/>
<use href="#b" x="377.1" y="625.7"/>
<use href="#b" x="346.8" y="628.3"/>
<use href="#b" x="370.4" y="628.3"/>
<use href="#b" x="379.0" y="629.3"/>
<use href="#b" x="379.9" y="631.9"/>
<use href="#b" x="385.2" y="631.2"/>
<use href="#b" x="387.7" y="631.9"/>
<use href="#b" x="345.8" y="636.3"/>
<use href="#b" x="371.7" y="636.1"/>
<use href="#b" x="323.4" y="638.4"/>
<use href="#b" x="362.9" y="639.2"/>
<use href="#b" x="387.7" y="642.8"/>
<use href="#b" x="385.4" y="648.5"/>
<use href="#b" x="343.1" y="649.9"/>
<use href="#r" x="426.8" y="597.7"/>
<use href="#r" x="429.0" y="596.7"/>
<use href="#r" x="431.3" y="601.3"/>
<use href="#r" x="438.2" y="602.4"/>
<use href="#r" x="416.4" y="601.9"/>
<use href="#r" x="405.5" y="602.4"/>
<use href="#r" x="398.8" y="603.7"/>
<use href="#r" x="421.8" y="603.4"/>
<use href="#r" x="419.7" y="605.0"/>
<use href="#r" x="427.0" y="604.4"/>
<use href="#r" x="427.3" y="606.5"/>
<use href="#r" x="439.2" y="607.6"/>
<use href="#r" x="391.7" y="608.6"/>
<use href="#r" x="404.1" y="609.6"/>
<use href="#r" x="421.3" y="609.6"/>
<use href="#r" x="417.4" y="611.7"/>
<use href="#r" x="419.7" y="612.7"/>
<use href="#r" x="428.5" y="613.8"/>
<use href="#r" x="405.7" y="615.6"/>
<use href="#r" x="415.3" y="616.1"/>
<use href="#r" x="425.9" y="620.0"/>
<use href="#r" x="419.5" y="621.6"/>
<use href="#r" x="443.9" y="621.3"/>
<use href="#r" x="433.7" y="622.9"/>
<use href="#r" x="416.1" y="625.4"/>
<use href="#r" x="415.6" y="628.3"/>
<use href="#r" x="425.7" y="629.1"/>
<use href="#r" x="422.3" y="630.6"/>
<use href="#r" x="413.5" y="631.2"/>
<use href="#r" x="428.0" y="633.5"/>
<use href="#r" x="408.1" y="634.0"/>
<use href="#r" x="411.1" y="634.7"/>
<use href="#r" x="424.9" y="635.0"/>
<use href="#r" x="403.8" y="636.9"/>
<use href="#r" x="419.2" y="637.4"/>
<use href="#r" x="443.0" y="637.1"/>
<use href="#r" x="410.6" y="639.7"/>
<use href="#r" x="410.1" y="641.8"/>
<use href="#r" x="395.1" y="640.7"/>
<use href="#r" x="425.9" y="642.8"/>
<use href="#r" x="430.6" y="643.1"/>
<use href="#r" x="414.5" y="643.9"/>
<use href="#r" x="396.9" y="648.0"/>
<use href="#r" x="401.2" y="647.3"/>
<use href="#r" x="407.5" y="646.7"/>
<use href="#r" x="410.7" y="649.0"/>
<use href="#r" x="441.8" y="648.7"/>
<use href="#r" x="418.1" y="650.6"/>
<use href="#r" x="423.9" y="652.5"/>
<use href="#b" x="392.7" y="595.6"/>
<use href="#b" x="434.7" y="598.2"/>
<use href="#b" x="400.3" y="598.5"/>
<use href="#b" x="411.2" y="600.5"/>
<use href="#b" x="390.7" y="601.6"/>
<use href="#b" x="393.6" y="602.7"/>
<use href="#b" x="388.6" y="602.9"/>
<use href="#b" x="413.0" y="606.8"/>
<use href="#b" x="415.3" y="609.1"/>
<use href="#b" x="413.3" y="613.6"/>
<use href="#b" x="397.2" y="614.1"/>
<use href="#b" x="445.9" y="615.1"/>
<use href="#b" x="427.8" y="616.4"/>
<use href="#b" x="420.9" y="617.2"/>
<use href="#b" x="436.1" y="617.2"/>
<use href="#b" x="440.4" y="620.0"/>
<use href="#b" x="406.5" y="622.6"/>
<use href="#b" x="413.3" y="622.6"/>
<use href="#b" x="410.2" y="625.7"/>
<use href="#b" x="392.7" y="628.0"/>
<use href="#b" x="407.8" y="629.3"/>
<use href="#b" x="432.4" y="630.4"/>
<use href="#b" x="392.7" y="630.9"/>
<use href="#b" x="419.7" y="634.5"/>
<use href="#b" x="417.1" y="634.7"/>
<use href="#b" x="395.9" y="635.0"/>
<use href="#b" x="437.3" y="635.0"/>
<use href="#b" x="414.0" y="637.3"/>
<use href="#b" x="396.7" y="640.0"/>
<use href="#b" x="421.8" y="640.2"/>
<use href="#b" x="389.1" y="642.3"/>
<use href="#b" x="405.2" y="642.3"/>
<use href="#b" x="422.3" y="642.5"/>
<use href="#b" x="416.6" y="642.8"/>
<use href="#b" x="400.5" y="643.1"/>
<use href="#b" x="443.0" y="643.9"/>
<use href="#b" x="389.1" y="644.9"/>
<use href="#b" x="405.2" y="650.1"/>
<use href="#b" x="389.9" y="651.8"/>
<rect x="251.5" y="641" width="43.5" height="16" fill="#fff"/>
<rect x="254.3" y="642.8" width="39.2" height="3.2" fill="#000"/>
<text x="253.8" y="654.9" font-family='"Liberation Sans", Arial, Helvetica, sans-serif' font-size="10.2" fill="#000">20 Å</text>
<rect x="251.5" y="458.5" width="199.0" height="199.0" fill="none" stroke="#3a3a3a" stroke-width="1"/>
<text x="351.0" y="452.8" text-anchor="middle" font-family='"Liberation Sans", Arial, Helvetica, sans-serif' font-size="20" fill="#111">P2</text>
</g>
<g>
<use href="#r" x="477.9" y="475.0"/>
<use href="#r" x="511.6" y="464.9"/>
<use href="#r" x="512.8" y="469.1"/>
<use href="#r" x="511.0" y="476.0"/>
<use href="#r" x="511.6" y="478.6"/>
<use href="#r" x="484.8" y="484.0"/>
<use href="#r" x="497.0" y="484.2"/>
<use href="#r" x="525.9" y="486.8"/>
<use href="#r" x="521.3" y="489.6"/>
<use href="#r" x="531.8" y="488.0"/>
<use href="#r" x="537.7" y="490.2"/>
<use href="#r" x="548.0" y="475.7"/>
<use href="#r" x="552.1" y="479.4"/>
<use href="#r" x="547.5" y="481.4"/>
<use href="#r" x="557.8" y="490.7"/>
<use href="#r" x="561.8" y="481.9"/>
<use href="#r" x="564.9" y="487.6"/>
<use href="#r" x="564.5" y="471.4"/>
<use href="#r" x="564.9" y="475.3"/>
<use href="#r" x="522.9" y="497.9"/>
<use href="#r" x="480.8" y="503.0"/>
<use href="#r" x="527.0" y="510.2"/>
<use href="#r" x="485.1" y="512.7"/>
<use href="#r" x="499.0" y="515.6"/>
<use href="#r" x="485.4" y="518.9"/>
<use href="#r" x="537.5" y="515.3"/>
<use href="#r" x="536.4" y="521.0"/>
<use href="#r" x="505.9" y="522.3"/>
<use href="#r" x="482.0" y="523.8"/>
<use href="#r" x="486.7" y="524.9"/>
<use href="#r" x="537.0" y="527.2"/>
<use href="#r" x="521.3" y="528.1"/>
<use href="#r" x="514.4" y="528.1"/>
<use href="#r" x="557.2" y="528.1"/>
<use href="#r" x="502.4" y="532.7"/>
<use href="#r" x="529.0" y="534.9"/>
<use href="#r" x="564.0" y="536.1"/>
<use href="#r" x="517.5" y="539.5"/>
<use href="#r" x="540.3" y="547.7"/>
<use href="#r" x="539.8" y="552.3"/>
<use href="#r" x="487.9" y="553.1"/>
<use href="#r" x="552.1" y="556.1"/>
<use href="#r" x="489.7" y="558.9"/>
<use href="#r" x="522.1" y="559.2"/>
<use href="#b" x="562.9" y="462.9"/>
<use href="#b" x="559.5" y="467.1"/>
<use href="#b" x="511.3" y="471.7"/>
<use href="#b" x="499.7" y="475.3"/>
<use href="#b" x="521.8" y="474.2"/>
<use href="#b" x="559.8" y="475.3"/>
<use href="#b" x="536.0" y="482.2"/>
<use href="#b" x="539.5" y="482.5"/>
<use href="#b" x="545.7" y="482.2"/>
<use href="#b" x="492.4" y="489.6"/>
<use href="#b" x="484.6" y="492.2"/>
<use href="#b" x="487.9" y="491.9"/>
<use href="#b" x="480.0" y="497.6"/>
<use href="#b" x="487.4" y="501.0"/>
<use href="#b" x="544.4" y="498.4"/>
<use href="#b" x="532.9" y="501.8"/>
<use href="#b" x="560.9" y="505.6"/>
<use href="#b" x="564.9" y="508.4"/>
<use href="#b" x="489.7" y="513.0"/>
<use href="#b" x="504.4" y="515.3"/>
<use href="#b" x="529.3" y="514.2"/>
<use href="#b" x="531.3" y="515.8"/>
<use href="#b" x="561.8" y="518.1"/>
<use href="#b" x="475.9" y="522.6"/>
<use href="#b" x="488.5" y="522.6"/>
<use href="#b" x="530.3" y="523.5"/>
<use href="#b" x="540.6" y="523.8"/>
<use href="#b" x="475.1" y="527.6"/>
<use href="#b" x="515.6" y="528.0"/>
<use href="#b" x="527.5" y="527.6"/>
<use href="#b" x="522.9" y="530.7"/>
<use href="#b" x="481.0" y="531.2"/>
<use href="#b" x="535.2" y="532.3"/>
<use href="#b" x="564.9" y="530.0"/>
<use href="#b" x="471.2" y="533.5"/>
<use href="#b" x="475.6" y="533.0"/>
<use href="#b" x="500.8" y="532.7"/>
<use href="#b" x="505.4" y="532.7"/>
<use href="#b" x="512.1" y="543.8"/>
<use href="#b" x="522.4" y="542.3"/>
<use href="#b" x="483.6" y="546.9"/>
<use href="#b" x="499.0" y="548.9"/>
<use href="#b" x="518.7" y="550.0"/>
<use href="#b" x="549.8" y="550.0"/>
<use href="#b" x="557.5" y="546.4"/>
<use href="#b" x="499.7" y="553.8"/>
<use href="#b" x="484.0" y="556.9"/>
<use href="#b" x="561.4" y="555.8"/>
<use href="#b" x="550.1" y="558.5"/>
<use href="#r" x="575.1" y="474.2"/>
<use href="#r" x="589.4" y="473.3"/>
<use href="#r" x="596.4" y="480.2"/>
<use href="#r" x="572.0" y="485.6"/>
<use href="#r" x="568.9" y="491.7"/>
<use href="#r" x="581.6" y="491.7"/>
<use href="#r" x="605.9" y="486.0"/>
<use href="#r" x="638.0" y="481.0"/>
<use href="#r" x="647.2" y="484.8"/>
<use href="#r" x="634.0" y="489.4"/>
<use href="#r" x="627.5" y="491.7"/>
<use href="#r" x="610.5" y="493.0"/>
<use href="#r" x="605.6" y="497.9"/>
<use href="#r" x="655.2" y="497.6"/>
<use href="#r" x="615.6" y="501.9"/>
<use href="#r" x="621.8" y="504.5"/>
<use href="#r" x="638.3" y="501.9"/>
<use href="#r" x="647.5" y="501.9"/>
<use href="#r" x="576.2" y="509.5"/>
<use href="#r" x="580.0" y="509.9"/>
<use href="#r" x="618.7" y="514.5"/>
<use href="#r" x="575.6" y="516.1"/>
<use href="#r" x="580.5" y="515.8"/>
<use href="#r" x="654.4" y="514.9"/>
<use href="#r" x="641.8" y="516.9"/>
<use href="#r" x="575.6" y="522.3"/>
<use href="#r" x="597.7" y="525.3"/>
<use href="#r" x="615.6" y="526.4"/>
<use href="#r" x="641.8" y="525.6"/>
<use href="#r" x="644.0" y="530.7"/>
<use href="#r" x="609.3" y="531.5"/>
<use href="#r" x="637.5" y="533.3"/>
<use href="#r" x="601.8" y="535.0"/>
<use href="#r" x="626.2" y="535.7"/>
<use href="#r" x="632.6" y="543.8"/>
<use href="#r" x="573.1" y="547.2"/>
<use href="#r" x="570.9" y="551.5"/>
<use href="#r" x="596.2" y="555.4"/>
<use href="#r" x="651.4" y="557.2"/>
<use href="#b" x="659.4" y="463.4"/>
<use href="#b" x="567.1" y="467.1"/>
<use href="#b" x="576.9" y="471.4"/>
<use href="#b" x="603.9" y="469.1"/>
<use href="#b" x="575.1" y="480.7"/>
<use href="#b" x="610.5" y="479.4"/>
<use href="#b" x="620.5" y="486.8"/>
<use href="#b" x="614.8" y="488.8"/>
<use href="#b" x="613.9" y="493.0"/>
<use href="#b" x="593.6" y="501.0"/>
<use href="#b" x="573.6" y="501.9"/>
<use href="#b" x="578.2" y="501.9"/>
<use href="#b" x="630.3" y="499.9"/>
<use href="#b" x="630.6" y="504.5"/>
<use href="#b" x="583.1" y="508.7"/>
<use href="#b" x="574.3" y="513.8"/>
<use href="#b" x="579.7" y="514.2"/>
<use href="#b" x="587.4" y="514.2"/>
<use href="#b" x="590.2" y="513.5"/>
<use href="#b" x="585.9" y="517.9"/>
<use href="#b" x="642.4" y="514.2"/>
<use href="#b" x="605.9" y="519.2"/>
<use href="#b" x="568.9" y="520.4"/>
<use href="#b" x="579.3" y="520.7"/>
<use href="#b" x="612.1" y="523.0"/>
<use href="#b" x="646.0" y="520.2"/>
<use href="#b" x="648.7" y="525.0"/>
<use href="#b" x="616.7" y="526.1"/>
<use href="#b" x="578.9" y="526.9"/>
<use href="#b" x="579.7" y="530.0"/>
<use href="#b" x="580.2" y="532.3"/>
<use href="#b" x="607.1" y="536.4"/>
<use href="#b" x="581.7" y="546.6"/>
<use href="#b" x="607.8" y="548.0"/>
<use href="#b" x="640.9" y="550.0"/>
<use href="#b" x="613.6" y="553.8"/>
<use href="#b" x="638.6" y="556.5"/>
<use href="#b" x="568.2" y="558.5"/>
<use href="#r" x="495.9" y="564.9"/>
<use href="#r" x="527.0" y="563.4"/>
<use href="#r" x="562.1" y="568.0"/>
<use href="#r" x="543.7" y="570.9"/>
<use href="#r" x="541.0" y="574.5"/>
<use href="#r" x="549.5" y="577.1"/>
<use href="#r" x="544.1" y="579.4"/>
<use href="#r" x="494.7" y="577.1"/>
<use href="#r" x="561.4" y="583.3"/>
<use href="#r" x="508.7" y="585.0"/>
<use href="#r" x="484.6" y="587.9"/>
<use href="#r" x="513.3" y="588.4"/>
<use href="#r" x="554.8" y="590.2"/>
<use href="#r" x="470.9" y="591.7"/>
<use href="#r" x="502.8" y="592.2"/>
<use href="#r" x="489.3" y="594.5"/>
<use href="#r" x="513.3" y="593.7"/>
<use href="#r" x="499.7" y="597.3"/>
<use href="#r" x="470.0" y="603.0"/>
<use href="#r" x="477.4" y="602.5"/>
<use href="#r" x="527.9" y="605.8"/>
<use href="#r" x="536.3" y="605.6"/>
<use href="#r" x="514.8" y="608.4"/>
<use href="#r" x="493.9" y="612.7"/>
<use href="#r" x="509.8" y="613.0"/>
<use href="#r" x="497.7" y="616.1"/>
<use href="#r" x="523.6" y="614.1"/>
<use href="#r" x="561.1" y="614.2"/>
<use href="#r" x="565.5" y="612.7"/>
<use href="#r" x="474.6" y="617.6"/>
<use href="#r" x="505.6" y="618.1"/>
<use href="#r" x="485.1" y="626.9"/>
<use href="#r" x="488.2" y="625.8"/>
<use href="#r" x="495.1" y="627.6"/>
<use href="#r" x="499.4" y="629.5"/>
<use href="#r" x="529.3" y="627.2"/>
<use href="#r" x="526.7" y="632.0"/>
<use href="#r" x="556.0" y="636.6"/>
<use href="#r" x="546.4" y="640.4"/>
<use href="#r" x="553.2" y="642.3"/>
<use href="#r" x="525.2" y="643.4"/>
<use href="#r" x="535.6" y="652.0"/>
<use href="#b" x="482.0" y="564.0"/>
<use href="#b" x="481.6" y="570.2"/>
<use href="#b" x="538.0" y="564.0"/>
<use href="#b" x="556.8" y="564.0"/>
<use href="#b" x="506.4" y="572.6"/>
<use href="#b" x="548.7" y="573.3"/>
<use href="#b" x="562.6" y="574.8"/>
<use href="#b" x="546.4" y="583.0"/>
<use href="#b" x="490.8" y="585.3"/>
<use href="#b" x="471.6" y="587.1"/>
<use href="#b" x="537.2" y="587.9"/>
<use href="#b" x="468.5" y="597.1"/>
<use href="#b" x="546.0" y="599.9"/>
<use href="#b" x="499.7" y="601.8"/>
<use href="#b" x="494.8" y="602.2"/>
<use href="#b" x="499.0" y="607.2"/>
<use href="#b" x="506.2" y="607.2"/>
<use href="#b" x="486.7" y="610.4"/>
<use href="#b" x="512.8" y="613.5"/>
<use href="#b" x="519.5" y="611.9"/>
<use href="#b" x="532.1" y="615.8"/>
<use href="#b" x="515.2" y="619.6"/>
<use href="#b" x="497.7" y="621.2"/>
<use href="#b" x="495.1" y="623.5"/>
<use href="#b" x="490.8" y="626.9"/>
<use href="#b" x="522.4" y="627.3"/>
<use href="#b" x="495.1" y="631.5"/>
<use href="#b" x="492.8" y="632.3"/>
<use href="#b" x="484.8" y="635.3"/>
<use href="#b" x="507.1" y="637.7"/>
<use href="#b" x="551.8" y="635.8"/>
<use href="#b" x="530.9" y="644.6"/>
<use href="#b" x="532.9" y="646.9"/>
<use href="#b" x="544.7" y="649.7"/>
<use href="#r" x="588.5" y="562.2"/>
<use href="#r" x="612.1" y="562.2"/>
<use href="#r" x="605.6" y="564.8"/>
<use href="#r" x="625.2" y="571.1"/>
<use href="#r" x="597.1" y="572.9"/>
<use href="#r" x="615.2" y="574.2"/>
<use href="#r" x="590.8" y="576.3"/>
<use href="#r" x="632.9" y="576.0"/>
<use href="#r" x="628.7" y="579.9"/>
<use href="#r" x="622.6" y="581.9"/>
<use href="#r" x="648.3" y="581.4"/>
<use href="#r" x="611.3" y="584.2"/>
<use href="#r" x="619.0" y="586.0"/>
<use href="#r" x="627.2" y="586.4"/>
<use href="#r" x="639.0" y="593.3"/>
<use href="#r" x="578.2" y="597.3"/>
<use href="#r" x="599.7" y="598.4"/>
<use href="#r" x="632.6" y="600.2"/>
<use href="#r" x="567.9" y="601.0"/>
<use href="#r" x="639.8" y="601.8"/>
<use href="#r" x="632.9" y="602.5"/>
<use href="#r" x="654.1" y="602.5"/>
<use href="#r" x="567.4" y="604.2"/>
<use href="#r" x="585.1" y="605.3"/>
<use href="#r" x="574.3" y="606.1"/>
<use href="#r" x="571.6" y="608.4"/>
<use href="#r" x="628.3" y="609.2"/>
<use href="#r" x="652.9" y="609.5"/>
<use href="#r" x="612.4" y="622.6"/>
<use href="#r" x="603.6" y="624.1"/>
<use href="#r" x="625.9" y="626.4"/>
<use href="#r" x="657.8" y="628.1"/>
<use href="#r" x="646.7" y="626.9"/>
<use href="#r" x="640.9" y="629.6"/>
<use href="#r" x="570.8" y="631.0"/>
<use href="#r" x="602.8" y="632.6"/>
<use href="#r" x="615.5" y="633.0"/>
<use href="#r" x="623.2" y="632.6"/>
<use href="#r" x="625.2" y="633.8"/>
<use href="#r" x="652.1" y="633.5"/>
<use href="#r" x="652.6" y="635.8"/>
<use href="#r" x="609.8" y="636.1"/>
<use href="#r" x="599.4" y="638.4"/>
<use href="#r" x="647.8" y="638.4"/>
<use href="#r" x="578.2" y="639.7"/>
<use href="#r" x="578.5" y="642.0"/>
<use href="#r" x="595.1" y="642.7"/>
<use href="#r" x="632.9" y="644.6"/>
<use href="#r" x="587.4" y="646.1"/>
<use href="#r" x="647.8" y="649.5"/>
<use href="#b" x="571.6" y="565.6"/>
<use href="#b" x="622.1" y="563.4"/>
<use href="#b" x="644.1" y="571.7"/>
<use href="#b" x="617.5" y="572.9"/>
<use href="#b" x="603.1" y="575.6"/>
<use href="#b" x="638.6" y="576.0"/>
<use href="#b" x="649.5" y="577.1"/>
<use href="#b" x="585.6" y="579.9"/>
<use href="#b" x="593.9" y="578.3"/>
<use href="#b" x="609.3" y="582.2"/>
<use href="#b" x="597.1" y="593.4"/>
<use href="#b" x="600.2" y="594.2"/>
<use href="#b" x="583.6" y="594.5"/>
<use href="#b" x="627.9" y="595.6"/>
<use href="#b" x="572.3" y="596.8"/>
<use href="#b" x="594.0" y="600.7"/>
<use href="#b" x="616.2" y="602.2"/>
<use href="#b" x="590.8" y="606.8"/>
<use href="#b" x="600.8" y="605.8"/>
<use href="#b" x="609.0" y="607.9"/>
<use href="#b" x="605.9" y="609.9"/>
<use href="#b" x="633.6" y="607.3"/>
<use href="#b" x="638.7" y="605.6"/>
<use href="#b" x="639.5" y="608.4"/>
<use href="#b" x="570.0" y="611.0"/>
<use href="#b" x="622.9" y="616.1"/>
<use href="#b" x="629.5" y="615.8"/>
<use href="#b" x="583.6" y="617.3"/>
<use href="#b" x="594.8" y="621.9"/>
<use href="#b" x="649.1" y="629.2"/>
<use href="#b" x="610.2" y="637.7"/>
<use href="#b" x="630.9" y="637.7"/>
<use href="#b" x="602.8" y="640.4"/>
<use href="#b" x="604.8" y="641.5"/>
<use href="#b" x="637.8" y="641.2"/>
<use href="#b" x="635.2" y="648.8"/>
<rect x="464.5" y="641" width="43.5" height="16" fill="#fff"/>
<rect x="467.3" y="642.8" width="39.2" height="3.2" fill="#000"/>
<text x="466.8" y="654.9" font-family='"Liberation Sans", Arial, Helvetica, sans-serif' font-size="10.2" fill="#000">20 Å</text>
<rect x="464.5" y="458.5" width="199.0" height="199.0" fill="none" stroke="#3a3a3a" stroke-width="1"/>
<text x="563.5" y="452.8" text-anchor="middle" font-family='"Liberation Sans", Arial, Helvetica, sans-serif' font-size="20" fill="#111">P3</text>
</g>
<g>
<rect x="48.10" y="672.40" width="192.60" height="165.20" fill="none" stroke="#8a8a8a" stroke-width="1"/>
<path d="M48.10 837.60 v-4.00 M48.10 672.40 v4.00 M54.98 837.60 v-2.20 M54.98 672.40 v2.20 M61.86 837.60 v-2.20 M61.86 672.40 v2.20 M68.74 837.60 v-2.20 M68.74 672.40 v2.20 M75.61 837.60 v-4.00 M75.61 672.40 v4.00 M82.49 837.60 v-2.20 M82.49 672.40 v2.20 M89.37 837.60 v-2.20 M89.37 672.40 v2.20 M96.25 837.60 v-2.20 M96.25 672.40 v2.20 M103.13 837.60 v-4.00 M103.13 672.40 v4.00 M110.01 837.60 v-2.20 M110.01 672.40 v2.20 M116.89 837.60 v-2.20 M116.89 672.40 v2.20 M123.76 837.60 v-2.20 M123.76 672.40 v2.20 M130.64 837.60 v-4.00 M130.64 672.40 v4.00 M137.52 837.60 v-2.20 M137.52 672.40 v2.20 M144.40 837.60 v-2.20 M144.40 672.40 v2.20 M151.28 837.60 v-2.20 M151.28 672.40 v2.20 M158.16 837.60 v-4.00 M158.16 672.40 v4.00 M165.04 837.60 v-2.20 M165.04 672.40 v2.20 M171.91 837.60 v-2.20 M171.91 672.40 v2.20 M178.79 837.60 v-2.20 M178.79 672.40 v2.20 M185.67 837.60 v-4.00 M185.67 672.40 v4.00 M192.55 837.60 v-2.20 M192.55 672.40 v2.20 M199.43 837.60 v-2.20 M199.43 672.40 v2.20 M206.31 837.60 v-2.20 M206.31 672.40 v2.20 M213.19 837.60 v-4.00 M213.19 672.40 v4.00 M220.06 837.60 v-2.20 M220.06 672.40 v2.20 M226.94 837.60 v-2.20 M226.94 672.40 v2.20 M233.82 837.60 v-2.20 M233.82 672.40 v2.20 M240.70 837.60 v-4.00 M240.70 672.40 v4.00 M48.10 837.60 h4.00 M240.70 837.60 h-4.00 M48.10 832.09 h2.20 M240.70 832.09 h-2.20 M48.10 826.59 h2.20 M240.70 826.59 h-2.20 M48.10 821.08 h2.20 M240.70 821.08 h-2.20 M48.10 815.57 h2.20 M240.70 815.57 h-2.20 M48.10 810.07 h4.00 M240.70 810.07 h-4.00 M48.10 804.56 h2.20 M240.70 804.56 h-2.20 M48.10 799.05 h2.20 M240.70 799.05 h-2.20 M48.10 793.55 h2.20 M240.70 793.55 h-2.20 M48.10 788.04 h2.20 M240.70 788.04 h-2.20 M48.10 782.53 h4.00 M240.70 782.53 h-4.00 M48.10 777.03 h2.20 M240.70 777.03 h-2.20 M48.10 771.52 h2.20 M240.70 771.52 h-2.20 M48.10 766.01 h2.20 M240.70 766.01 h-2.20 M48.10 760.51 h2.20 M240.70 760.51 h-2.20 M48.10 755.00 h4.00 M240.70 755.00 h-4.00 M48.10 749.49 h2.20 M240.70 749.49 h-2.20 M48.10 743.99 h2.20 M240.70 743.99 h-2.20 M48.10 738.48 h2.20 M240.70 738.48 h-2.20 M48.10 732.97 h2.20 M240.70 732.97 h-2.20 M48.10 727.47 h4.00 M240.70 727.47 h-4.00 M48.10 721.96 h2.20 M240.70 721.96 h-2.20 M48.10 716.45 h2.20 M240.70 716.45 h-2.20 M48.10 710.95 h2.20 M240.70 710.95 h-2.20 M48.10 705.44 h2.20 M240.70 705.44 h-2.20 M48.10 699.93 h4.00 M240.70 699.93 h-4.00 M48.10 694.43 h2.20 M240.70 694.43 h-2.20 M48.10 688.92 h2.20 M240.70 688.92 h-2.20 M48.10 683.41 h2.20 M240.70 683.41 h-2.20 M48.10 677.91 h2.20 M240.70 677.91 h-2.20 M48.10 672.40 h4.00 M240.70 672.40 h-4.00" stroke="#8a8a8a" stroke-width="0.8" fill="none"/>
<path d="M48.10 837.60 L49.48 837.60 L50.85 837.60 L52.23 837.60 L53.60 837.60 L54.98 837.60 L56.35 837.60 L57.73 837.60 L59.11 837.60 L60.48 837.60 L61.86 837.60 L63.23 837.60 L64.61 837.60 L65.98 837.60 L67.36 837.60 L68.74 837.60 L70.11 837.60 L71.49 837.60 L72.86 837.60 L74.24 837.60 L75.61 837.60 L76.99 837.60 L78.37 837.60 L79.74 837.60 L81.12 837.60 L82.49 837.60 L83.87 837.60 L85.24 837.60 L86.62 837.60 L88.00 837.12 L89.37 832.78 L90.75 821.10 L92.12 800.64 L93.50 770.37 L94.87 742.02 L96.25 723.25 L97.63 716.30 L99.00 718.24 L100.38 725.02 L101.75 733.40 L103.13 742.58 L104.50 752.26 L105.88 760.61 L107.26 767.63 L108.63 773.72 L110.01 779.05 L111.38 783.26 L112.76 786.66 L114.13 789.28 L115.51 791.49 L116.89 793.00 L118.26 793.97 L119.64 794.80 L121.01 795.37 L122.39 795.58 L123.76 795.29 L125.14 794.54 L126.52 793.53 L127.89 792.45 L129.27 791.16 L130.64 789.52 L132.02 787.69 L133.39 785.86 L134.77 784.19 L136.15 782.58 L137.52 780.91 L138.90 779.34 L140.27 778.00 L141.65 777.03 L143.02 776.30 L144.40 775.65 L145.78 775.19 L147.15 775.05 L148.53 775.26 L149.90 775.75 L151.28 776.38 L152.65 777.03 L154.03 777.79 L155.41 778.75 L156.78 779.81 L158.16 780.87 L159.53 781.81 L160.91 782.53 L162.28 783.12 L163.66 783.70 L165.04 784.26 L166.41 784.77 L167.79 785.20 L169.16 785.54 L170.54 785.76 L171.91 785.84 L173.29 785.76 L174.67 785.56 L176.04 785.26 L177.42 784.89 L178.79 784.49 L180.17 784.07 L181.54 783.69 L182.92 783.36 L184.30 783.04 L185.67 782.69 L187.05 782.33 L188.42 781.97 L189.80 781.63 L191.17 781.33 L192.55 781.09 L193.93 780.94 L195.30 780.88 L196.68 780.93 L198.05 781.07 L199.43 781.27 L200.80 781.52 L202.18 781.80 L203.56 782.07 L204.93 782.32 L206.31 782.53 L207.68 782.73 L209.06 782.95 L210.43 783.17 L211.81 783.38 L213.19 783.57 L214.56 783.72 L215.94 783.82 L217.31 783.85 L218.69 783.83 L220.06 783.76 L221.44 783.66 L222.82 783.53 L224.19 783.38 L225.57 783.23 L226.94 783.07 L228.32 782.93 L229.69 782.81 L231.07 782.70 L232.45 782.59 L233.82 782.49 L235.20 782.38 L236.57 782.28 L237.95 782.18 L239.32 782.08 L240.70 781.98" fill="none" stroke="#3545c8" stroke-width="0.6"/>
<path d="M48.10 837.60h0.01 M49.48 837.60h0.01 M50.85 837.60h0.01 M52.23 837.60h0.01 M53.60 837.60h0.01 M54.98 837.60h0.01 M56.35 837.60h0.01 M57.73 837.60h0.01 M59.11 837.60h0.01 M60.48 837.60h0.01 M61.86 837.60h0.01 M63.23 837.60h0.01 M64.61 837.60h0.01 M65.98 837.60h0.01 M67.36 837.60h0.01 M68.74 837.60h0.01 M70.11 837.60h0.01 M71.49 837.60h0.01 M72.86 837.60h0.01 M74.24 837.60h0.01 M75.61 837.60h0.01 M76.99 837.60h0.01 M78.37 837.60h0.01 M79.74 837.60h0.01 M81.12 837.60h0.01 M82.49 837.60h0.01 M83.87 837.60h0.01 M85.24 837.60h0.01 M86.62 837.60h0.01 M88.00 837.12h0.01 M89.37 832.78h0.01 M90.75 821.10h0.01 M92.12 800.64h0.01 M93.50 770.37h0.01 M94.87 742.02h0.01 M96.25 723.25h0.01 M97.63 716.30h0.01 M99.00 718.24h0.01 M100.38 725.02h0.01 M101.75 733.40h0.01 M103.13 742.58h0.01 M104.50 752.26h0.01 M105.88 760.61h0.01 M107.26 767.63h0.01 M108.63 773.72h0.01 M110.01 779.05h0.01 M111.38 783.26h0.01 M112.76 786.66h0.01 M114.13 789.28h0.01 M115.51 791.49h0.01 M116.89 793.00h0.01 M118.26 793.97h0.01 M119.64 794.80h0.01 M121.01 795.37h0.01 M122.39 795.58h0.01 M123.76 795.29h0.01 M125.14 794.54h0.01 M126.52 793.53h0.01 M127.89 792.45h0.01 M129.27 791.16h0.01 M130.64 789.52h0.01 M132.02 787.69h0.01 M133.39 785.86h0.01 M134.77 784.19h0.01 M136.15 782.58h0.01 M137.52 780.91h0.01 M138.90 779.34h0.01 M140.27 778.00h0.01 M141.65 777.03h0.01 M143.02 776.30h0.01 M144.40 775.65h0.01 M145.78 775.19h0.01 M147.15 775.05h0.01 M148.53 775.26h0.01 M149.90 775.75h0.01 M151.28 776.38h0.01 M152.65 777.03h0.01 M154.03 777.79h0.01 M155.41 778.75h0.01 M156.78 779.81h0.01 M158.16 780.87h0.01 M159.53 781.81h0.01 M160.91 782.53h0.01 M162.28 783.12h0.01 M163.66 783.70h0.01 M165.04 784.26h0.01 M166.41 784.77h0.01 M167.79 785.20h0.01 M169.16 785.54h0.01 M170.54 785.76h0.01 M171.91 785.84h0.01 M173.29 785.76h0.01 M174.67 785.56h0.01 M176.04 785.26h0.01 M177.42 784.89h0.01 M178.79 784.49h0.01 M180.17 784.07h0.01 M181.54 783.69h0.01 M182.92 783.36h0.01 M184.30 783.04h0.01 M185.67 782.69h0.01 M187.05 782.33h0.01 M188.42 781.97h0.01 M189.80 781.63h0.01 M191.17 781.33h0.01 M192.55 781.09h0.01 M193.93 780.94h0.01 M195.30 780.88h0.01 M196.68 780.93h0.01 M198.05 781.07h0.01 M199.43 781.27h0.01 M200.80 781.52h0.01 M202.18 781.80h0.01 M203.56 782.07h0.01 M204.93 782.32h0.01 M206.31 782.53h0.01 M207.68 782.73h0.01 M209.06 782.95h0.01 M210.43 783.17h0.01 M211.81 783.38h0.01 M213.19 783.57h0.01 M214.56 783.72h0.01 M215.94 783.82h0.01 M217.31 783.85h0.01 M218.69 783.83h0.01 M220.06 783.76h0.01 M221.44 783.66h0.01 M222.82 783.53h0.01 M224.19 783.38h0.01 M225.57 783.23h0.01 M226.94 783.07h0.01 M228.32 782.93h0.01 M229.69 782.81h0.01 M231.07 782.70h0.01 M232.45 782.59h0.01 M233.82 782.49h0.01 M235.20 782.38h0.01 M236.57 782.28h0.01 M237.95 782.18h0.01 M239.32 782.08h0.01 M240.70 781.98h0.01" fill="none" stroke="#1a2392" stroke-width="1.7" stroke-linecap="round"/>
<path d="M48.10 837.60 L49.48 837.60 L50.85 837.60 L52.23 837.60 L53.60 837.60 L54.98 837.60 L56.35 837.60 L57.73 837.60 L59.11 837.60 L60.48 837.60 L61.86 837.60 L63.23 837.60 L64.61 837.60 L65.98 837.60 L67.36 837.60 L68.74 837.60 L70.11 837.60 L71.49 837.60 L72.86 837.60 L74.24 837.60 L75.61 837.60 L76.99 837.60 L78.37 837.60 L79.74 837.60 L81.12 837.60 L82.49 837.60 L83.87 837.60 L85.24 837.60 L86.62 837.60 L88.00 837.60 L89.37 837.60 L90.75 837.60 L92.12 835.95 L93.50 829.19 L94.87 813.11 L96.25 786.77 L97.63 756.33 L99.00 731.43 L100.38 713.39 L101.75 707.33 L103.13 708.38 L104.50 715.39 L105.88 725.97 L107.26 737.35 L108.63 748.19 L110.01 757.22 L111.38 765.49 L112.76 772.82 L114.13 778.84 L115.51 783.71 L116.89 788.05 L118.26 791.34 L119.64 793.73 L121.01 795.65 L122.39 796.85 L123.76 797.55 L125.14 798.00 L126.52 797.97 L127.89 797.34 L129.27 796.32 L130.64 795.20 L132.02 793.88 L133.39 792.21 L134.77 790.31 L136.15 788.32 L137.52 786.39 L138.90 784.34 L140.27 782.10 L141.65 779.89 L143.02 777.93 L144.40 776.48 L145.78 775.33 L147.15 774.27 L148.53 773.46 L149.90 773.03 L151.28 773.11 L152.65 773.57 L154.03 774.27 L155.41 775.10 L156.78 775.93 L158.16 776.86 L159.53 778.02 L160.91 779.29 L162.28 780.54 L163.66 781.66 L165.04 782.53 L166.41 783.25 L167.79 783.97 L169.16 784.66 L170.54 785.27 L171.91 785.78 L173.29 786.16 L174.67 786.36 L176.04 786.36 L177.42 786.19 L178.79 785.88 L180.17 785.47 L181.54 785.01 L182.92 784.52 L184.30 784.05 L185.67 783.63 L187.05 783.23 L188.42 782.76 L189.80 782.27 L191.17 781.77 L192.55 781.29 L193.93 780.85 L195.30 780.49 L196.68 780.22 L198.05 780.07 L199.43 780.07 L200.80 780.20 L202.18 780.44 L203.56 780.75 L204.93 781.11 L206.31 781.50 L207.68 781.88 L209.06 782.24 L210.43 782.53 L211.81 782.82 L213.19 783.13 L214.56 783.44 L215.94 783.73 L217.31 783.96 L218.69 784.13 L220.06 784.19 L221.44 784.15 L222.82 784.07 L224.19 783.94 L225.57 783.78 L226.94 783.60 L228.32 783.42 L229.69 783.24 L231.07 783.08 L232.45 782.94 L233.82 782.78 L235.20 782.63 L236.57 782.47 L237.95 782.31 L239.32 782.15 L240.70 781.98" fill="none" stroke="#f0382c" stroke-width="0.6"/>
<path d="M48.10 837.60h0.01 M49.48 837.60h0.01 M50.85 837.60h0.01 M52.23 837.60h0.01 M53.60 837.60h0.01 M54.98 837.60h0.01 M56.35 837.60h0.01 M57.73 837.60h0.01 M59.11 837.60h0.01 M60.48 837.60h0.01 M61.86 837.60h0.01 M63.23 837.60h0.01 M64.61 837.60h0.01 M65.98 837.60h0.01 M67.36 837.60h0.01 M68.74 837.60h0.01 M70.11 837.60h0.01 M71.49 837.60h0.01 M72.86 837.60h0.01 M74.24 837.60h0.01 M75.61 837.60h0.01 M76.99 837.60h0.01 M78.37 837.60h0.01 M79.74 837.60h0.01 M81.12 837.60h0.01 M82.49 837.60h0.01 M83.87 837.60h0.01 M85.24 837.60h0.01 M86.62 837.60h0.01 M88.00 837.60h0.01 M89.37 837.60h0.01 M90.75 837.60h0.01 M92.12 835.95h0.01 M93.50 829.19h0.01 M94.87 813.11h0.01 M96.25 786.77h0.01 M97.63 756.33h0.01 M99.00 731.43h0.01 M100.38 713.39h0.01 M101.75 707.33h0.01 M103.13 708.38h0.01 M104.50 715.39h0.01 M105.88 725.97h0.01 M107.26 737.35h0.01 M108.63 748.19h0.01 M110.01 757.22h0.01 M111.38 765.49h0.01 M112.76 772.82h0.01 M114.13 778.84h0.01 M115.51 783.71h0.01 M116.89 788.05h0.01 M118.26 791.34h0.01 M119.64 793.73h0.01 M121.01 795.65h0.01 M122.39 796.85h0.01 M123.76 797.55h0.01 M125.14 798.00h0.01 M126.52 797.97h0.01 M127.89 797.34h0.01 M129.27 796.32h0.01 M130.64 795.20h0.01 M132.02 793.88h0.01 M133.39 792.21h0.01 M134.77 790.31h0.01 M136.15 788.32h0.01 M137.52 786.39h0.01 M138.90 784.34h0.01 M140.27 782.10h0.01 M141.65 779.89h0.01 M143.02 777.93h0.01 M144.40 776.48h0.01 M145.78 775.33h0.01 M147.15 774.27h0.01 M148.53 773.46h0.01 M149.90 773.03h0.01 M151.28 773.11h0.01 M152.65 773.57h0.01 M154.03 774.27h0.01 M155.41 775.10h0.01 M156.78 775.93h0.01 M158.16 776.86h0.01 M159.53 778.02h0.01 M160.91 779.29h0.01 M162.28 780.54h0.01 M163.66 781.66h0.01 M165.04 782.53h0.01 M166.41 783.25h0.01 M167.79 783.97h0.01 M169.16 784.66h0.01 M170.54 785.27h0.01 M171.91 785.78h0.01 M173.29 786.16h0.01 M174.67 786.36h0.01 M176.04 786.36h0.01 M177.42 786.19h0.01 M178.79 785.88h0.01 M180.17 785.47h0.01 M181.54 785.01h0.01 M182.92 784.52h0.01 M184.30 784.05h0.01 M185.67 783.63h0.01 M187.05 783.23h0.01 M188.42 782.76h0.01 M189.80 782.27h0.01 M191.17 781.77h0.01 M192.55 781.29h0.01 M193.93 780.85h0.01 M195.30 780.49h0.01 M196.68 780.22h0.01 M198.05 780.07h0.01 M199.43 780.07h0.01 M200.80 780.20h0.01 M202.18 780.44h0.01 M203.56 780.75h0.01 M204.93 781.11h0.01 M206.31 781.50h0.01 M207.68 781.88h0.01 M209.06 782.24h0.01 M210.43 782.53h0.01 M211.81 782.82h0.01 M213.19 783.13h0.01 M214.56 783.44h0.01 M215.94 783.73h0.01 M217.31 783.96h0.01 M218.69 784.13h0.01 M220.06 784.19h0.01 M221.44 784.15h0.01 M222.82 784.07h0.01 M224.19 783.94h0.01 M225.57 783.78h0.01 M226.94 783.60h0.01 M228.32 783.42h0.01 M229.69 783.24h0.01 M231.07 783.08h0.01 M232.45 782.94h0.01 M233.82 782.78h0.01 M235.20 782.63h0.01 M236.57 782.47h0.01 M237.95 782.31h0.01 M239.32 782.15h0.01 M240.70 781.98h0.01" fill="none" stroke="#c41a1a" stroke-width="1.7" stroke-linecap="round"/>
<g font-family='"Liberation Sans", Arial, Helvetica, sans-serif' font-size="11.4" fill="#000">
<text x="49.50" y="854.1" text-anchor="middle">0</text>
<text x="77.01" y="854.1" text-anchor="middle">2</text>
<text x="104.53" y="854.1" text-anchor="middle">4</text>
<text x="132.04" y="854.1" text-anchor="middle">6</text>
<text x="159.56" y="854.1" text-anchor="middle">8</text>
<text x="187.07" y="854.1" text-anchor="middle">10</text>
<text x="214.59" y="854.1" text-anchor="middle">12</text>
<text x="242.10" y="854.1" text-anchor="middle">14</text>
<text x="144.40" y="870.6" text-anchor="middle">r (Å)</text>
<text x="41.2" y="841.90" text-anchor="end" font-size="11.9">0</text>
<text x="41.2" y="814.37" text-anchor="end" font-size="11.9">0.5</text>
<text x="41.2" y="786.83" text-anchor="end" font-size="11.9">1</text>
<text x="41.2" y="759.30" text-anchor="end" font-size="11.9">1.5</text>
<text x="41.2" y="731.77" text-anchor="end" font-size="11.9">2</text>
<text x="41.2" y="704.23" text-anchor="end" font-size="11.9">2.5</text>
<text x="41.2" y="676.70" text-anchor="end" font-size="11.9">3</text>
<text transform="translate(21.9,767) rotate(-90)" text-anchor="middle">RDF</text>
<text x="193.8" y="698.2" text-anchor="end" font-size="11.8">Ar−Ar</text>
<text x="193.8" y="709.7" text-anchor="end" font-size="11.8">Kr−Kr</text>
<path d="M200.4 694.4 H230.7" stroke="#3545c8" stroke-width="0.6"/><circle cx="215.5" cy="694.4" r="0.9" fill="#18208a"/>
<path d="M200.4 706.1 H230.7" stroke="#f0382c" stroke-width="0.6"/><circle cx="215.5" cy="706.1" r="0.9" fill="#b81414"/>
</g></g>
<g>
<rect x="260.20" y="672.40" width="191.80" height="165.20" fill="none" stroke="#8a8a8a" stroke-width="1"/>
<path d="M260.20 837.60 v-4.00 M260.20 672.40 v4.00 M267.05 837.60 v-2.20 M267.05 672.40 v2.20 M273.90 837.60 v-2.20 M273.90 672.40 v2.20 M280.75 837.60 v-2.20 M280.75 672.40 v2.20 M287.60 837.60 v-4.00 M287.60 672.40 v4.00 M294.45 837.60 v-2.20 M294.45 672.40 v2.20 M301.30 837.60 v-2.20 M301.30 672.40 v2.20 M308.15 837.60 v-2.20 M308.15 672.40 v2.20 M315.00 837.60 v-4.00 M315.00 672.40 v4.00 M321.85 837.60 v-2.20 M321.85 672.40 v2.20 M328.70 837.60 v-2.20 M328.70 672.40 v2.20 M335.55 837.60 v-2.20 M335.55 672.40 v2.20 M342.40 837.60 v-4.00 M342.40 672.40 v4.00 M349.25 837.60 v-2.20 M349.25 672.40 v2.20 M356.10 837.60 v-2.20 M356.10 672.40 v2.20 M362.95 837.60 v-2.20 M362.95 672.40 v2.20 M369.80 837.60 v-4.00 M369.80 672.40 v4.00 M376.65 837.60 v-2.20 M376.65 672.40 v2.20 M383.50 837.60 v-2.20 M383.50 672.40 v2.20 M390.35 837.60 v-2.20 M390.35 672.40 v2.20 M397.20 837.60 v-4.00 M397.20 672.40 v4.00 M404.05 837.60 v-2.20 M404.05 672.40 v2.20 M410.90 837.60 v-2.20 M410.90 672.40 v2.20 M417.75 837.60 v-2.20 M417.75 672.40 v2.20 M424.60 837.60 v-4.00 M424.60 672.40 v4.00 M431.45 837.60 v-2.20 M431.45 672.40 v2.20 M438.30 837.60 v-2.20 M438.30 672.40 v2.20 M445.15 837.60 v-2.20 M445.15 672.40 v2.20 M452.00 837.60 v-4.00 M452.00 672.40 v4.00 M260.20 837.60 h4.00 M452.00 837.60 h-4.00 M260.20 832.09 h2.20 M452.00 832.09 h-2.20 M260.20 826.59 h2.20 M452.00 826.59 h-2.20 M260.20 821.08 h2.20 M452.00 821.08 h-2.20 M260.20 815.57 h2.20 M452.00 815.57 h-2.20 M260.20 810.07 h4.00 M452.00 810.07 h-4.00 M260.20 804.56 h2.20 M452.00 804.56 h-2.20 M260.20 799.05 h2.20 M452.00 799.05 h-2.20 M260.20 793.55 h2.20 M452.00 793.55 h-2.20 M260.20 788.04 h2.20 M452.00 788.04 h-2.20 M260.20 782.53 h4.00 M452.00 782.53 h-4.00 M260.20 777.03 h2.20 M452.00 777.03 h-2.20 M260.20 771.52 h2.20 M452.00 771.52 h-2.20 M260.20 766.01 h2.20 M452.00 766.01 h-2.20 M260.20 760.51 h2.20 M452.00 760.51 h-2.20 M260.20 755.00 h4.00 M452.00 755.00 h-4.00 M260.20 749.49 h2.20 M452.00 749.49 h-2.20 M260.20 743.99 h2.20 M452.00 743.99 h-2.20 M260.20 738.48 h2.20 M452.00 738.48 h-2.20 M260.20 732.97 h2.20 M452.00 732.97 h-2.20 M260.20 727.47 h4.00 M452.00 727.47 h-4.00 M260.20 721.96 h2.20 M452.00 721.96 h-2.20 M260.20 716.45 h2.20 M452.00 716.45 h-2.20 M260.20 710.95 h2.20 M452.00 710.95 h-2.20 M260.20 705.44 h2.20 M452.00 705.44 h-2.20 M260.20 699.93 h4.00 M452.00 699.93 h-4.00 M260.20 694.43 h2.20 M452.00 694.43 h-2.20 M260.20 688.92 h2.20 M452.00 688.92 h-2.20 M260.20 683.41 h2.20 M452.00 683.41 h-2.20 M260.20 677.91 h2.20 M452.00 677.91 h-2.20 M260.20 672.40 h4.00 M452.00 672.40 h-4.00" stroke="#8a8a8a" stroke-width="0.8" fill="none"/>
<path d="M260.20 837.60 L261.57 837.60 L262.94 837.60 L264.31 837.60 L265.68 837.60 L267.05 837.60 L268.42 837.60 L269.79 837.60 L271.16 837.60 L272.53 837.60 L273.90 837.60 L275.27 837.60 L276.64 837.60 L278.01 837.60 L279.38 837.60 L280.75 837.60 L282.12 837.60 L283.49 837.60 L284.86 837.60 L286.23 837.60 L287.60 837.60 L288.97 837.60 L290.34 837.60 L291.71 837.60 L293.08 837.60 L294.45 837.60 L295.82 837.60 L297.19 837.60 L298.56 837.60 L299.93 837.11 L301.30 833.08 L302.67 820.86 L304.04 799.92 L305.41 773.94 L306.78 748.99 L308.15 731.00 L309.52 721.80 L310.89 719.45 L312.26 721.74 L313.63 727.16 L315.00 733.86 L316.37 740.87 L317.74 747.59 L319.11 754.12 L320.48 760.03 L321.85 764.94 L323.22 769.03 L324.59 772.08 L325.96 775.37 L327.33 777.76 L328.70 779.76 L330.07 781.63 L331.44 783.18 L332.81 783.97 L334.18 784.52 L335.55 784.83 L336.92 785.02 L338.29 784.95 L339.66 784.77 L341.03 784.24 L342.40 784.03 L343.77 783.10 L345.14 782.42 L346.51 781.65 L347.88 780.60 L349.25 779.87 L350.62 779.04 L351.99 778.47 L353.36 777.86 L354.73 777.98 L356.10 777.55 L357.47 777.03 L358.84 776.65 L360.21 776.37 L361.58 776.43 L362.95 776.99 L364.32 777.04 L365.69 777.30 L367.06 777.90 L368.43 778.32 L369.80 778.93 L371.17 779.26 L372.54 779.47 L373.91 779.70 L375.28 779.99 L376.65 780.25 L378.02 780.60 L379.39 780.63 L380.76 780.83 L382.13 780.79 L383.50 780.85 L384.87 781.06 L386.24 781.20 L387.61 781.27 L388.98 781.12 L390.35 781.20 L391.72 781.27 L393.09 781.17 L394.46 781.21 L395.83 780.91 L397.20 780.99 L398.57 780.60 L399.94 780.62 L401.31 780.48 L402.68 780.66 L404.05 780.37 L405.42 780.23 L406.79 780.49 L408.16 780.38 L409.53 780.35 L410.90 780.61 L412.27 780.37 L413.64 780.33 L415.01 780.67 L416.38 780.52 L417.75 780.85 L419.12 780.70 L420.49 781.01 L421.86 780.61 L423.23 780.78 L424.60 780.89 L425.97 781.04 L427.34 780.74 L428.71 780.66 L430.08 781.32 L431.45 780.84 L432.82 780.81 L434.19 781.05 L435.56 781.34 L436.93 781.02 L438.30 781.22 L439.67 781.32 L441.04 781.45 L442.41 781.19 L443.78 781.17 L445.15 781.43 L446.52 781.26 L447.89 781.56 L449.26 781.26 L450.63 781.41 L452.00 781.46" fill="none" stroke="#3545c8" stroke-width="0.6"/>
<path d="M260.20 837.60h0.01 M261.57 837.60h0.01 M262.94 837.60h0.01 M264.31 837.60h0.01 M265.68 837.60h0.01 M267.05 837.60h0.01 M268.42 837.60h0.01 M269.79 837.60h0.01 M271.16 837.60h0.01 M272.53 837.60h0.01 M273.90 837.60h0.01 M275.27 837.60h0.01 M276.64 837.60h0.01 M278.01 837.60h0.01 M279.38 837.60h0.01 M280.75 837.60h0.01 M282.12 837.60h0.01 M283.49 837.60h0.01 M284.86 837.60h0.01 M286.23 837.60h0.01 M287.60 837.60h0.01 M288.97 837.60h0.01 M290.34 837.60h0.01 M291.71 837.60h0.01 M293.08 837.60h0.01 M294.45 837.60h0.01 M295.82 837.60h0.01 M297.19 837.60h0.01 M298.56 837.60h0.01 M299.93 837.11h0.01 M301.30 833.08h0.01 M302.67 820.86h0.01 M304.04 799.92h0.01 M305.41 773.94h0.01 M306.78 748.99h0.01 M308.15 731.00h0.01 M309.52 721.80h0.01 M310.89 719.45h0.01 M312.26 721.74h0.01 M313.63 727.16h0.01 M315.00 733.86h0.01 M316.37 740.87h0.01 M317.74 747.59h0.01 M319.11 754.12h0.01 M320.48 760.03h0.01 M321.85 764.94h0.01 M323.22 769.03h0.01 M324.59 772.08h0.01 M325.96 775.37h0.01 M327.33 777.76h0.01 M328.70 779.76h0.01 M330.07 781.63h0.01 M331.44 783.18h0.01 M332.81 783.97h0.01 M334.18 784.52h0.01 M335.55 784.83h0.01 M336.92 785.02h0.01 M338.29 784.95h0.01 M339.66 784.77h0.01 M341.03 784.24h0.01 M342.40 784.03h0.01 M343.77 783.10h0.01 M345.14 782.42h0.01 M346.51 781.65h0.01 M347.88 780.60h0.01 M349.25 779.87h0.01 M350.62 779.04h0.01 M351.99 778.47h0.01 M353.36 777.86h0.01 M354.73 777.98h0.01 M356.10 777.55h0.01 M357.47 777.03h0.01 M358.84 776.65h0.01 M360.21 776.37h0.01 M361.58 776.43h0.01 M362.95 776.99h0.01 M364.32 777.04h0.01 M365.69 777.30h0.01 M367.06 777.90h0.01 M368.43 778.32h0.01 M369.80 778.93h0.01 M371.17 779.26h0.01 M372.54 779.47h0.01 M373.91 779.70h0.01 M375.28 779.99h0.01 M376.65 780.25h0.01 M378.02 780.60h0.01 M379.39 780.63h0.01 M380.76 780.83h0.01 M382.13 780.79h0.01 M383.50 780.85h0.01 M384.87 781.06h0.01 M386.24 781.20h0.01 M387.61 781.27h0.01 M388.98 781.12h0.01 M390.35 781.20h0.01 M391.72 781.27h0.01 M393.09 781.17h0.01 M394.46 781.21h0.01 M395.83 780.91h0.01 M397.20 780.99h0.01 M398.57 780.60h0.01 M399.94 780.62h0.01 M401.31 780.48h0.01 M402.68 780.66h0.01 M404.05 780.37h0.01 M405.42 780.23h0.01 M406.79 780.49h0.01 M408.16 780.38h0.01 M409.53 780.35h0.01 M410.90 780.61h0.01 M412.27 780.37h0.01 M413.64 780.33h0.01 M415.01 780.67h0.01 M416.38 780.52h0.01 M417.75 780.85h0.01 M419.12 780.70h0.01 M420.49 781.01h0.01 M421.86 780.61h0.01 M423.23 780.78h0.01 M424.60 780.89h0.01 M425.97 781.04h0.01 M427.34 780.74h0.01 M428.71 780.66h0.01 M430.08 781.32h0.01 M431.45 780.84h0.01 M432.82 780.81h0.01 M434.19 781.05h0.01 M435.56 781.34h0.01 M436.93 781.02h0.01 M438.30 781.22h0.01 M439.67 781.32h0.01 M441.04 781.45h0.01 M442.41 781.19h0.01 M443.78 781.17h0.01 M445.15 781.43h0.01 M446.52 781.26h0.01 M447.89 781.56h0.01 M449.26 781.26h0.01 M450.63 781.41h0.01 M452.00 781.46h0.01" fill="none" stroke="#1a2392" stroke-width="1.7" stroke-linecap="round"/>
<path d="M260.20 837.60 L261.57 837.60 L262.94 837.60 L264.31 837.60 L265.68 837.60 L267.05 837.60 L268.42 837.60 L269.79 837.60 L271.16 837.60 L272.53 837.60 L273.90 837.60 L275.27 837.60 L276.64 837.60 L278.01 837.60 L279.38 837.60 L280.75 837.60 L282.12 837.60 L283.49 837.60 L284.86 837.60 L286.23 837.60 L287.60 837.60 L288.97 837.60 L290.34 837.60 L291.71 837.60 L293.08 837.60 L294.45 837.60 L295.82 837.60 L297.19 837.60 L298.56 837.60 L299.93 837.60 L301.30 837.60 L302.67 837.60 L304.04 835.95 L305.41 827.94 L306.78 808.87 L308.15 778.62 L309.52 744.74 L310.89 714.08 L312.26 694.45 L313.63 683.94 L315.00 680.66 L316.37 683.98 L317.74 693.66 L319.11 705.01 L320.48 716.10 L321.85 727.33 L323.22 737.34 L324.59 746.35 L325.96 754.06 L327.33 760.02 L328.70 765.12 L330.07 769.50 L331.44 772.82 L332.81 775.26 L334.18 777.34 L335.55 778.80 L336.92 779.98 L338.29 780.43 L339.66 780.95 L341.03 781.51 L342.40 781.14 L343.77 780.60 L345.14 779.84 L346.51 778.92 L347.88 778.47 L349.25 777.16 L350.62 776.09 L351.99 774.93 L353.36 773.35 L354.73 772.22 L356.10 771.63 L357.47 770.74 L358.84 770.33 L360.21 769.69 L361.58 769.42 L362.95 768.66 L364.32 769.21 L365.69 768.92 L367.06 769.28 L368.43 770.47 L369.80 771.03 L371.17 771.88 L372.54 772.49 L373.91 773.12 L375.28 774.14 L376.65 775.06 L378.02 775.29 L379.39 775.89 L380.76 776.55 L382.13 776.69 L383.50 776.94 L384.87 777.15 L386.24 777.41 L387.61 777.37 L388.98 778.01 L390.35 777.61 L391.72 777.73 L393.09 777.81 L394.46 777.55 L395.83 778.08 L397.20 777.44 L398.57 777.51 L399.94 777.69 L401.31 777.37 L402.68 777.44 L404.05 776.92 L405.42 777.01 L406.79 777.23 L408.16 777.43 L409.53 777.45 L410.90 777.47 L412.27 777.59 L413.64 777.73 L415.01 777.79 L416.38 777.84 L417.75 778.00 L419.12 778.14 L420.49 778.29 L421.86 777.81 L423.23 778.57 L424.60 778.57 L425.97 778.40 L427.34 778.59 L428.71 778.53 L430.08 778.54 L431.45 778.52 L432.82 778.67 L434.19 779.02 L435.56 778.73 L436.93 779.27 L438.30 779.05 L439.67 779.17 L441.04 779.32 L442.41 779.09 L443.78 779.27 L445.15 779.12 L446.52 779.58 L447.89 779.24 L449.26 779.34 L450.63 779.45 L452.00 779.74" fill="none" stroke="#f0382c" stroke-width="0.6"/>
<path d="M260.20 837.60h0.01 M261.57 837.60h0.01 M262.94 837.60h0.01 M264.31 837.60h0.01 M265.68 837.60h0.01 M267.05 837.60h0.01 M268.42 837.60h0.01 M269.79 837.60h0.01 M271.16 837.60h0.01 M272.53 837.60h0.01 M273.90 837.60h0.01 M275.27 837.60h0.01 M276.64 837.60h0.01 M278.01 837.60h0.01 M279.38 837.60h0.01 M280.75 837.60h0.01 M282.12 837.60h0.01 M283.49 837.60h0.01 M284.86 837.60h0.01 M286.23 837.60h0.01 M287.60 837.60h0.01 M288.97 837.60h0.01 M290.34 837.60h0.01 M291.71 837.60h0.01 M293.08 837.60h0.01 M294.45 837.60h0.01 M295.82 837.60h0.01 M297.19 837.60h0.01 M298.56 837.60h0.01 M299.93 837.60h0.01 M301.30 837.60h0.01 M302.67 837.60h0.01 M304.04 835.95h0.01 M305.41 827.94h0.01 M306.78 808.87h0.01 M308.15 778.62h0.01 M309.52 744.74h0.01 M310.89 714.08h0.01 M312.26 694.45h0.01 M313.63 683.94h0.01 M315.00 680.66h0.01 M316.37 683.98h0.01 M317.74 693.66h0.01 M319.11 705.01h0.01 M320.48 716.10h0.01 M321.85 727.33h0.01 M323.22 737.34h0.01 M324.59 746.35h0.01 M325.96 754.06h0.01 M327.33 760.02h0.01 M328.70 765.12h0.01 M330.07 769.50h0.01 M331.44 772.82h0.01 M332.81 775.26h0.01 M334.18 777.34h0.01 M335.55 778.80h0.01 M336.92 779.98h0.01 M338.29 780.43h0.01 M339.66 780.95h0.01 M341.03 781.51h0.01 M342.40 781.14h0.01 M343.77 780.60h0.01 M345.14 779.84h0.01 M346.51 778.92h0.01 M347.88 778.47h0.01 M349.25 777.16h0.01 M350.62 776.09h0.01 M351.99 774.93h0.01 M353.36 773.35h0.01 M354.73 772.22h0.01 M356.10 771.63h0.01 M357.47 770.74h0.01 M358.84 770.33h0.01 M360.21 769.69h0.01 M361.58 769.42h0.01 M362.95 768.66h0.01 M364.32 769.21h0.01 M365.69 768.92h0.01 M367.06 769.28h0.01 M368.43 770.47h0.01 M369.80 771.03h0.01 M371.17 771.88h0.01 M372.54 772.49h0.01 M373.91 773.12h0.01 M375.28 774.14h0.01 M376.65 775.06h0.01 M378.02 775.29h0.01 M379.39 775.89h0.01 M380.76 776.55h0.01 M382.13 776.69h0.01 M383.50 776.94h0.01 M384.87 777.15h0.01 M386.24 777.41h0.01 M387.61 777.37h0.01 M388.98 778.01h0.01 M390.35 777.61h0.01 M391.72 777.73h0.01 M393.09 777.81h0.01 M394.46 777.55h0.01 M395.83 778.08h0.01 M397.20 777.44h0.01 M398.57 777.51h0.01 M399.94 777.69h0.01 M401.31 777.37h0.01 M402.68 777.44h0.01 M404.05 776.92h0.01 M405.42 777.01h0.01 M406.79 777.23h0.01 M408.16 777.43h0.01 M409.53 777.45h0.01 M410.90 777.47h0.01 M412.27 777.59h0.01 M413.64 777.73h0.01 M415.01 777.79h0.01 M416.38 777.84h0.01 M417.75 778.00h0.01 M419.12 778.14h0.01 M420.49 778.29h0.01 M421.86 777.81h0.01 M423.23 778.57h0.01 M424.60 778.57h0.01 M425.97 778.40h0.01 M427.34 778.59h0.01 M428.71 778.53h0.01 M430.08 778.54h0.01 M431.45 778.52h0.01 M432.82 778.67h0.01 M434.19 779.02h0.01 M435.56 778.73h0.01 M436.93 779.27h0.01 M438.30 779.05h0.01 M439.67 779.17h0.01 M441.04 779.32h0.01 M442.41 779.09h0.01 M443.78 779.27h0.01 M445.15 779.12h0.01 M446.52 779.58h0.01 M447.89 779.24h0.01 M449.26 779.34h0.01 M450.63 779.45h0.01 M452.00 779.74h0.01" fill="none" stroke="#c41a1a" stroke-width="1.7" stroke-linecap="round"/>
<g font-family='"Liberation Sans", Arial, Helvetica, sans-serif' font-size="11.4" fill="#000">
<text x="261.60" y="854.1" text-anchor="middle">0</text>
<text x="289.00" y="854.1" text-anchor="middle">2</text>
<text x="316.40" y="854.1" text-anchor="middle">4</text>
<text x="343.80" y="854.1" text-anchor="middle">6</text>
<text x="371.20" y="854.1" text-anchor="middle">8</text>
<text x="398.60" y="854.1" text-anchor="middle">10</text>
<text x="426.00" y="854.1" text-anchor="middle">12</text>
<text x="453.40" y="854.1" text-anchor="middle">14</text>
<text x="356.10" y="870.6" text-anchor="middle">r (Å)</text>
</g></g>
<g>
<rect x="472.40" y="672.40" width="192.20" height="165.20" fill="none" stroke="#8a8a8a" stroke-width="1"/>
<path d="M472.40 837.60 v-4.00 M472.40 672.40 v4.00 M479.26 837.60 v-2.20 M479.26 672.40 v2.20 M486.13 837.60 v-2.20 M486.13 672.40 v2.20 M492.99 837.60 v-2.20 M492.99 672.40 v2.20 M499.86 837.60 v-4.00 M499.86 672.40 v4.00 M506.72 837.60 v-2.20 M506.72 672.40 v2.20 M513.59 837.60 v-2.20 M513.59 672.40 v2.20 M520.45 837.60 v-2.20 M520.45 672.40 v2.20 M527.31 837.60 v-4.00 M527.31 672.40 v4.00 M534.18 837.60 v-2.20 M534.18 672.40 v2.20 M541.04 837.60 v-2.20 M541.04 672.40 v2.20 M547.91 837.60 v-2.20 M547.91 672.40 v2.20 M554.77 837.60 v-4.00 M554.77 672.40 v4.00 M561.64 837.60 v-2.20 M561.64 672.40 v2.20 M568.50 837.60 v-2.20 M568.50 672.40 v2.20 M575.36 837.60 v-2.20 M575.36 672.40 v2.20 M582.23 837.60 v-4.00 M582.23 672.40 v4.00 M589.09 837.60 v-2.20 M589.09 672.40 v2.20 M595.96 837.60 v-2.20 M595.96 672.40 v2.20 M602.82 837.60 v-2.20 M602.82 672.40 v2.20 M609.69 837.60 v-4.00 M609.69 672.40 v4.00 M616.55 837.60 v-2.20 M616.55 672.40 v2.20 M623.41 837.60 v-2.20 M623.41 672.40 v2.20 M630.28 837.60 v-2.20 M630.28 672.40 v2.20 M637.14 837.60 v-4.00 M637.14 672.40 v4.00 M644.01 837.60 v-2.20 M644.01 672.40 v2.20 M650.87 837.60 v-2.20 M650.87 672.40 v2.20 M657.74 837.60 v-2.20 M657.74 672.40 v2.20 M664.60 837.60 v-4.00 M664.60 672.40 v4.00 M472.40 837.60 h4.00 M664.60 837.60 h-4.00 M472.40 832.09 h2.20 M664.60 832.09 h-2.20 M472.40 826.59 h2.20 M664.60 826.59 h-2.20 M472.40 821.08 h2.20 M664.60 821.08 h-2.20 M472.40 815.57 h2.20 M664.60 815.57 h-2.20 M472.40 810.07 h4.00 M664.60 810.07 h-4.00 M472.40 804.56 h2.20 M664.60 804.56 h-2.20 M472.40 799.05 h2.20 M664.60 799.05 h-2.20 M472.40 793.55 h2.20 M664.60 793.55 h-2.20 M472.40 788.04 h2.20 M664.60 788.04 h-2.20 M472.40 782.53 h4.00 M664.60 782.53 h-4.00 M472.40 777.03 h2.20 M664.60 777.03 h-2.20 M472.40 771.52 h2.20 M664.60 771.52 h-2.20 M472.40 766.01 h2.20 M664.60 766.01 h-2.20 M472.40 760.51 h2.20 M664.60 760.51 h-2.20 M472.40 755.00 h4.00 M664.60 755.00 h-4.00 M472.40 749.49 h2.20 M664.60 749.49 h-2.20 M472.40 743.99 h2.20 M664.60 743.99 h-2.20 M472.40 738.48 h2.20 M664.60 738.48 h-2.20 M472.40 732.97 h2.20 M664.60 732.97 h-2.20 M472.40 727.47 h4.00 M664.60 727.47 h-4.00 M472.40 721.96 h2.20 M664.60 721.96 h-2.20 M472.40 716.45 h2.20 M664.60 716.45 h-2.20 M472.40 710.95 h2.20 M664.60 710.95 h-2.20 M472.40 705.44 h2.20 M664.60 705.44 h-2.20 M472.40 699.93 h4.00 M664.60 699.93 h-4.00 M472.40 694.43 h2.20 M664.60 694.43 h-2.20 M472.40 688.92 h2.20 M664.60 688.92 h-2.20 M472.40 683.41 h2.20 M664.60 683.41 h-2.20 M472.40 677.91 h2.20 M664.60 677.91 h-2.20 M472.40 672.40 h4.00 M664.60 672.40 h-4.00" stroke="#8a8a8a" stroke-width="0.8" fill="none"/>
<path d="M472.40 837.60 L473.77 837.60 L475.15 837.60 L476.52 837.60 L477.89 837.60 L479.26 837.60 L480.64 837.60 L482.01 837.60 L483.38 837.60 L484.76 837.60 L486.13 837.60 L487.50 837.60 L488.87 837.60 L490.25 837.60 L491.62 837.60 L492.99 837.60 L494.37 837.60 L495.74 837.60 L497.11 837.60 L498.48 837.60 L499.86 837.60 L501.23 837.60 L502.60 837.60 L503.98 837.60 L505.35 837.60 L506.72 837.60 L508.09 837.60 L509.47 837.60 L510.84 837.60 L512.21 837.12 L513.59 832.84 L514.96 819.32 L516.33 797.27 L517.70 773.20 L519.08 754.24 L520.45 742.02 L521.82 733.93 L523.20 730.95 L524.57 732.44 L525.94 735.94 L527.31 741.34 L528.69 746.46 L530.06 750.98 L531.43 755.60 L532.81 759.94 L534.18 763.75 L535.55 767.42 L536.92 770.14 L538.30 773.29 L539.67 774.96 L541.04 776.40 L542.42 778.02 L543.79 779.26 L545.16 780.18 L546.53 780.81 L547.91 782.12 L549.28 782.20 L550.65 783.29 L552.03 783.20 L553.40 783.55 L554.77 782.72 L556.14 782.49 L557.52 782.66 L558.89 781.95 L560.26 782.34 L561.64 781.95 L563.01 781.77 L564.38 781.88 L565.75 781.30 L567.13 780.73 L568.50 781.27 L569.87 780.63 L571.25 780.76 L572.62 780.20 L573.99 780.49 L575.36 780.46 L576.74 780.54 L578.11 780.74 L579.48 781.28 L580.86 780.74 L582.23 781.59 L583.60 781.35 L584.97 781.41 L586.35 781.90 L587.72 781.76 L589.09 781.58 L590.47 781.93 L591.84 782.19 L593.21 782.74 L594.58 782.31 L595.96 782.26 L597.33 782.28 L598.70 782.42 L600.08 782.13 L601.45 782.39 L602.82 782.31 L604.19 782.14 L605.57 782.54 L606.94 782.42 L608.31 781.82 L609.69 782.15 L611.06 782.70 L612.43 782.40 L613.80 782.25 L615.18 782.09 L616.55 782.37 L617.92 782.55 L619.30 782.60 L620.67 782.27 L622.04 782.36 L623.41 782.57 L624.79 782.49 L626.16 782.56 L627.53 782.28 L628.91 782.63 L630.28 782.35 L631.65 782.26 L633.02 782.36 L634.40 782.69 L635.77 782.15 L637.14 782.66 L638.52 782.39 L639.89 782.69 L641.26 782.94 L642.63 782.45 L644.01 782.44 L645.38 782.53 L646.75 782.45 L648.13 782.68 L649.50 782.70 L650.87 782.56 L652.24 782.05 L653.62 782.32 L654.99 782.66 L656.36 782.39 L657.74 782.65 L659.11 782.65 L660.48 782.32 L661.85 782.66 L663.23 782.95 L664.60 782.76" fill="none" stroke="#3545c8" stroke-width="0.6"/>
<path d="M472.40 837.60h0.01 M473.77 837.60h0.01 M475.15 837.60h0.01 M476.52 837.60h0.01 M477.89 837.60h0.01 M479.26 837.60h0.01 M480.64 837.60h0.01 M482.01 837.60h0.01 M483.38 837.60h0.01 M484.76 837.60h0.01 M486.13 837.60h0.01 M487.50 837.60h0.01 M488.87 837.60h0.01 M490.25 837.60h0.01 M491.62 837.60h0.01 M492.99 837.60h0.01 M494.37 837.60h0.01 M495.74 837.60h0.01 M497.11 837.60h0.01 M498.48 837.60h0.01 M499.86 837.60h0.01 M501.23 837.60h0.01 M502.60 837.60h0.01 M503.98 837.60h0.01 M505.35 837.60h0.01 M506.72 837.60h0.01 M508.09 837.60h0.01 M509.47 837.60h0.01 M510.84 837.60h0.01 M512.21 837.12h0.01 M513.59 832.84h0.01 M514.96 819.32h0.01 M516.33 797.27h0.01 M517.70 773.20h0.01 M519.08 754.24h0.01 M520.45 742.02h0.01 M521.82 733.93h0.01 M523.20 730.95h0.01 M524.57 732.44h0.01 M525.94 735.94h0.01 M527.31 741.34h0.01 M528.69 746.46h0.01 M530.06 750.98h0.01 M531.43 755.60h0.01 M532.81 759.94h0.01 M534.18 763.75h0.01 M535.55 767.42h0.01 M536.92 770.14h0.01 M538.30 773.29h0.01 M539.67 774.96h0.01 M541.04 776.40h0.01 M542.42 778.02h0.01 M543.79 779.26h0.01 M545.16 780.18h0.01 M546.53 780.81h0.01 M547.91 782.12h0.01 M549.28 782.20h0.01 M550.65 783.29h0.01 M552.03 783.20h0.01 M553.40 783.55h0.01 M554.77 782.72h0.01 M556.14 782.49h0.01 M557.52 782.66h0.01 M558.89 781.95h0.01 M560.26 782.34h0.01 M561.64 781.95h0.01 M563.01 781.77h0.01 M564.38 781.88h0.01 M565.75 781.30h0.01 M567.13 780.73h0.01 M568.50 781.27h0.01 M569.87 780.63h0.01 M571.25 780.76h0.01 M572.62 780.20h0.01 M573.99 780.49h0.01 M575.36 780.46h0.01 M576.74 780.54h0.01 M578.11 780.74h0.01 M579.48 781.28h0.01 M580.86 780.74h0.01 M582.23 781.59h0.01 M583.60 781.35h0.01 M584.97 781.41h0.01 M586.35 781.90h0.01 M587.72 781.76h0.01 M589.09 781.58h0.01 M590.47 781.93h0.01 M591.84 782.19h0.01 M593.21 782.74h0.01 M594.58 782.31h0.01 M595.96 782.26h0.01 M597.33 782.28h0.01 M598.70 782.42h0.01 M600.08 782.13h0.01 M601.45 782.39h0.01 M602.82 782.31h0.01 M604.19 782.14h0.01 M605.57 782.54h0.01 M606.94 782.42h0.01 M608.31 781.82h0.01 M609.69 782.15h0.01 M611.06 782.70h0.01 M612.43 782.40h0.01 M613.80 782.25h0.01 M615.18 782.09h0.01 M616.55 782.37h0.01 M617.92 782.55h0.01 M619.30 782.60h0.01 M620.67 782.27h0.01 M622.04 782.36h0.01 M623.41 782.57h0.01 M624.79 782.49h0.01 M626.16 782.56h0.01 M627.53 782.28h0.01 M628.91 782.63h0.01 M630.28 782.35h0.01 M631.65 782.26h0.01 M633.02 782.36h0.01 M634.40 782.69h0.01 M635.77 782.15h0.01 M637.14 782.66h0.01 M638.52 782.39h0.01 M639.89 782.69h0.01 M641.26 782.94h0.01 M642.63 782.45h0.01 M644.01 782.44h0.01 M645.38 782.53h0.01 M646.75 782.45h0.01 M648.13 782.68h0.01 M649.50 782.70h0.01 M650.87 782.56h0.01 M652.24 782.05h0.01 M653.62 782.32h0.01 M654.99 782.66h0.01 M656.36 782.39h0.01 M657.74 782.65h0.01 M659.11 782.65h0.01 M660.48 782.32h0.01 M661.85 782.66h0.01 M663.23 782.95h0.01 M664.60 782.76h0.01" fill="none" stroke="#1a2392" stroke-width="1.7" stroke-linecap="round"/>
<path d="M472.40 837.60 L473.77 837.60 L475.15 837.60 L476.52 837.60 L477.89 837.60 L479.26 837.60 L480.64 837.60 L482.01 837.60 L483.38 837.60 L484.76 837.60 L486.13 837.60 L487.50 837.60 L488.87 837.60 L490.25 837.60 L491.62 837.60 L492.99 837.60 L494.37 837.60 L495.74 837.60 L497.11 837.60 L498.48 837.60 L499.86 837.60 L501.23 837.60 L502.60 837.60 L503.98 837.60 L505.35 837.60 L506.72 837.60 L508.09 837.60 L509.47 837.60 L510.84 837.60 L512.21 837.60 L513.59 837.60 L514.96 837.60 L516.33 835.95 L517.70 826.68 L519.08 804.12 L520.45 778.17 L521.82 752.72 L523.20 729.42 L524.57 713.99 L525.94 706.69 L527.31 704.74 L528.69 707.12 L530.06 713.30 L531.43 720.25 L532.81 726.78 L534.18 734.46 L535.55 742.17 L536.92 748.64 L538.30 754.53 L539.67 758.88 L541.04 762.80 L542.42 766.81 L543.79 769.29 L545.16 772.00 L546.53 774.40 L547.91 775.82 L549.28 777.65 L550.65 778.31 L552.03 779.21 L553.40 780.05 L554.77 780.18 L556.14 781.12 L557.52 781.24 L558.89 781.40 L560.26 781.08 L561.64 781.31 L563.01 780.66 L564.38 781.04 L565.75 780.73 L567.13 780.11 L568.50 780.14 L569.87 780.18 L571.25 779.72 L572.62 779.93 L573.99 779.62 L575.36 779.78 L576.74 780.04 L578.11 779.79 L579.48 779.80 L580.86 780.28 L582.23 780.66 L583.60 780.72 L584.97 781.39 L586.35 781.14 L587.72 781.44 L589.09 780.82 L590.47 781.57 L591.84 781.90 L593.21 781.39 L594.58 781.73 L595.96 781.75 L597.33 781.79 L598.70 781.85 L600.08 782.06 L601.45 781.80 L602.82 781.96 L604.19 782.26 L605.57 782.22 L606.94 782.45 L608.31 782.17 L609.69 782.08 L611.06 782.11 L612.43 782.13 L613.80 782.33 L615.18 781.92 L616.55 782.38 L617.92 782.33 L619.30 782.43 L620.67 782.34 L622.04 782.43 L623.41 781.88 L624.79 782.29 L626.16 782.82 L627.53 782.52 L628.91 782.77 L630.28 782.21 L631.65 782.10 L633.02 782.56 L634.40 782.30 L635.77 782.51 L637.14 782.37 L638.52 782.04 L639.89 782.57 L641.26 782.79 L642.63 782.31 L644.01 782.37 L645.38 782.33 L646.75 782.25 L648.13 782.68 L649.50 783.00 L650.87 782.26 L652.24 782.62 L653.62 782.82 L654.99 782.81 L656.36 782.25 L657.74 782.48 L659.11 782.46 L660.48 782.32 L661.85 782.70 L663.23 782.81 L664.60 782.74" fill="none" stroke="#f0382c" stroke-width="0.6"/>
<path d="M472.40 837.60h0.01 M473.77 837.60h0.01 M475.15 837.60h0.01 M476.52 837.60h0.01 M477.89 837.60h0.01 M479.26 837.60h0.01 M480.64 837.60h0.01 M482.01 837.60h0.01 M483.38 837.60h0.01 M484.76 837.60h0.01 M486.13 837.60h0.01 M487.50 837.60h0.01 M488.87 837.60h0.01 M490.25 837.60h0.01 M491.62 837.60h0.01 M492.99 837.60h0.01 M494.37 837.60h0.01 M495.74 837.60h0.01 M497.11 837.60h0.01 M498.48 837.60h0.01 M499.86 837.60h0.01 M501.23 837.60h0.01 M502.60 837.60h0.01 M503.98 837.60h0.01 M505.35 837.60h0.01 M506.72 837.60h0.01 M508.09 837.60h0.01 M509.47 837.60h0.01 M510.84 837.60h0.01 M512.21 837.60h0.01 M513.59 837.60h0.01 M514.96 837.60h0.01 M516.33 835.95h0.01 M517.70 826.68h0.01 M519.08 804.12h0.01 M520.45 778.17h0.01 M521.82 752.72h0.01 M523.20 729.42h0.01 M524.57 713.99h0.01 M525.94 706.69h0.01 M527.31 704.74h0.01 M528.69 707.12h0.01 M530.06 713.30h0.01 M531.43 720.25h0.01 M532.81 726.78h0.01 M534.18 734.46h0.01 M535.55 742.17h0.01 M536.92 748.64h0.01 M538.30 754.53h0.01 M539.67 758.88h0.01 M541.04 762.80h0.01 M542.42 766.81h0.01 M543.79 769.29h0.01 M545.16 772.00h0.01 M546.53 774.40h0.01 M547.91 775.82h0.01 M549.28 777.65h0.01 M550.65 778.31h0.01 M552.03 779.21h0.01 M553.40 780.05h0.01 M554.77 780.18h0.01 M556.14 781.12h0.01 M557.52 781.24h0.01 M558.89 781.40h0.01 M560.26 781.08h0.01 M561.64 781.31h0.01 M563.01 780.66h0.01 M564.38 781.04h0.01 M565.75 780.73h0.01 M567.13 780.11h0.01 M568.50 780.14h0.01 M569.87 780.18h0.01 M571.25 779.72h0.01 M572.62 779.93h0.01 M573.99 779.62h0.01 M575.36 779.78h0.01 M576.74 780.04h0.01 M578.11 779.79h0.01 M579.48 779.80h0.01 M580.86 780.28h0.01 M582.23 780.66h0.01 M583.60 780.72h0.01 M584.97 781.39h0.01 M586.35 781.14h0.01 M587.72 781.44h0.01 M589.09 780.82h0.01 M590.47 781.57h0.01 M591.84 781.90h0.01 M593.21 781.39h0.01 M594.58 781.73h0.01 M595.96 781.75h0.01 M597.33 781.79h0.01 M598.70 781.85h0.01 M600.08 782.06h0.01 M601.45 781.80h0.01 M602.82 781.96h0.01 M604.19 782.26h0.01 M605.57 782.22h0.01 M606.94 782.45h0.01 M608.31 782.17h0.01 M609.69 782.08h0.01 M611.06 782.11h0.01 M612.43 782.13h0.01 M613.80 782.33h0.01 M615.18 781.92h0.01 M616.55 782.38h0.01 M617.92 782.33h0.01 M619.30 782.43h0.01 M620.67 782.34h0.01 M622.04 782.43h0.01 M623.41 781.88h0.01 M624.79 782.29h0.01 M626.16 782.82h0.01 M627.53 782.52h0.01 M628.91 782.77h0.01 M630.28 782.21h0.01 M631.65 782.10h0.01 M633.02 782.56h0.01 M634.40 782.30h0.01 M635.77 782.51h0.01 M637.14 782.37h0.01 M638.52 782.04h0.01 M639.89 782.57h0.01 M641.26 782.79h0.01 M642.63 782.31h0.01 M644.01 782.37h0.01 M645.38 782.33h0.01 M646.75 782.25h0.01 M648.13 782.68h0.01 M649.50 783.00h0.01 M650.87 782.26h0.01 M652.24 782.62h0.01 M653.62 782.82h0.01 M654.99 782.81h0.01 M656.36 782.25h0.01 M657.74 782.48h0.01 M659.11 782.46h0.01 M660.48 782.32h0.01 M661.85 782.70h0.01 M663.23 782.81h0.01 M664.60 782.74h0.01" fill="none" stroke="#c41a1a" stroke-width="1.7" stroke-linecap="round"/>
<g font-family='"Liberation Sans", Arial, Helvetica, sans-serif' font-size="11.4" fill="#000">
<text x="473.80" y="854.1" text-anchor="middle">0</text>
<text x="501.26" y="854.1" text-anchor="middle">2</text>
<text x="528.71" y="854.1" text-anchor="middle">4</text>
<text x="556.17" y="854.1" text-anchor="middle">6</text>
<text x="583.63" y="854.1" text-anchor="middle">8</text>
<text x="611.09" y="854.1" text-anchor="middle">10</text>
<text x="638.54" y="854.1" text-anchor="middle">12</text>
<text x="666.00" y="854.1" text-anchor="middle">14</text>
<text x="568.50" y="870.6" text-anchor="middle">r (Å)</text>
</g></g>
</svg></body></html>
